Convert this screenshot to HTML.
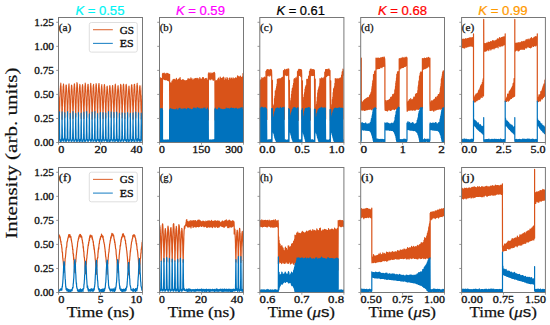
<!DOCTYPE html><html><head><meta charset="utf-8"><style>html,body{margin:0;padding:0;background:#fff;overflow:hidden}svg{display:block}</style></head><body>
<svg width="550" height="325" viewBox="0 0 550 325">
<rect width="550" height="325" fill="#fff"/>
<defs>
<clipPath id="c00"><rect x="58.50" y="17.50" width="84.00" height="125.00"/></clipPath>
<clipPath id="c01"><rect x="159.50" y="17.50" width="84.00" height="125.00"/></clipPath>
<clipPath id="c02"><rect x="259.80" y="17.50" width="84.10" height="125.00"/></clipPath>
<clipPath id="c03"><rect x="360.70" y="17.50" width="83.80" height="125.00"/></clipPath>
<clipPath id="c04"><rect x="461.60" y="17.50" width="83.80" height="125.00"/></clipPath>
<clipPath id="c10"><rect x="58.50" y="167.50" width="84.00" height="125.00"/></clipPath>
<clipPath id="c11"><rect x="159.50" y="167.50" width="84.00" height="125.00"/></clipPath>
<clipPath id="c12"><rect x="259.80" y="167.50" width="84.10" height="125.00"/></clipPath>
<clipPath id="c13"><rect x="360.70" y="167.50" width="83.80" height="125.00"/></clipPath>
<clipPath id="c14"><rect x="461.60" y="167.50" width="83.80" height="125.00"/></clipPath>
</defs>
<g clip-path="url(#c00)" fill="none" stroke-width="1.05" stroke-linejoin="round" stroke-linecap="butt">
<path stroke="#D95319" d="M58.5 90.4L58.6 91.9 58.6 95 58.7 96.6 58.8 97.8 58.8 101.4 58.9 102.6 58.9 104.6 59 106.1 59.1 108.7 59.1 111.5 59.2 113.7 59.2 115.8 59.3 116.7 59.4 118.1 59.4 116.2 59.5 113.7 59.6 111.8 59.6 109.6 59.7 107.8 59.8 104.9 59.8 102.9 59.9 99.8 59.9 98 60 96.4 60.1 94.1 60.1 92.9 60.2 90.4 60.2 89.5 60.3 87.8 60.4 87.8 60.4 85.8 60.5 86.2 60.6 85.8 60.6 84.4 60.7 84.6 60.8 84 60.8 83 60.9 85.2 60.9 85.7 61 86 61.1 86.9 61.1 88.4 61.2 89.8 61.2 90.8 61.3 92.6 61.4 95.3 61.4 96.6 61.5 98.6 61.6 101.4 61.6 102.8 61.7 105.7 61.8 106.9 61.8 109.6 61.9 111.9 61.9 114.5 62 116.3 62.1 119.2 62.1 118 62.2 115.2 62.2 114.5 62.3 110.6 62.4 109.9 62.4 106.2 62.5 104.9 62.6 101.8 62.6 100 62.7 98.9 62.8 95.4 62.8 93.4 62.9 92.6 62.9 91.1 63 89.6 63.1 88.8 63.1 86.6 63.2 86.6 63.2 85.6 63.3 85.5 63.4 85.1 63.4 85.3 63.5 83.9 63.6 85 63.6 84.9 63.7 86.1 63.8 87.4 63.8 88.2 63.9 89.5 63.9 90.6 64 92.4 64.1 94 64.1 96.4 64.2 98 64.2 98.7 64.3 102.1 64.4 104.5 64.4 105.9 64.5 107.5 64.6 111.4 64.6 112.9 64.7 115.3 64.8 117.9 64.8 118 64.9 116.8 64.9 114.8 65 113.2 65.1 110.3 65.1 108.7 65.2 106.2 65.2 104.6 65.3 102.6 65.4 99 65.4 98.1 65.5 95.7 65.6 94.1 65.6 92.7 65.7 91.3 65.8 89.3 65.8 88.6 65.9 87.5 65.9 86.6 66 85.3 66.1 85.1 66.1 85 66.2 85.5 66.2 86.1 66.3 85.1 66.4 85.6 66.4 87 66.5 87.5 66.6 88.4 66.6 89.7 66.7 91 66.8 93.4 66.8 93.9 66.9 97.4 66.9 98.1 67 100.3 67.1 102.2 67.1 103.8 67.2 106.2 67.2 109.9 67.3 112.4 67.4 113.1 67.4 116.2 67.5 117.5 67.6 117.5 67.6 117.1 67.7 115.3 67.8 111.8 67.8 109.7 67.9 107.7 67.9 105.3 68 103.6 68.1 101.8 68.1 99 68.2 97.5 68.2 96 68.3 93 68.4 91.7 68.4 89.9 68.5 89.4 68.6 88.1 68.6 87.3 68.7 86.5 68.8 85.3 68.8 85.4 68.9 84.6 68.9 84.6 69 83.8 69.1 86.2 69.1 85.5 69.2 86.8 69.2 87.8 69.3 89.7 69.4 90.5 69.4 91.3 69.5 93.4 69.6 95.1 69.6 97.2 69.7 98.3 69.8 101.1 69.8 104.5 69.9 105.8 69.9 108.7 70 111.7 70.1 112.3 70.1 113.4 70.2 116.2 70.2 118.7 70.3 118 70.4 114.9 70.4 113.4 70.5 111.3 70.6 109.2 70.6 107 70.7 104.3 70.8 102.3 70.8 100.4 70.9 99.2 70.9 96.3 71 95.2 71.1 92.5 71.1 92.3 71.2 90.3 71.2 88.9 71.3 88.6 71.4 86 71.4 85.4 71.5 86 71.6 85 71.6 85.1 71.7 86.9 71.8 85.5 71.8 86.1 71.9 86.7 71.9 88.2 72 88.7 72.1 89.9 72.1 90.4 72.2 92.4 72.2 94.3 72.3 95.2 72.4 98.2 72.4 100.1 72.5 103 72.6 103.2 72.6 105.7 72.7 107.9 72.8 110.3 72.8 112.8 72.9 114.8 72.9 117 73 118.6 73.1 116.8 73.1 113.9 73.2 112.3 73.2 110.5 73.3 108.5 73.4 106.3 73.4 102.7 73.5 101.2 73.6 99.3 73.6 97.5 73.7 96 73.8 93.6 73.8 91.3 73.9 90.5 73.9 89 74 87.8 74.1 86.6 74.1 86.7 74.2 85.2 74.2 85.1 74.3 83.8 74.4 84.7 74.4 84.1 74.5 83.9 74.6 85.5 74.6 86.4 74.7 86.8 74.8 88 74.8 89.9 74.9 90.5 74.9 91.2 75 94.2 75.1 96.1 75.1 98.5 75.2 99.8 75.2 102.9 75.3 105 75.4 105.9 75.4 109.4 75.5 110.5 75.6 112.5 75.6 115.3 75.7 117.1 75.8 116.9 75.8 116.2 75.9 114.3 75.9 112.5 76 109.4 76.1 106.2 76.1 104.2 76.2 103 76.2 100.6 76.3 98.3 76.4 95.7 76.4 94 76.5 91.9 76.6 90.2 76.6 89 76.7 87.4 76.8 86.1 76.8 85.2 76.9 84 76.9 82.6 77 82.9 77.1 83 77.1 84 77.2 83 77.2 84.8 77.3 85.1 77.4 84.6 77.4 85.7 77.5 87.4 77.6 89.7 77.6 90.5 77.7 92.4 77.8 93.5 77.8 94.5 77.9 97.8 77.9 100.5 78 103 78.1 104.7 78.1 107.1 78.2 110 78.2 111.6 78.3 114.5 78.4 115.4 78.4 117.3 78.5 116.9 78.6 115.9 78.6 113.2 78.7 111.4 78.8 109.4 78.8 107.1 78.9 105.4 78.9 103.3 79 99.9 79.1 98.5 79.1 96.3 79.2 94 79.2 93.8 79.3 91.7 79.4 89.7 79.4 88.3 79.5 87.7 79.6 86 79.6 85.7 79.7 86 79.8 85.5 79.8 84.3 79.9 84.6 79.9 86.2 80 84.8 80.1 85.9 80.1 86.3 80.2 88.3 80.2 89.5 80.3 91.3 80.4 90.7 80.4 93.9 80.5 94.7 80.6 97.9 80.6 99.5 80.7 102.6 80.8 104 80.8 105.5 80.9 109 80.9 109.8 81 112.5 81.1 115.4 81.1 117 81.2 118.7 81.2 116.9 81.3 115.3 81.4 113.3 81.4 110.8 81.5 109.1 81.6 107 81.6 104.1 81.7 101.4 81.8 100.7 81.8 97.8 81.9 96.2 81.9 94.6 82 91.9 82.1 91.2 82.1 88.6 82.2 88.7 82.2 87 82.3 86.5 82.4 86.2 82.4 84.9 82.5 85.1 82.6 84.6 82.6 85.1 82.7 86 82.8 85.9 82.8 86.6 82.9 86.9 82.9 89.1 83 89.8 83.1 92.2 83.1 92.4 83.2 95.1 83.2 97.4 83.3 98.3 83.4 99.7 83.4 103.3 83.5 105.2 83.6 107.2 83.6 109.6 83.7 111 83.8 113.8 83.8 115.9 83.9 117 83.9 118.5 84 116 84.1 114.7 84.1 112.7 84.2 110.8 84.2 106.3 84.3 105.3 84.4 102.7 84.4 100.7 84.5 98.4 84.6 96.5 84.6 93.4 84.7 93.3 84.8 92 84.8 90.1 84.9 88.9 84.9 86.5 85 85.5 85.1 85.7 85.1 85.3 85.2 84.3 85.2 83.1 85.3 85.5 85.4 83.8 85.4 85.1 85.5 84.5 85.6 86.5 85.6 87 85.7 88.9 85.8 89.9 85.8 90.1 85.9 92.1 85.9 94.6 86 96.7 86.1 99.4 86.1 100.6 86.2 102.6 86.2 104.9 86.3 107.2 86.4 110.1 86.4 111.7 86.5 113.9 86.6 115.3 86.6 116.8 86.7 117.6 86.8 116 86.8 113.5 86.9 111.6 86.9 109.4 87 106.8 87.1 105.1 87.1 101.9 87.2 100.1 87.2 97.8 87.3 96 87.4 94.5 87.4 92.8 87.5 90.8 87.6 89.5 87.6 87.7 87.7 86.8 87.8 86.6 87.8 85 87.9 85.3 87.9 84.5 88 84.2 88.1 85.2 88.1 84.2 88.2 84.7 88.2 85.5 88.3 86.5 88.4 87.5 88.4 89.1 88.5 90.1 88.6 91.8 88.6 93.1 88.7 95.7 88.8 96.8 88.8 98.9 88.9 101.2 88.9 103.6 89 105.3 89.1 108.9 89.1 109.9 89.2 112.3 89.2 114.4 89.3 116.4 89.4 118.7 89.4 117.1 89.5 114.6 89.6 112.6 89.6 110.5 89.7 109.2 89.8 105.8 89.8 103.2 89.9 101 89.9 99.4 90 98.3 90.1 94.9 90.1 93.7 90.2 93.4 90.2 90.1 90.3 89.8 90.4 88.5 90.4 87 90.5 85 90.6 85.3 90.6 84.4 90.7 83.3 90.8 83.3 90.8 84.4 90.9 84.8 90.9 85.9 91 86.3 91.1 86.6 91.1 87.7 91.2 89.1 91.2 90 91.3 92.6 91.4 94 91.4 95.4 91.5 97.4 91.6 99.2 91.6 101.8 91.7 104.4 91.8 106.2 91.8 109.3 91.9 111.9 91.9 112.8 92 115.3 92.1 117.1 92.1 119.1 92.2 116.6 92.2 114.8 92.3 112.8 92.4 111.4 92.4 108.1 92.5 105.2 92.6 103.3 92.6 101.8 92.7 99.4 92.8 97 92.8 97.2 92.9 93.9 92.9 91.9 93 90.3 93.1 88.4 93.1 87.6 93.2 87.1 93.2 86.3 93.3 85.4 93.4 85.8 93.4 85.3 93.5 84.7 93.6 84.3 93.6 85.9 93.7 86.4 93.8 87 93.8 87.3 93.9 89.2 93.9 89.6 94 92.5 94.1 93.6 94.1 95.3 94.2 96.6 94.2 98.4 94.3 101.9 94.4 103.7 94.4 105.1 94.5 107.9 94.6 110.6 94.6 111.3 94.7 113.7 94.8 115.7 94.8 118.1 94.9 117 94.9 115.9 95 113 95.1 112 95.1 109.7 95.2 106.8 95.2 105.1 95.3 102.1 95.4 100.2 95.4 98.8 95.5 96.2 95.6 94.6 95.6 92.1 95.7 91.4 95.8 89.8 95.8 87.6 95.9 85.8 95.9 85 96 85.4 96.1 84.8 96.1 83.6 96.2 84.4 96.2 85 96.3 84.6 96.4 84.8 96.4 86.2 96.5 87.5 96.6 88.4 96.6 88.4 96.7 90.6 96.8 91.8 96.8 93.3 96.9 94.8 96.9 97.3 97 98.9 97.1 101.8 97.1 103.7 97.2 106.3 97.2 107.3 97.3 110.2 97.4 112.8 97.4 114.8 97.5 116.7 97.6 117.9 97.6 117.9 97.7 115.6 97.8 113 97.8 109.1 97.9 107.7 97.9 106 98 103.3 98.1 100.3 98.1 99.4 98.2 97.4 98.2 94.5 98.3 93 98.4 91.2 98.4 90.3 98.5 87.4 98.6 86.3 98.6 85.8 98.7 84.9 98.8 85.7 98.8 83.7 98.9 83.9 98.9 83.4 99 83.4 99.1 84.3 99.1 85.6 99.2 85.1 99.2 86.7 99.3 87.5 99.4 89 99.4 90.3 99.5 93 99.6 92.7 99.6 95.2 99.7 96.7 99.8 98.3 99.8 101.6 99.9 104.9 99.9 106.7 100 109.1 100.1 111 100.1 112.9 100.2 116.3 100.2 117 100.3 119.1 100.4 116.3 100.4 114.6 100.5 112.6 100.6 110.4 100.6 108.5 100.7 106.3 100.8 104.8 100.8 101.8 100.9 98.6 100.9 96.6 101 95.1 101.1 93.8 101.1 93 101.2 90.3 101.2 89.8 101.3 88.7 101.4 87.9 101.4 86.8 101.5 86.5 101.6 85.9 101.6 86.3 101.7 85.8 101.8 84.5 101.8 86.2 101.9 86.9 101.9 87.1 102 88 102.1 90.1 102.1 90.9 102.2 91.6 102.2 93.6 102.3 95.3 102.4 96.3 102.4 99.5 102.5 101.1 102.6 103.5 102.6 104.5 102.7 108.7 102.8 110.1 102.8 112.2 102.9 113.6 102.9 115.6 103 117 103.1 118.6 103.1 115.4 103.2 113.9 103.2 112 103.3 109.1 103.4 107.7 103.4 106.1 103.5 103 103.6 101.5 103.6 98.9 103.7 96.4 103.8 94.6 103.8 92.1 103.9 91.5 103.9 90.8 104 89.1 104.1 88.1 104.1 87.3 104.2 85.6 104.2 85.7 104.3 86.1 104.4 84.4 104.4 84.9 104.5 84.8 104.6 85.4 104.6 85.7 104.7 86.9 104.8 87.2 104.8 88.9 104.9 90.2 104.9 91.7 105 94.5 105.1 95.5 105.1 97.4 105.2 99.2 105.2 102.2 105.3 102.6 105.4 105.7 105.4 108.7 105.5 111.2 105.6 112.6 105.6 114.6 105.7 116.9 105.8 118.2 105.8 117.6 105.9 115 105.9 113.7 106 111.2 106.1 108.5 106.1 105.5 106.2 105.4 106.2 103 106.3 101.2 106.4 98.3 106.4 97.6 106.5 95.5 106.6 93.6 106.6 92.6 106.7 91.3 106.8 89.8 106.8 89.7 106.9 88.5 106.9 87.3 107 86.5 107.1 86.4 107.1 87.2 107.2 86.5 107.2 86.1 107.3 86.7 107.4 87.7 107.4 89 107.5 89.2 107.6 91.1 107.6 92.7 107.7 94 107.8 94.3 107.8 96.8 107.9 98.1 107.9 101 108 102.2 108.1 105.2 108.1 107 108.2 107.6 108.2 110.8 108.3 113.6 108.4 115.4 108.4 117 108.5 117.6 108.6 116.9 108.6 115.6 108.7 112.7 108.8 110.4 108.8 108.2 108.9 105.3 108.9 103.7 109 101.3 109.1 100.4 109.1 97.3 109.2 94.7 109.2 93.8 109.3 92.4 109.4 91 109.4 88.8 109.5 89.2 109.6 87.7 109.6 86.6 109.7 85.8 109.8 86.1 109.8 85.4 109.9 85.7 109.9 85.7 110 86.2 110.1 87.3 110.1 87.4 110.2 87.8 110.2 89.9 110.3 90.8 110.4 91.7 110.4 94.2 110.5 95.2 110.6 97.7 110.6 98.4 110.7 99.7 110.8 102 110.8 105.4 110.9 107 110.9 109.5 111 111.7 111.1 113 111.1 116.6 111.2 117.1 111.2 117.8 111.3 115.2 111.4 113.9 111.4 112.3 111.5 109.7 111.6 107.3 111.6 105.5 111.7 103.2 111.8 101.7 111.8 100.7 111.9 97 111.9 95.3 112 94 112.1 92.5 112.1 90.5 112.2 90.2 112.2 89.2 112.3 88 112.4 86.5 112.4 87.4 112.5 85.6 112.6 86.5 112.6 86.8 112.7 85.6 112.8 86.8 112.8 88.1 112.9 88.3 112.9 88.6 113 89.5 113.1 91.8 113.1 92.7 113.2 94.1 113.2 96.6 113.3 97.9 113.4 100 113.4 102.3 113.5 104.3 113.6 106.1 113.6 108.3 113.7 110.8 113.8 112.8 113.8 114 113.9 116.4 113.9 117.7 114 116.5 114.1 114.9 114.1 111.8 114.2 111.4 114.2 108.2 114.3 106.6 114.4 103.2 114.4 101.1 114.5 101.1 114.6 98.4 114.6 95.5 114.7 93.6 114.8 92 114.8 90.9 114.9 89.1 114.9 87.8 115 87.1 115.1 85.6 115.1 86.8 115.2 84.6 115.2 85.3 115.3 84 115.4 84.8 115.4 85.5 115.5 85.2 115.6 86.6 115.6 87.5 115.7 89 115.8 89.3 115.8 90.4 115.9 91.7 115.9 94 116 95.2 116.1 97.7 116.1 99.8 116.2 101.5 116.2 103.5 116.3 106.5 116.4 108.7 116.4 110.9 116.5 112.9 116.6 115.6 116.6 116.5 116.7 118.6 116.8 116.4 116.8 115.2 116.9 112.4 116.9 110.2 117 108.5 117.1 105 117.1 103.8 117.2 100.8 117.2 99.3 117.3 98.2 117.4 96.2 117.4 94 117.5 92.6 117.6 91.1 117.6 90 117.7 89.7 117.8 87.8 117.8 88.2 117.9 86.1 117.9 86.3 118 86 118.1 85.7 118.1 85.5 118.2 86.9 118.2 87.6 118.3 87.9 118.4 89.4 118.4 89.9 118.5 89.6 118.6 92.6 118.6 93.2 118.7 96 118.8 96.9 118.8 99.1 118.9 101 118.9 102.7 119 104.2 119.1 107.2 119.1 109.4 119.2 112.2 119.2 113.5 119.3 115.9 119.4 117.2 119.4 117.8 119.5 114.9 119.6 115 119.6 111.8 119.7 108.9 119.8 107.3 119.8 105.3 119.9 102.8 119.9 101.2 120 98.2 120.1 94.9 120.1 93.7 120.2 93.3 120.2 91.5 120.3 89.7 120.4 87.6 120.4 87.5 120.5 86.4 120.6 84.7 120.6 84.2 120.7 84.5 120.8 84.7 120.8 85 120.9 84.7 120.9 86 121 84.9 121.1 86.6 121.1 86.9 121.2 87.3 121.2 89.1 121.3 92 121.4 92.5 121.4 94.1 121.5 97.1 121.6 99.3 121.6 100.9 121.7 104 121.8 104.4 121.8 109 121.9 110.5 121.9 112.2 122 114.4 122.1 116.2 122.1 118 122.2 117.4 122.2 114.6 122.3 114.4 122.4 110.9 122.4 109.1 122.5 106.3 122.6 104 122.6 102.5 122.7 100.2 122.8 97.3 122.8 95.6 122.9 94.3 122.9 91 123 89.2 123.1 90 123.1 87.7 123.2 85.3 123.2 85.4 123.3 85 123.4 84.7 123.4 84.6 123.5 84.3 123.6 84.6 123.6 84.1 123.7 85.3 123.8 86 123.8 87.3 123.9 87.7 123.9 89.4 124 90.4 124.1 91.3 124.1 93.4 124.2 95.2 124.2 97.2 124.3 99.4 124.4 101.7 124.4 104 124.5 105.6 124.6 109 124.6 109.8 124.7 112.8 124.8 115.4 124.8 117.2 124.9 118.8 124.9 116.6 125 115.1 125.1 111.9 125.1 110.8 125.2 109.4 125.2 106.2 125.3 104.8 125.4 101.4 125.4 98.7 125.5 96.9 125.6 96.1 125.6 94 125.7 90.9 125.8 90.2 125.8 89 125.9 87.2 125.9 85.3 126 85.2 126.1 85.2 126.1 84.6 126.2 84.2 126.2 84.9 126.3 85.3 126.4 85 126.4 86.1 126.5 86.3 126.6 87.2 126.6 87 126.7 90.1 126.8 91.1 126.8 92.8 126.9 94.2 126.9 95.7 127 98.5 127.1 100.8 127.1 103.4 127.2 105.2 127.2 106.6 127.3 109.1 127.4 112 127.4 113.8 127.5 115.6 127.6 117.3 127.6 118.3 127.7 116.3 127.8 115.3 127.8 112.9 127.9 109.2 127.9 109.3 128 106.2 128.1 103.8 128.1 102.1 128.2 100.4 128.2 98.1 128.3 96.3 128.4 94.7 128.4 94.3 128.5 91.9 128.6 91.1 128.6 89.8 128.7 88.5 128.8 87.5 128.8 86.8 128.9 87.2 128.9 86.2 129 86.1 129.1 86.3 129.1 86.6 129.2 88 129.2 88.8 129.3 89.1 129.4 91.5 129.4 91.8 129.5 93.7 129.6 95.1 129.6 97.5 129.7 98.8 129.8 100.2 129.8 101.6 129.9 103.6 129.9 106.3 130 108.4 130.1 110.9 130.1 112.3 130.2 114.7 130.2 116.1 130.3 117.1 130.4 117.4 130.4 116.3 130.5 113.8 130.6 112 130.6 109.7 130.7 106 130.8 104.4 130.8 103.2 130.9 99.9 130.9 97.5 131 96.5 131.1 94.8 131.1 92.9 131.2 91 131.2 89.4 131.3 87.8 131.4 86.7 131.4 85.8 131.5 85 131.6 84.9 131.6 85.9 131.7 84.9 131.8 84.7 131.8 85.4 131.9 85.1 131.9 86.5 132 87.7 132.1 87.4 132.1 89.1 132.2 90.7 132.2 91.8 132.3 93.4 132.4 95.6 132.4 99.2 132.5 100.1 132.6 102.1 132.6 104.6 132.7 106.1 132.8 107.7 132.8 110.9 132.9 113.5 132.9 113.8 133 117.2 133.1 119.1 133.1 116.6 133.2 114.5 133.2 113 133.3 109.9 133.4 108.4 133.4 106.4 133.5 103.5 133.6 101 133.6 99.7 133.7 97.1 133.8 95.4 133.8 91.9 133.9 92.3 133.9 89.5 134 89 134.1 87.8 134.1 86.3 134.2 85.3 134.2 84.4 134.3 84.5 134.4 84.8 134.4 84.7 134.5 84.2 134.6 84.5 134.6 84.6 134.7 85.9 134.8 86.5 134.8 87.3 134.9 89.4 134.9 91.8 135 93.2 135.1 95.1 135.1 95.2 135.2 98.6 135.2 99.5 135.3 102 135.4 103.5 135.4 106.2 135.5 109.1 135.6 111.4 135.6 113.4 135.7 115.5 135.8 117.8 135.8 118 135.9 115.2 135.9 115 136 111.7 136.1 110.1 136.1 107.2 136.2 104.6 136.2 102.9 136.3 100.2 136.4 99.5 136.4 95.9 136.5 95 136.6 92.5 136.6 91.1 136.7 91.2 136.8 88.8 136.8 87.1 136.9 85.3 136.9 85.3 137 84.7 137.1 85.3 137.1 83.4 137.2 83.2 137.2 84.4 137.3 85 137.4 86.4 137.4 85.8 137.5 85.7 137.6 88 137.6 89 137.7 91 137.8 93.5 137.8 94 137.9 97.3 137.9 98.8 138 100.6 138.1 102.4 138.1 104.9 138.2 107.2 138.2 110.1 138.3 112.7 138.4 114.1 138.4 116.6 138.5 118.8 138.6 118.2 138.6 115.9 138.7 114.6 138.8 112.3 138.8 110.3 138.9 107.1 138.9 104.8 139 101.7 139.1 101.7 139.1 99.3 139.2 96.4 139.2 95.3 139.3 93.7 139.4 91 139.4 90.8 139.5 90.1 139.6 89.1 139.6 87.3 139.7 86.6 139.8 87 139.8 86.5 139.9 85.5 139.9 85.5 140 86.5 140.1 86.2 140.1 86.9 140.2 89.1 140.2 89.2 140.3 90 140.4 91.9 140.4 94.3 140.5 94.8 140.6 96 140.6 97.3 140.7 101.5 140.8 100.7 140.8 105 140.9 105.9 140.9 107.9 141 110.2 141.1 112.8 141.1 115.6 141.2 116.5 141.2 118.9 141.3 118.3 141.4 113.2 141.4 112.3 141.5 109.5 141.6 108.9 141.6 105.3 141.7 103 141.8 100.8 141.8 99.6 141.9 98.3 141.9 95.8 142 95.2 142.1 93.2 142.1 90.7 142.2 89.9 142.2 88.2 142.3 87.2 142.4 85.1 142.4 84.8 142.5 85.2"/>
<path stroke="#0072BD" d="M58.5 139.9L58.6 141 58.6 140.7 58.7 139.9 58.8 140.9 58.8 139.8 58.9 139.4 58.9 136.8 59 133.1 59.1 130.5 59.1 125 59.2 120.4 59.2 116.1 59.3 113.5 59.4 111.7 59.4 113.4 59.5 118.7 59.6 124.5 59.6 128.7 59.7 133.5 59.8 135.9 59.8 138.2 59.9 139.4 59.9 139.8 60 140.7 60.1 140.7 60.1 141.5 60.2 140.8 60.2 141.4 60.3 140.7 60.4 141.1 60.4 140.5 60.5 140.3 60.6 141.4 60.6 141 60.7 141.1 60.8 140.1 60.8 139.6 60.9 140.1 60.9 140.8 61 139.7 61.1 141.5 61.1 139.7 61.2 141 61.2 142.2 61.3 139 61.4 139.6 61.4 141 61.5 140 61.6 139.6 61.6 138.2 61.7 137 61.8 133.4 61.8 128.6 61.9 123.7 61.9 118.2 62 115 62.1 111.7 62.1 114.1 62.2 116.4 62.2 122.1 62.3 126.8 62.4 130 62.4 135.1 62.5 136.9 62.6 138.9 62.6 140.4 62.7 140.4 62.8 140.7 62.8 140.8 62.9 140.1 62.9 140.2 63 140.9 63.1 141.1 63.1 140.4 63.2 140.6 63.2 140 63.3 139 63.4 140.1 63.4 140.6 63.5 140.7 63.6 141.1 63.6 141.1 63.7 141.2 63.8 140.8 63.8 140.8 63.9 140.1 63.9 140.8 64 140.7 64.1 141.2 64.1 139.5 64.2 140 64.2 138.9 64.3 138.7 64.4 136.8 64.4 135.4 64.5 131.3 64.6 125.6 64.6 122.8 64.7 116.6 64.8 112.9 64.8 112.5 64.9 113.6 64.9 116.9 65 122.8 65.1 127.3 65.1 132.6 65.2 135.9 65.2 138.2 65.3 139.3 65.4 139.9 65.4 140.1 65.5 141.3 65.6 139.4 65.6 139.9 65.7 140.1 65.8 140.8 65.8 140.6 65.9 140.3 65.9 140.3 66 141.6 66.1 140.1 66.1 138.9 66.2 141.7 66.2 140 66.3 140.4 66.4 140.6 66.4 139.8 66.5 141.3 66.6 140.5 66.6 139.7 66.7 140.7 66.8 140.8 66.8 140.5 66.9 140.7 66.9 139.3 67 140.2 67.1 138.2 67.1 137.7 67.2 133.8 67.2 130.3 67.3 126.9 67.4 120.2 67.4 116.3 67.5 113.1 67.6 111.6 67.6 115.3 67.7 119.4 67.8 123 67.8 128.9 67.9 132.3 67.9 136.1 68 138.8 68.1 139.5 68.1 139.4 68.2 139.8 68.2 140.5 68.3 140.5 68.4 140.6 68.4 140.9 68.5 139.4 68.6 140.6 68.6 141.2 68.7 140.9 68.8 140.1 68.8 140.2 68.9 140.7 68.9 141 69 140.6 69.1 141.6 69.1 141.3 69.2 140.1 69.2 140.9 69.3 140.4 69.4 139.9 69.4 140.2 69.5 140.5 69.6 139.2 69.6 140 69.7 140.3 69.8 139 69.8 138.1 69.9 136.8 69.9 133.1 70 129.1 70.1 125.2 70.1 119.2 70.2 115.2 70.2 113.3 70.3 114.5 70.4 116.5 70.4 120.8 70.5 125.8 70.6 131.3 70.6 134 70.7 137.8 70.8 138.9 70.8 139 70.9 140.6 70.9 140.7 71 139.9 71.1 140.8 71.1 140.7 71.2 140.4 71.2 140 71.3 141.9 71.4 141.1 71.4 141.2 71.5 141.2 71.6 141.1 71.6 141.1 71.7 140.4 71.8 141.1 71.8 140.5 71.9 140.3 71.9 141 72 140.5 72.1 139.6 72.1 140.4 72.2 140.9 72.2 140.6 72.3 141 72.4 140.2 72.4 139.4 72.5 139.6 72.6 137.9 72.6 134.7 72.7 132.2 72.8 127.3 72.8 122.9 72.9 118 72.9 114.3 73 111.5 73.1 114.2 73.1 117.8 73.2 122.6 73.2 127.5 73.3 131.5 73.4 135.3 73.4 136.6 73.5 139 73.6 139.1 73.6 140.2 73.7 140.1 73.8 141.4 73.8 140.6 73.9 140.6 73.9 140.7 74 141.8 74.1 140.1 74.1 140.8 74.2 140.8 74.2 140.7 74.3 140.7 74.4 140.3 74.4 141.3 74.5 141.1 74.6 140.4 74.6 140.5 74.7 140.8 74.8 140.9 74.8 141.1 74.9 140.6 74.9 139.9 75 141.1 75.1 139.6 75.1 139.7 75.2 140 75.2 138.3 75.3 137.9 75.4 135.4 75.4 131.3 75.5 126 75.6 120.8 75.6 116.4 75.7 113.2 75.8 114 75.8 114.5 75.9 119.7 75.9 124.2 76 129.1 76.1 133.8 76.1 137 76.2 138.9 76.2 139.5 76.3 139.7 76.4 140.1 76.4 141.1 76.5 141 76.6 141.1 76.6 140.3 76.7 141.8 76.8 139.9 76.8 140.9 76.9 141 76.9 140.4 77 140 77.1 140.4 77.1 140 77.2 140.5 77.2 139.9 77.3 139.9 77.4 140.6 77.4 139.7 77.5 140.5 77.6 140.5 77.6 141.1 77.7 140.7 77.8 140.1 77.8 141.1 77.9 139.7 77.9 139.3 78 138.2 78.1 137.6 78.1 133.3 78.2 128.7 78.2 124.5 78.3 119 78.4 116.3 78.4 112.4 78.5 113.6 78.6 115.5 78.6 121.5 78.7 125.1 78.8 130.5 78.8 133.8 78.9 137.5 78.9 139.1 79 138.4 79.1 140.7 79.1 140.8 79.2 140.7 79.2 141.2 79.3 139.9 79.4 139.6 79.4 141 79.5 141.6 79.6 139.9 79.6 139.9 79.7 140.1 79.8 139.9 79.8 141.1 79.9 140.7 79.9 141.4 80 141.4 80.1 140 80.1 141 80.2 139.3 80.2 140.5 80.3 140.9 80.4 140.1 80.4 139.5 80.5 140.2 80.6 141 80.6 139.8 80.7 138.4 80.8 138.1 80.8 136 80.9 131.6 80.9 127.7 81 123.4 81.1 118.2 81.1 114.9 81.2 113 81.2 114.3 81.3 117 81.4 121.9 81.4 128.3 81.5 131.6 81.6 134.8 81.6 137.4 81.7 138.6 81.8 140.2 81.8 140.9 81.9 139.9 81.9 141.2 82 141.8 82.1 140 82.1 141 82.2 140.8 82.2 141.4 82.3 141.3 82.4 141.2 82.4 140.8 82.5 140.4 82.6 141.9 82.6 140.1 82.7 141.3 82.8 141.2 82.8 140.2 82.9 140.6 82.9 141.5 83 139.5 83.1 141.1 83.1 140.4 83.2 140.4 83.2 139.6 83.3 140.5 83.4 139.2 83.4 139.3 83.5 136.5 83.6 134.9 83.6 130.9 83.7 124.8 83.8 120.6 83.8 116.2 83.9 112 83.9 112.6 84 115.2 84.1 118.2 84.1 124.3 84.2 128 84.2 132.3 84.3 136.5 84.4 138.6 84.4 139.3 84.5 140.1 84.6 140.9 84.6 140.2 84.7 141.7 84.8 140.8 84.8 140.8 84.9 140.7 84.9 140.4 85 141.3 85.1 140.2 85.1 140.7 85.2 141 85.2 141.4 85.3 141.3 85.4 140.4 85.4 141.1 85.5 140.5 85.6 140 85.6 140 85.7 139.7 85.8 140.7 85.8 141.2 85.9 140 85.9 140.3 86 139.7 86.1 140.1 86.1 138.8 86.2 137.9 86.2 135.9 86.3 133 86.4 128.8 86.4 123.9 86.5 118.7 86.6 114.1 86.6 112.7 86.7 111.6 86.8 115.4 86.8 119.3 86.9 125.1 86.9 130.1 87 132.8 87.1 137 87.1 139.4 87.2 140.1 87.2 140.4 87.3 139.2 87.4 140.4 87.4 140 87.5 141.1 87.6 140.4 87.6 140.2 87.7 139.5 87.8 141 87.8 140.2 87.9 140.4 87.9 141.2 88 140.6 88.1 140.7 88.1 141.9 88.2 140.2 88.2 140.3 88.3 140.8 88.4 141.3 88.4 139.7 88.5 140.4 88.6 140 88.6 139.7 88.7 140.8 88.8 139.9 88.8 140.1 88.9 139.3 88.9 138 89 135.7 89.1 131.7 89.1 127.9 89.2 123.1 89.2 118.4 89.3 114.5 89.4 113.8 89.4 114.6 89.5 117.6 89.6 122.6 89.6 127.3 89.7 132.1 89.8 134.1 89.8 136.9 89.9 138.8 89.9 139.9 90 139 90.1 140.3 90.1 140.6 90.2 140.4 90.2 140.4 90.3 139.8 90.4 140.6 90.4 139.4 90.5 141.1 90.6 140.2 90.6 141.2 90.7 139.5 90.8 140.8 90.8 140.6 90.9 140 90.9 139.9 91 141.2 91.1 140.8 91.1 141.4 91.2 140.5 91.2 140.6 91.3 140.8 91.4 140.9 91.4 140.7 91.5 140.7 91.6 139.5 91.6 138 91.7 138.3 91.8 134.6 91.8 131 91.9 125.7 91.9 121.3 92 116.2 92.1 113.7 92.1 112 92.2 114.3 92.2 118.3 92.3 123.1 92.4 128.5 92.4 133.6 92.5 135.6 92.6 138 92.6 139.5 92.7 139.5 92.8 139.7 92.8 141.1 92.9 141 92.9 139.7 93 139.8 93.1 141 93.1 141.3 93.2 140.9 93.2 140.9 93.3 141.5 93.4 140.6 93.4 141.3 93.5 141.3 93.6 140 93.6 141 93.7 140.6 93.8 140.2 93.8 140.1 93.9 140.8 93.9 140.5 94 141 94.1 139.5 94.1 140.1 94.2 141 94.2 140.1 94.3 139.2 94.4 138.2 94.4 135.5 94.5 132.7 94.6 129.7 94.6 124.5 94.7 120.2 94.8 115.1 94.8 112.8 94.9 111.5 94.9 115.6 95 121.2 95.1 125.5 95.1 129.9 95.2 134.7 95.2 137.3 95.3 138.8 95.4 139.5 95.4 140.3 95.5 140.9 95.6 140.1 95.6 140.9 95.7 140.9 95.8 141.4 95.8 141 95.9 140.2 95.9 141.5 96 140.6 96.1 140.2 96.1 140.8 96.2 140.4 96.2 141.2 96.3 139.8 96.4 139.9 96.4 140.4 96.5 141.6 96.6 141.2 96.6 140 96.7 139.6 96.8 140.4 96.8 139.8 96.9 140.8 96.9 140.5 97 140 97.1 139.1 97.1 138.9 97.2 135.2 97.2 131.7 97.3 128.7 97.4 123.8 97.4 118 97.5 114.9 97.6 114.3 97.6 113.5 97.7 117 97.8 122.1 97.8 125.7 97.9 131.4 97.9 135.5 98 137.5 98.1 139.6 98.1 140.3 98.2 140.1 98.2 140.8 98.3 140.8 98.4 139.6 98.4 140.1 98.5 140.1 98.6 140.3 98.6 140.3 98.7 139.7 98.8 140.6 98.8 139.5 98.9 141.1 98.9 140.7 99 141.4 99.1 140.8 99.1 140.3 99.2 139.7 99.2 141 99.3 140.6 99.4 140.8 99.4 141 99.5 141.2 99.6 140.5 99.6 141.5 99.7 140.2 99.8 139.8 99.8 139.3 99.9 137.8 99.9 135.4 100 129.7 100.1 126.7 100.1 119.8 100.2 115.6 100.2 113 100.3 112.6 100.4 113.2 100.4 116.7 100.5 123.3 100.6 128.2 100.6 131.8 100.7 135.6 100.8 136.9 100.8 139.7 100.9 139.7 100.9 141.1 101 139.3 101.1 141 101.1 141.8 101.2 140.6 101.2 140.7 101.3 139.5 101.4 140.8 101.4 140.6 101.5 140.2 101.6 139.7 101.6 140.6 101.7 140 101.8 140.3 101.8 140.7 101.9 140.5 101.9 140.6 102 141.1 102.1 139.9 102.1 141.4 102.2 139.9 102.2 140 102.3 140.6 102.4 140.8 102.4 140.3 102.5 139.3 102.6 138.1 102.6 136.4 102.7 133 102.8 129.8 102.8 124.4 102.9 120.3 102.9 114.7 103 112.6 103.1 113 103.1 114.6 103.2 119.2 103.2 126.4 103.3 129.7 103.4 134.6 103.4 136.1 103.5 137.1 103.6 139.9 103.6 140.1 103.7 140.6 103.8 140.3 103.8 140.2 103.9 139.8 103.9 141.1 104 139.7 104.1 141.1 104.1 140.4 104.2 139.9 104.2 140.2 104.3 141.1 104.4 141 104.4 140.8 104.5 140.6 104.6 139.9 104.6 141.3 104.7 140.3 104.8 140.2 104.8 140.3 104.9 140.3 104.9 139.7 105 140.3 105.1 140 105.1 140 105.2 139 105.2 140.4 105.3 137.3 105.4 136 105.4 132.8 105.5 128.9 105.6 124.4 105.6 118.7 105.7 115.2 105.8 112.9 105.8 114.9 105.9 116.3 105.9 121.6 106 126.9 106.1 131.8 106.1 135.4 106.2 138.1 106.2 139.3 106.3 139.9 106.4 140.4 106.4 141.3 106.5 140.7 106.6 141.1 106.6 140.5 106.7 139.5 106.8 140.2 106.8 140.8 106.9 141.5 106.9 141.4 107 141.6 107.1 140.2 107.1 141 107.2 140.5 107.2 140.9 107.3 140.5 107.4 139.8 107.4 141 107.5 140.8 107.6 141 107.6 140.1 107.7 141.2 107.8 141.2 107.8 141.3 107.9 141.1 107.9 139.6 108 137.5 108.1 138 108.1 134.3 108.2 131.1 108.2 127.2 108.3 121.6 108.4 116.9 108.4 114 108.5 111.6 108.6 115.5 108.6 117.9 108.7 122.9 108.8 128.4 108.8 132.4 108.9 135.3 108.9 137.9 109 139.1 109.1 139.6 109.1 141.5 109.2 139.6 109.2 139.2 109.3 140 109.4 140 109.4 141.4 109.5 140.6 109.6 141 109.6 140.9 109.7 140 109.8 141 109.8 140.7 109.9 141.7 109.9 140.7 110 140.5 110.1 141 110.1 141 110.2 139.5 110.2 141.3 110.3 141.2 110.4 141 110.4 139.9 110.5 139.3 110.6 140.2 110.6 140.6 110.7 139.9 110.8 137.9 110.8 137.2 110.9 132.9 110.9 128.9 111 124.8 111.1 119.3 111.1 114.9 111.2 111.9 111.2 113.4 111.3 114.5 111.4 119.7 111.4 125 111.5 129.5 111.6 133.8 111.6 137.2 111.7 139.4 111.8 140.1 111.8 139.3 111.9 139.3 111.9 140.1 112 139.9 112.1 140.9 112.1 140.6 112.2 140.4 112.2 141.2 112.3 141.1 112.4 140.5 112.4 140.8 112.5 141.2 112.6 140.4 112.6 140.7 112.7 140 112.8 140.6 112.8 140.8 112.9 140.5 112.9 140.7 113 141 113.1 140.8 113.1 140.1 113.2 140.2 113.2 139.8 113.3 141.3 113.4 140.3 113.4 139.6 113.5 138 113.6 136.2 113.6 133 113.7 127.9 113.8 123.2 113.8 119.1 113.9 113.8 113.9 112.2 114 113.9 114.1 116.2 114.1 121.7 114.2 125.7 114.2 131.2 114.3 135.2 114.4 137.6 114.4 139.4 114.5 139.7 114.6 140.2 114.6 140.4 114.7 140.9 114.8 142.7 114.8 140.5 114.9 141.7 114.9 140.4 115 139.9 115.1 140.4 115.1 140.8 115.2 140.7 115.2 140.7 115.3 140.9 115.4 140.9 115.4 141.1 115.5 139.9 115.6 140.6 115.6 140 115.7 140.7 115.8 140.5 115.8 140.7 115.9 140.3 115.9 140.1 116 140.3 116.1 140.7 116.1 140.3 116.2 138.1 116.2 137.6 116.3 135.1 116.4 130.5 116.4 126 116.5 121.1 116.6 116.9 116.6 112.1 116.7 112.2 116.8 113.7 116.8 117.8 116.9 123.5 116.9 128.6 117 132 117.1 135.4 117.1 138.1 117.2 139.9 117.2 140.8 117.3 140.5 117.4 141.3 117.4 140 117.5 139.9 117.6 138.9 117.6 140.1 117.7 140.9 117.8 141.1 117.8 142.6 117.9 140.9 117.9 140.7 118 140 118.1 140.2 118.1 140.2 118.2 140.5 118.2 140.2 118.3 139.7 118.4 141.2 118.4 140.8 118.5 141.4 118.6 139.6 118.6 139.8 118.7 140.1 118.8 141.1 118.8 140.1 118.9 139.8 118.9 138.6 119 136.9 119.1 133.7 119.1 130.2 119.2 124.6 119.2 119.9 119.3 115.9 119.4 113.2 119.4 113.2 119.5 114.8 119.6 119.6 119.6 124.4 119.7 129.7 119.8 134.4 119.8 136 119.9 139.1 119.9 139.2 120 139.9 120.1 141.4 120.1 141.1 120.2 140.9 120.2 141 120.3 141.3 120.4 140.1 120.4 140.7 120.5 140.4 120.6 140.8 120.6 140.4 120.7 141 120.8 140.6 120.8 140.2 120.9 140.6 120.9 140.8 121 141.2 121.1 140.5 121.1 140.4 121.2 140.7 121.2 141 121.3 140.3 121.4 139.1 121.4 140.7 121.5 140.2 121.6 139.8 121.6 140.9 121.7 138.1 121.8 136.4 121.8 131.9 121.9 128.5 121.9 123.8 122 118.4 122.1 114.3 122.1 112.8 122.2 113.2 122.2 117 122.3 121 122.4 125.6 122.4 129.6 122.5 134.2 122.6 137.1 122.6 138.2 122.7 139.2 122.8 139.3 122.8 139.8 122.9 140.6 122.9 140.4 123 140.5 123.1 140.4 123.1 140.5 123.2 141 123.2 141.8 123.3 141 123.4 141.7 123.4 140.5 123.5 140.6 123.6 141.5 123.6 140.2 123.7 140.1 123.8 140.5 123.8 139.6 123.9 139.5 123.9 141.3 124 140 124.1 140.3 124.1 140.3 124.2 139.9 124.2 140.7 124.3 140.2 124.4 139.5 124.4 138 124.5 135.1 124.6 132.2 124.6 127.3 124.7 121.1 124.8 116.7 124.8 113 124.9 113.2 124.9 114.1 125 117.7 125.1 122.3 125.1 127.8 125.2 131.5 125.2 135.5 125.3 137.8 125.4 139.2 125.4 139.6 125.5 140.6 125.6 139.8 125.6 140.3 125.7 140.5 125.8 140.6 125.8 140.3 125.9 140 125.9 140 126 140.4 126.1 140.1 126.1 140.5 126.2 139.9 126.2 140.6 126.3 141.8 126.4 139.8 126.4 140.5 126.5 141.3 126.6 140.7 126.6 141.1 126.7 139.4 126.8 140.3 126.8 141.5 126.9 140.2 126.9 140.7 127 139.1 127.1 140.3 127.1 140 127.2 136.9 127.2 134.4 127.3 130.5 127.4 126.7 127.4 120.2 127.5 115.1 127.6 114.5 127.6 112.5 127.7 115.7 127.8 118.1 127.8 124.2 127.9 129.5 127.9 132.8 128 136.2 128.1 138.8 128.1 139.1 128.2 140.4 128.2 141.4 128.3 139.3 128.4 140.8 128.4 140.9 128.5 140.4 128.6 141.5 128.6 141.4 128.7 140.9 128.8 140.9 128.8 140.5 128.9 139.9 128.9 140.9 129 140.3 129.1 140.2 129.1 141.2 129.2 140.4 129.2 141.1 129.3 140 129.4 140.3 129.4 140.6 129.5 141.3 129.6 140.5 129.6 140.9 129.7 140 129.8 140.1 129.8 139.9 129.9 137.7 129.9 135.7 130 133.3 130.1 128 130.1 123.8 130.2 118.8 130.2 114.6 130.3 113.2 130.4 113.5 130.4 116.3 130.5 119.9 130.6 125 130.6 130.8 130.7 133.6 130.8 137.2 130.8 138.6 130.9 139.3 130.9 140.1 131 139.1 131.1 140.4 131.1 141.3 131.2 139.8 131.2 140.8 131.3 140.8 131.4 142.3 131.4 140 131.5 140.1 131.6 140.1 131.6 140 131.7 139.6 131.8 140.6 131.8 140 131.9 141 131.9 140.8 132 140 132.1 140.4 132.1 141.3 132.2 140.4 132.2 140.7 132.3 141 132.4 140.2 132.4 140.5 132.5 140.8 132.6 139.8 132.6 136.7 132.7 136.2 132.8 131.6 132.8 126.9 132.9 121.8 132.9 118.1 133 114.2 133.1 112.8 133.1 113.8 133.2 118.1 133.2 123.2 133.3 127 133.4 131.5 133.4 135.3 133.5 138.2 133.6 139 133.6 139.9 133.7 139.8 133.8 141.2 133.8 140.5 133.9 140.7 133.9 141.2 134 140.5 134.1 140.6 134.1 140.8 134.2 140.3 134.2 141.4 134.3 140.6 134.4 140.3 134.4 140.4 134.5 140 134.6 141.3 134.6 141.4 134.7 140.4 134.8 140.3 134.8 139.4 134.9 140.2 134.9 141.1 135 140.1 135.1 141 135.1 141.3 135.2 138.7 135.2 139.5 135.3 138.3 135.4 136.7 135.4 133.2 135.5 130.2 135.6 124.8 135.6 121 135.7 116.7 135.8 112.3 135.8 112 135.9 114.7 135.9 118.9 136 124 136.1 129.5 136.1 132.4 136.2 136 136.2 138 136.3 139.3 136.4 139.5 136.4 140.1 136.5 140.1 136.6 141.2 136.6 140.3 136.7 139.3 136.8 140.9 136.8 140.7 136.9 140.1 136.9 140 137 140.2 137.1 141.5 137.1 140.3 137.2 141.3 137.2 141.1 137.3 140.3 137.4 140.7 137.4 140.1 137.5 138.8 137.6 140.1 137.6 140.2 137.7 141.1 137.8 140.9 137.8 141.1 137.9 140.7 137.9 140.7 138 139.9 138.1 138.4 138.1 136.9 138.2 134.1 138.2 129.9 138.3 123.9 138.4 119.2 138.4 114.7 138.5 112.7 138.6 113.9 138.6 116.1 138.7 121.8 138.8 124.7 138.8 130 138.9 134.6 138.9 137.8 139 138.6 139.1 140.8 139.1 140.7 139.2 140 139.2 140.5 139.3 140.8 139.4 140 139.4 141.2 139.5 140.4 139.6 140.9 139.6 141.1 139.7 140.3 139.8 141.1 139.8 139.5 139.9 140.9 139.9 139.4 140 141.2 140.1 140.2 140.1 141.3 140.2 141.4 140.2 140.5 140.3 140.2 140.4 141.3 140.4 139.9 140.5 141 140.6 140.4 140.6 140.1 140.7 139.6 140.8 140.2 140.8 136.8 140.9 135.1 140.9 132.2 141 128 141.1 123.4 141.1 118.4 141.2 113.9 141.2 113.1 141.3 114.8 141.4 117.9 141.4 121.5 141.5 127.6 141.6 132.3 141.6 134.6 141.7 137.5 141.8 139.1 141.8 140.3 141.9 141.2 141.9 141.2 142 140.8 142.1 140.7 142.1 140.4 142.2 140.3 142.2 140.4 142.3 140.4 142.4 141.2 142.4 141.8 142.5 140.9"/>
</g>
<g clip-path="url(#c01)" fill="none" stroke-width="1.20" stroke-linejoin="round" stroke-linecap="butt">
<path stroke="#D95319" d="M159.5 79.5L159.7 119.5 159.9 77.6 160.1 118.4 160.4 79.5 160.6 118.6 160.8 78.2 161 119 161.2 79 161.4 119.2 161.6 78.7 161.9 120.3 162.1 80 162.3 119.6 162.5 81.2 162.5 73.8 162.7 79.3 162.9 73.3 163.1 79.1 163.3 73.5 163.5 78.1 163.8 75 164 79 164.2 73 164.4 79.5 164.6 73.8 164.8 78.6 165 74 165.2 79.8 165.4 73.9 165.6 79.2 165.8 75.5 166 79.3 166.3 74.9 166.5 79.7 166.7 73.3 166.9 79.6 167.1 74.9 167.3 79.2 167.5 73.5 167.7 80.4 167.9 73.3 168.1 79.4 168.3 74.4 168.6 80.7 168.8 74.4 169 80.8 169.2 74.5 169.4 78.9 169.6 74.3 169.6 86.5 169.8 119.1 170 84.1 170.2 120 170.4 82.9 170.6 119.4 170.8 85.1 171 119.7 171.2 83.2 171.4 119.6 171.6 85 171.8 118.6 172 81 172.2 120.4 172.4 81.8 172.6 120.4 172.8 80.5 173 119.1 173.2 79.3 173.4 119.8 173.6 81.7 173.8 119.9 174 83.6 174.2 120.3 174.4 79.4 174.6 118.6 174.8 81.5 175 118.7 175.2 82.8 175.4 119.6 175.6 79.9 175.8 119.8 176 81.4 176.2 119.1 176.4 78.3 176.6 118.9 176.8 79.6 177 119.3 177.2 82.7 177.4 119.5 177.6 80.3 177.8 120.1 178 81.1 178.2 119.3 178.4 79.4 178.6 118.2 178.8 80.6 179 120 179.2 78.9 179.5 120.6 179.7 79.5 179.9 120.3 180.1 77.6 180.3 119.5 180.5 79.7 180.7 118.8 180.9 80.9 181.1 118.8 181.3 80.3 181.5 119.7 181.7 81.1 181.9 119.7 182.1 81.4 182.3 118.6 182.5 79.9 182.7 119.3 182.9 79.5 183.1 118.9 183.3 80.5 183.5 119.5 183.7 80 183.9 119.4 184.1 81.2 184.3 118.7 184.5 80.8 184.7 119.9 184.9 80.6 185.1 120.2 185.3 82.8 185.5 119.1 185.7 82.2 185.9 120.6 186.1 80.7 186.3 119.2 186.5 81.3 186.7 118.8 186.9 80.5 187.1 119.2 187.3 82.3 187.5 119.3 187.7 79.5 187.9 119.1 188.1 78.5 188.3 119.3 188.5 80.1 188.7 120.3 188.9 79.4 189.1 119.5 189.3 79.9 189.5 119.9 189.7 79.1 189.9 118.6 190.1 79.9 190.3 119 190.5 81.6 190.7 119.5 190.9 77.9 191.1 119.2 191.3 81.7 191.5 119.6 191.7 79.2 191.9 118.6 192.1 78.9 192.3 120 192.5 81.3 192.7 119.8 192.9 80.3 193.1 118.4 193.3 80.2 193.5 119.3 193.7 79.6 193.9 119.2 194.1 78.8 194.3 118.3 194.5 81.2 194.7 119.5 194.9 79.9 195.1 119.6 195.3 78.7 195.5 118.2 195.7 78.5 195.9 119.7 196.1 78.4 196.3 120.1 196.5 78.7 196.7 118.8 196.9 79.9 197.1 119.8 197.3 80.8 197.5 120 197.7 78.3 197.9 119.4 198.1 78.7 198.3 119 198.5 80.7 198.8 120.3 199 81.4 199.2 120.1 199.4 79.1 199.6 119.6 199.8 77.7 200 119.5 200.2 80.1 200.4 120.3 200.6 80.9 200.8 120.3 201 78.9 201.2 119.6 201.4 79 201.6 119.3 201.8 80 202 119.3 202.2 81.1 202.4 119.4 202.6 77.6 202.8 120.5 203 79.9 203.2 120 203.4 77.7 203.6 119.5 203.8 81 204 119.1 204.2 79 204.4 120.8 204.6 80.2 204.8 118.3 205 79.6 205.2 118.6 205.4 78.7 205.6 120.3 205.8 79.6 206 119 206.2 78.4 206.4 119.9 206.6 78.9 206.8 119.3 207 80 207.2 119.7 207.4 80.7 207.6 118.2 207.8 80.3 208 118.4 208.2 78.2 208.4 119.9 208.4 73.8 208.6 79.5 208.8 72.9 209 79.7 209.2 73.8 209.4 79 209.7 73.8 209.9 78.2 210.1 72.9 210.3 78.3 210.5 73.9 210.7 79.7 210.9 74.1 211.1 78.7 211.3 73.8 211.5 78.3 211.8 73.2 212 78.8 212.2 74 212.4 79 212.6 73.3 212.8 79.2 213 73.7 213.2 80.3 213.4 72.8 213.6 79.7 213.9 73.4 214.1 79.6 214.3 72.3 214.5 78.7 214.7 73.3 214.9 78.9 214.9 82.9 215.1 119.9 215.3 80.6 215.5 119.9 215.7 84.4 215.9 119.4 216.1 81.9 216.3 118.9 216.5 80.7 216.7 119.2 216.9 81.7 217.1 119.3 217.3 83 217.5 119.4 217.7 79.6 217.9 120.4 218.1 78.9 218.3 119.5 218.5 78.2 218.7 119 218.9 80.9 219.1 119.7 219.3 81.3 219.5 117.6 219.8 79.2 220 120.5 220.2 77.2 220.4 119.6 220.6 79.7 220.8 119.5 221 78.3 221.2 119.1 221.4 80.1 221.6 120.2 221.8 78.7 222 119.6 222.2 78.5 222.4 119.1 222.6 79.8 222.8 119.4 223 77.3 223.2 118.2 223.4 77.2 223.6 119.2 223.8 80 224 120 224.2 80.6 224.4 119.3 224.6 81.3 224.8 119.1 225 77.9 225.2 118.8 225.4 78.9 225.6 119.3 225.8 79.6 226 120.1 226.2 79.9 226.4 118.9 226.6 79.6 226.8 119 227 77.5 227.2 119 227.4 78.4 227.6 119.6 227.8 81.6 228 119.5 228.2 80.5 228.4 119.4 228.6 80.7 228.8 119 229.1 78.6 229.3 118.4 229.5 78.8 229.7 120 229.9 77.8 230.1 119.8 230.3 79.4 230.5 118.4 230.7 79.3 230.9 118.9 231.1 79.5 231.3 119.5 231.5 78 231.7 119.2 231.9 80.1 232.1 118.8 232.3 79.4 232.5 120.2 232.7 80.9 232.9 119.6 233.1 77.8 233.3 120.1 233.5 80.2 233.7 119.5 233.9 79.2 234.1 119.7 234.3 78.7 234.5 120.1 234.7 79.1 234.9 118.5 235.1 81.2 235.3 120.4 235.5 78 235.7 119.2 235.9 77.7 236.1 119.6 236.3 78.4 236.5 119.1 236.7 79 236.9 120.7 237.1 78.6 237.3 118.8 237.5 75.9 237.7 120.4 237.9 79.5 238.1 119 238.4 77.4 238.6 119.6 238.8 76.3 239 118.7 239.2 77.1 239.4 119.1 239.6 78.3 239.8 119.6 240 81.7 240.2 119.3 240.4 76.2 240.6 119.6 240.8 78.8 241 119.1 241.2 77.5 241.4 120.3 241.6 80.2 241.8 119.8 242 77.1 242.2 119.9 242.4 78.2 242.6 118.9 242.8 76.6 243 120.1 243 73.6 243.6 76.7"/>
<path stroke="#0072BD" d="M159.5 107.9L159.7 142 159.9 109.7 160.1 141.9 160.4 109.1 160.6 142.5 160.8 109.5 161 142.2 161.2 108.6 161.4 142.1 161.6 108.9 161.9 142 162.1 108.7 162.3 142.4 162.5 109.8 162.5 140.5 162.7 141.8 162.9 140 163.1 141.9 163.3 140.1 163.5 141.9 163.8 140.2 164 142 164.2 140.3 164.4 141.2 164.6 140 164.8 141.7 165 140.3 165.2 141.9 165.4 140.1 165.6 142 165.8 140 166 141.6 166.3 140.3 166.5 141.7 166.7 140.3 166.9 141.5 167.1 139.9 167.3 141.7 167.5 140.3 167.7 141.5 167.9 140.2 168.1 141.9 168.3 139.9 168.6 142.3 168.8 140.3 169 141.9 169.2 140.3 169.4 142 169.6 139.7 169.6 109.8 169.8 142 170 110.3 170.2 142.5 170.4 108.6 170.6 142 170.8 111.4 171 142.2 171.2 110.1 171.4 142.2 171.6 109 171.8 142.3 172 110 172.2 142.4 172.4 109.4 172.6 142 172.8 109.5 173 142.3 173.2 110 173.4 142.2 173.6 109.7 173.8 142.3 174 110.7 174.2 142.5 174.4 109.9 174.6 142 174.8 109.8 175 142.3 175.2 109.7 175.4 142 175.6 110.3 175.8 142.2 176 110.2 176.2 142.1 176.4 111.2 176.6 142 176.8 108.9 177 142.1 177.2 110.2 177.4 142.4 177.6 110.5 177.8 141.9 178 111.4 178.2 141.9 178.4 110.2 178.6 142.2 178.8 109 179 142 179.2 108.4 179.5 142.2 179.7 111.2 179.9 142.2 180.1 108.4 180.3 141.9 180.5 110.1 180.7 142.2 180.9 110.5 181.1 142.1 181.3 109.7 181.5 141.7 181.7 109.8 181.9 141.9 182.1 108.9 182.3 142.3 182.5 109.8 182.7 142.2 182.9 109.8 183.1 141.9 183.3 109.6 183.5 141.9 183.7 109.2 183.9 141.8 184.1 108.6 184.3 141.9 184.5 109.5 184.7 141.9 184.9 109.1 185.1 142.3 185.3 108.8 185.5 142 185.7 109.1 185.9 142.5 186.1 109.4 186.3 141.9 186.5 110.1 186.7 142.2 186.9 109.9 187.1 141.8 187.3 110.1 187.5 141.8 187.7 108.3 187.9 142 188.1 110.7 188.3 142.1 188.5 108.7 188.7 142.2 188.9 108.6 189.1 142.1 189.3 109.1 189.5 142.2 189.7 109.8 189.9 142.2 190.1 109.4 190.3 142 190.5 109.1 190.7 142.3 190.9 109.4 191.1 142.2 191.3 110.7 191.5 142.2 191.7 110 191.9 141.8 192.1 109.6 192.3 142.3 192.5 110.1 192.7 142.2 192.9 109.2 193.1 142.1 193.3 109.4 193.5 141.7 193.7 108.1 193.9 142.2 194.1 109.7 194.3 142.3 194.5 109.5 194.7 142 194.9 108.2 195.1 142.3 195.3 108.7 195.5 142.4 195.7 110.1 195.9 142.2 196.1 108.8 196.3 142.1 196.5 110 196.7 142.3 196.9 109 197.1 142 197.3 107.6 197.5 142.1 197.7 109.5 197.9 142 198.1 108.6 198.3 141.7 198.5 108.8 198.8 142.1 199 108.2 199.2 142.8 199.4 109.7 199.6 142.1 199.8 109.2 200 142.2 200.2 108.8 200.4 141.9 200.6 109.5 200.8 141.8 201 109.7 201.2 142 201.4 109 201.6 141.8 201.8 108.6 202 142.2 202.2 108.8 202.4 142.2 202.6 109.8 202.8 142 203 109 203.2 142 203.4 109.1 203.6 142.1 203.8 108.2 204 142.2 204.2 109.7 204.4 142.2 204.6 109.4 204.8 141.9 205 107.9 205.2 142.1 205.4 109.4 205.6 142 205.8 109.8 206 142 206.2 109.5 206.4 142 206.6 109.5 206.8 142 207 109.5 207.2 142.3 207.4 108 207.6 142.2 207.8 109.6 208 141.9 208.2 110.2 208.4 142.1 208.4 140.1 208.6 141.6 208.8 140.2 209 141.9 209.2 140.1 209.4 142.2 209.7 140 209.9 142.3 210.1 140.2 210.3 141.3 210.5 140.3 210.7 141.6 210.9 139.8 211.1 141.4 211.3 140.1 211.5 141.5 211.8 140.4 212 141.6 212.2 139.8 212.4 142.1 212.6 140.2 212.8 141.6 213 139.9 213.2 142.1 213.4 140.2 213.6 141.3 213.9 139.7 214.1 141.9 214.3 139.7 214.5 141.4 214.7 140.2 214.9 142 214.9 109.2 215.1 142.1 215.3 108 215.5 142.2 215.7 109.8 215.9 141.5 216.1 109.9 216.3 142.3 216.5 110.9 216.7 142.2 216.9 109.3 217.1 142.1 217.3 109.6 217.5 142.1 217.7 109.9 217.9 142.1 218.1 110.7 218.3 142.2 218.5 108.1 218.7 142 218.9 109 219.1 142.1 219.3 108.2 219.5 141.8 219.8 108.7 220 141.9 220.2 110.1 220.4 142.4 220.6 109.3 220.8 142.1 221 109 221.2 142.1 221.4 109.6 221.6 142.2 221.8 109.6 222 142 222.2 109.8 222.4 142 222.6 109.8 222.8 142.3 223 109.3 223.2 141.8 223.4 110.6 223.6 142.1 223.8 111 224 142 224.2 109.7 224.4 142.4 224.6 110.8 224.8 142 225 109.3 225.2 142.3 225.4 109.9 225.6 142.4 225.8 109.5 226 142.1 226.2 108 226.4 141.9 226.6 109.6 226.8 142.2 227 109.2 227.2 142.3 227.4 109.1 227.6 141.9 227.8 108.6 228 141.9 228.2 110.1 228.4 142.1 228.6 108.6 228.8 142.1 229.1 109.3 229.3 142.3 229.5 109.2 229.7 142.4 229.9 108.8 230.1 142.4 230.3 108.7 230.5 142.2 230.7 109 230.9 142 231.1 108.1 231.3 142.2 231.5 108 231.7 142.1 231.9 108.7 232.1 142 232.3 108.7 232.5 142.5 232.7 108.5 232.9 141.9 233.1 109 233.3 142 233.5 108.3 233.7 142.3 233.9 109.9 234.1 142.2 234.3 108.8 234.5 142.4 234.7 109.7 234.9 142 235.1 109.8 235.3 142.1 235.5 108.5 235.7 142.2 235.9 108.4 236.1 142.4 236.3 108.4 236.5 142 236.7 109.6 236.9 142 237.1 109.1 237.3 142 237.5 109.7 237.7 142.4 237.9 109.5 238.1 142.2 238.4 108.9 238.6 142.2 238.8 109.2 239 142 239.2 108.8 239.4 142 239.6 109.4 239.8 142 240 111 240.2 141.9 240.4 108.1 240.6 142.1 240.8 109 241 141.7 241.2 109.7 241.4 142.2 241.6 107.9 241.8 142.1 242 107.5 242.2 142.3 242.4 109.9 242.6 142.1 242.8 109.7 243 142.1 243 140.3 243.6 141.7"/>
</g>
<g clip-path="url(#c02)" fill="none" stroke-width="1.20" stroke-linejoin="round" stroke-linecap="butt">
<path stroke="#D95319" d="M259.8 80.4L260 120.2 260.2 80.7 260.4 119.2 260.7 80 260.9 118.8 261.1 79.4 261.3 119.1 261.5 79.8 261.7 120.2 261.9 77.5 262.2 120.7 262.4 78.5 262.6 118.5 262.8 78.6 263 118.8 263.2 78.4 263.4 120.2 263.6 77.9 263.9 119.6 264.1 78.4 264.3 118.3 264.5 77.1 264.7 119.6 264.9 78 265.1 119.6 265.4 78 265.6 119.4 265.8 77.1 266 119.2 266 71.3 266.3 119.7 266.5 71 266.8 119.5 266.8 70 267 74.5 267.2 69.7 267.4 75.7 267.7 70.2 267.9 75.1 268.1 69.6 268.3 75.1 268.5 71.2 268.7 74.7 268.9 70.3 269.1 76.1 269.4 70.2 269.6 75.1 269.8 70 270 74.9 270.2 70.1 270.4 74.5 270.6 69.3 270.8 75.2 271.1 69.5 271.3 76 271.5 70.4 271.7 74.9 271.7 82 272 119.7 272.4 80.4 272.4 116.4 272.6 123.4 272.8 112.3 273 122.6 273.2 109.2 273.4 122.5 273.6 105.7 273.9 123.3 274.1 104.2 274.3 122.9 274.5 98.5 274.7 123.5 274.9 96 275.1 122.5 275.3 90.9 275.5 122.6 275.7 90.9 275.9 124.2 276.2 88.6 276.4 123.5 276.6 86.6 276.8 123.7 277 84 277.2 123.8 277.4 82.7 277.4 79.3 277.6 119.7 277.8 79.3 278 119.9 278.2 79.8 278.5 120.8 278.7 78.8 278.9 119.1 279.1 79.9 279.3 120 279.5 79.4 279.7 118.6 279.9 78.6 280.1 118.6 280.3 79.1 280.6 120 280.8 79.5 281 119.9 281.2 78.4 281.4 120 281.6 79 281.8 120.1 282 77.6 282.2 118.8 282.4 77.6 282.7 119.5 282.9 78.1 283.1 119.9 283.3 76.1 283.5 119.6 283.5 70.7 283.8 118.2 284 71.6 284.3 119.3 284.3 70.8 284.5 75.3 284.7 69.4 285 74.5 285.2 70.3 285.4 74.9 285.6 70.1 285.8 74.6 286.1 70.4 286.3 75.2 286.5 69.3 286.7 75.6 286.9 71.2 287.2 75.5 287.4 69.9 287.6 74.8 287.8 69.1 288 74.5 288.3 68.9 288.5 74.9 288.7 69 288.7 80.7 289 118.7 289.4 80.4 289.4 110.6 289.6 118.7 289.8 108.1 290 118.9 290.2 105.6 290.4 120.7 290.7 100.5 290.9 120.4 291.1 98 291.3 121.2 291.5 94.3 291.7 121.4 291.9 91.1 292.1 121.5 292.3 88.6 292.5 122 292.7 87.8 293 123.3 293.2 85.3 293.4 122.2 293.6 83.3 293.8 123.8 294 82.9 294 79.6 294.2 119.1 294.4 78.7 294.7 119.9 294.9 79.9 295.1 119.5 295.3 79 295.5 119.3 295.8 77.8 296 120 296.2 79.2 296.4 119.2 296.6 78 296.8 118.7 297.1 76.7 297.3 118.8 297.5 76.1 297.5 71.5 297.8 119.7 298 71.9 298.3 120.3 298.3 70.2 298.5 75.5 298.8 69.3 299 75 299.2 70.8 299.4 75.5 299.7 69.4 299.9 75 300.1 70.4 300.3 75 300.6 69.6 300.8 76.6 301 69.5 301.2 75.5 301.5 70.1 301.7 75 301.7 80.4 302 119.1 302.4 80.8 302.4 107.7 302.6 115.3 302.8 105.1 303.1 116.7 303.3 100.6 303.5 118.1 303.7 97.3 303.9 117.9 304.2 94.5 304.4 119.4 304.6 92.7 304.8 120.9 305 89.2 305.3 120.7 305.5 87.1 305.7 121.6 305.9 85.8 306.1 122.1 306.4 85.1 306.6 122.5 306.8 81.5 306.8 79.3 307 119.1 307.2 79.8 307.5 119.6 307.7 79.4 307.9 119.5 308.2 79.1 308.4 119.4 308.6 76.2 308.8 120.2 309 77.8 309.3 119.2 309.5 75.4 309.5 71.3 309.8 118.3 310 71 310.3 120.1 310.3 69.4 310.5 75.7 310.7 69.2 311 74.9 311.2 69.2 311.4 74.8 311.6 70 311.8 75.6 312.1 69.9 312.3 75.1 312.5 69.6 312.7 75.5 313 70.3 313.2 75.4 313.4 69.6 313.6 75.2 313.8 70.5 314.1 75.2 314.3 70.1 314.5 75.8 314.5 81.4 314.8 119.1 315.2 79.2 315.2 112.9 315.4 121.4 315.6 109.6 315.8 122.2 316 107.2 316.2 122.2 316.5 104.4 316.7 122.1 316.9 101.5 317.1 121.9 317.3 97.2 317.5 121.4 317.7 92.9 317.9 123 318.1 90.3 318.3 121.8 318.5 88.9 318.7 122.8 319 87 319.2 122.7 319.4 86 319.6 123.6 319.8 83.5 320 122.8 320 78.7 320.2 117.9 320.4 80.6 320.6 118.5 320.8 79.1 321 119.7 321.3 79.2 321.5 119.7 321.7 77.8 321.9 119.7 322.1 78 322.3 119.7 322.5 79.6 322.7 119.5 322.9 78.9 323.1 118.6 323.3 79.7 323.5 119.4 323.8 77.8 324 119.4 324.2 77.2 324.4 119.9 324.6 76.8 324.8 118.6 324.8 72.2 325.1 119.8 325.3 72.3 325.6 119 325.6 69.5 325.8 75.2 326 70.7 326.3 75 326.5 69.5 326.7 76.6 326.9 69.5 327.1 75.3 327.4 70.8 327.6 75.5 327.8 69.6 328 74.4 328.2 69.1 328.5 74.5 328.7 70 328.9 75.5 329.1 69.2 329.3 74.7 329.6 70.5 329.8 75.3 330 70.5 330 81.5 330.4 120.4 330.7 80.8 330.7 115.1 330.9 123.1 331.1 110.5 331.3 121.7 331.5 107.7 331.7 122.9 332 104.5 332.2 122.8 332.4 99.7 332.6 123.4 332.8 97 333 122.5 333.2 92.6 333.4 123.1 333.6 88.9 333.8 123 334 88.1 334.3 123.5 334.5 86.6 334.7 123.5 334.9 83.4 335.1 122.5 335.3 82.5 335.3 78.6 335.5 118.7 335.7 79.8 335.9 119.9 336.1 79.3 336.3 118.9 336.6 80.5 336.8 118.8 337 78.7 337.2 119.2 337.4 78.8 337.6 119.7 337.8 79.2 338 119.1 338.2 79.3 338.4 119.7 338.6 78.8 338.9 120.1 339.1 80.2 339.3 121 339.5 78.6 339.7 119.1 339.9 78.3 340.1 119.4 340.3 77.8 340.5 118.6 340.7 79.1 340.9 119.5 341.2 78.4 341.4 119.3 341.6 75.2 341.8 119.4 342 75.3 342.2 119.6 342.2 71.9 342.5 118.4 342.7 71.6 343 119.1 343 69 343.2 74.3 343.5 69.8 343.8 75.1 344 70"/>
<path stroke="#0072BD" d="M259.8 108.3L260 142.2 260.2 108.1 260.4 142.2 260.7 109.2 260.9 142.3 261.1 107.8 261.3 142.1 261.5 108 261.7 142.1 261.9 107.1 262.2 142 262.4 108.4 262.6 142.2 262.8 107.7 263 142.1 263.2 107.9 263.4 142.3 263.6 108.4 263.9 142.1 264.1 109.3 264.3 142.2 264.5 107.9 264.7 141.8 264.9 108.4 265.1 141.9 265.4 107.6 265.6 142 265.8 108.3 266 141.7 266 109.2 266.3 142.1 266.5 109 266.8 142 266.8 139.6 267 142.2 267.2 140 267.4 141.6 267.7 140.2 267.9 141.7 268.1 140.3 268.3 141.9 268.5 140 268.7 141.8 268.9 139.7 269.1 141.9 269.4 140 269.6 142 269.8 139.8 270 142 270.2 139.9 270.4 141.5 270.6 139.9 270.8 141.7 271.1 139.6 271.3 141.8 271.5 139.8 271.7 141.7 271.7 108.7 272 141.8 272.4 108.6 272.4 123.6 272.6 129.7 272.8 120.7 273 131.2 273.2 118.5 273.4 132.8 273.6 116.8 273.9 133.6 274.1 114.5 274.3 135.3 274.5 112.9 274.7 137.3 274.9 111.6 275.1 138.5 275.3 110.9 275.5 139.6 275.7 109.2 275.9 140.6 276.2 108.3 276.4 141.9 276.6 108.5 276.8 141.9 277 108.5 277.2 141.8 277.4 108 277.4 108.3 277.6 141.8 277.8 107.8 278 142.1 278.2 108.3 278.5 142.1 278.7 109.4 278.9 142.3 279.1 108.7 279.3 142.5 279.5 109.2 279.7 142 279.9 108.8 280.1 142.3 280.3 107.3 280.6 142.2 280.8 108.5 281 142.1 281.2 108.7 281.4 142.2 281.6 109.1 281.8 142.3 282 108.4 282.2 142.2 282.4 107.7 282.7 142.1 282.9 108.7 283.1 142.3 283.3 108.1 283.5 142.3 283.5 108.2 283.8 142.3 284 107.4 284.3 142.4 284.3 140.2 284.5 142.1 284.7 139.8 285 141.7 285.2 140.3 285.4 141.4 285.6 139.9 285.8 141.6 286.1 140.5 286.3 141.8 286.5 140.3 286.7 142 286.9 140.3 287.2 141.5 287.4 140.4 287.6 142.1 287.8 139.8 288 142.2 288.3 140.6 288.5 142 288.7 140.6 288.7 108.5 289 142.3 289.4 109.7 289.4 123.3 289.6 130 289.8 120.8 290 131.5 290.2 118.8 290.4 132.8 290.7 115.2 290.9 134.6 291.1 113.3 291.3 135.8 291.5 112.6 291.7 137.8 291.9 111.5 292.1 139 292.3 109.6 292.5 140.1 292.7 109.6 293 141.4 293.2 108.2 293.4 142 293.6 108.7 293.8 142.3 294 109 294 107.6 294.2 141.8 294.4 108.6 294.7 142.2 294.9 107.7 295.1 142.2 295.3 108 295.5 142.4 295.8 108.4 296 142.1 296.2 109.4 296.4 142.1 296.6 109.2 296.8 142.3 297.1 108.4 297.3 142 297.5 107.9 297.5 109.2 297.8 142 298 107.8 298.3 142.2 298.3 140.2 298.5 142.3 298.8 139.4 299 142.1 299.2 140.2 299.4 141.3 299.7 140.2 299.9 141.5 300.1 140.2 300.3 141.5 300.6 139.9 300.8 141.6 301 140.2 301.2 141.9 301.5 140.2 301.7 141.2 301.7 110.3 302 141.9 302.4 108.6 302.4 122.9 302.6 129.8 302.8 120.5 303.1 131.8 303.3 118.8 303.5 133.6 303.7 115.9 303.9 134.9 304.2 113.1 304.4 136.5 304.6 111.4 304.8 138.3 305 109.6 305.3 139.9 305.5 108.6 305.7 141.4 305.9 108.6 306.1 142.2 306.4 108.3 306.6 141.8 306.8 108.8 306.8 108.3 307 142.6 307.2 108.1 307.5 142.3 307.7 108.4 307.9 142.4 308.2 108.3 308.4 142.2 308.6 107.6 308.8 142 309 108 309.3 142 309.5 107.8 309.5 108.5 309.8 141.9 310 108.5 310.3 142.2 310.3 140 310.5 141.6 310.7 140.6 311 142 311.2 139.9 311.4 141.6 311.6 140.1 311.8 141.9 312.1 139.8 312.3 141.6 312.5 139.9 312.7 142.1 313 140 313.2 141.5 313.4 140.6 313.6 141.4 313.8 140.3 314.1 142 314.3 140.2 314.5 141.8 314.5 109.1 314.8 142.1 315.2 109.3 315.2 122.9 315.4 129.8 315.6 121.5 315.8 131.3 316 117.4 316.2 132.9 316.5 116.7 316.7 134 316.9 113.6 317.1 135.7 317.3 113.1 317.5 137.4 317.7 111.5 317.9 138.6 318.1 109.9 318.3 140.1 318.5 109.6 318.7 141.2 319 108.8 319.2 142.1 319.4 108.4 319.6 142.2 319.8 108.9 320 142.4 320 108.4 320.2 142.4 320.4 108.6 320.6 142.1 320.8 108 321 142.1 321.3 107.3 321.5 141.8 321.7 108.9 321.9 142 322.1 109 322.3 142.1 322.5 108.1 322.7 142.6 322.9 108.9 323.1 142.1 323.3 108 323.5 142 323.8 108.5 324 141.9 324.2 108.2 324.4 142.1 324.6 107.9 324.8 142.2 324.8 108.4 325.1 142.3 325.3 108.1 325.6 142.2 325.6 139.9 325.8 142.1 326 139.9 326.3 141.5 326.5 140 326.7 142.4 326.9 140.4 327.1 141.5 327.4 140.2 327.6 141.8 327.8 140.7 328 141.5 328.2 140.3 328.5 141.7 328.7 140.3 328.9 141.7 329.1 139.8 329.3 141.5 329.6 139.7 329.8 141.4 330 140.5 330 109.5 330.4 141.8 330.7 109.5 330.7 123.8 330.9 130 331.1 121.4 331.3 131.4 331.5 117.6 331.7 132.8 332 115.7 332.2 134.4 332.4 113.4 332.6 136.1 332.8 112.4 333 137.6 333.2 110.9 333.4 139.1 333.6 110.1 333.8 140.6 334 109.1 334.3 141.7 334.5 108.7 334.7 142.5 334.9 108.5 335.1 142 335.3 109.7 335.3 108.2 335.5 142.1 335.7 108.5 335.9 142.3 336.1 108.4 336.3 142.1 336.6 108.8 336.8 142.3 337 108.7 337.2 142.2 337.4 108.5 337.6 142.3 337.8 108.4 338 142.2 338.2 108.3 338.4 142.2 338.6 108.2 338.9 142.2 339.1 109 339.3 142.1 339.5 107.9 339.7 142.1 339.9 108.2 340.1 141.9 340.3 108.4 340.5 142.1 340.7 108.4 340.9 142 341.2 108.9 341.4 141.9 341.6 108.1 341.8 142.4 342 109.5 342.2 142.3 342.2 108.9 342.5 142.1 342.7 108.4 343 142 343 140.3 343.2 142 343.5 139.9 343.8 141.9 344 139.9"/>
</g>
<g clip-path="url(#c03)" fill="none" stroke-width="1.20" stroke-linejoin="round" stroke-linecap="butt">
<path stroke="#D95319" d="M360.7 58.9L361 66.6 361.3 58.2 361.3 102.5 361.5 110 361.6 103.1 361.8 109.9 362 102 362.1 108.5 362.3 102.5 362.5 110.1 362.7 102.7 362.8 109.3 363 101.8 363.2 109.5 363.3 102.1 363.5 109.8 363.7 100.6 363.8 109.4 364 101.6 364.2 110.3 364.3 100.6 364.5 110.5 364.7 99.6 364.8 109.3 365 100.3 365.2 109.3 365.4 100.5 365.5 110.1 365.7 99 365.9 109.2 366 99.1 366.2 109.6 366.4 98.3 366.5 109 366.7 99 366.9 109.8 367 98.3 367.2 109.7 367.4 98.5 367.6 109 367.7 97.7 367.9 108.5 368.1 97.8 368.2 109.4 368.4 97.9 368.6 108.1 368.7 98.1 368.9 108.9 369.1 97.3 369.2 109 369.4 96.5 369.6 108.3 369.7 95.3 369.9 109.4 370.1 94.8 370.3 109 370.4 94.8 370.6 108.7 370.8 93.5 370.9 108.4 371.1 92.3 371.3 108.1 371.4 91.9 371.6 109.7 371.8 88.9 371.9 108 372.1 86.5 372.3 108.8 372.5 83.7 372.6 108.9 372.8 81.1 373 109 373.1 80.1 373.3 108.3 373.5 74.7 373.6 108.3 373.8 75.8 374 108.9 374.1 74.4 374.3 108.5 374.5 71.9 374.6 108 374.8 71.1 375 108.3 375.2 71 375.3 108.4 375.5 72 375.7 107.1 375.8 71.9 376 108.6 376 58 376.2 68.3 376.4 59.5 376.6 68.9 376.8 58.4 377 67.8 377.2 60.1 377.4 68.6 377.7 58.2 377.9 68.7 378.1 59.6 378.3 67.4 378.5 58 378.7 68.3 378.9 58.3 379.1 66.3 379.3 58.3 379.5 68.4 379.7 58.6 379.9 68.1 380.1 58.3 380.3 67.2 380.6 57.8 380.8 66.3 381 58.8 381.2 67.2 381.4 58.9 381.6 66.2 381.8 57.6 382 67.7 382.2 59.4 382.4 66.4 382.6 57.4 382.8 66.2 383 59.4 383.2 66.5 383.5 58.1 383.7 65.2 383.9 57.2 384.1 66.2 384.3 57.2 384.5 66.1 384.7 58.7 384.9 65.3 384.9 103.3 385.1 110.1 385.2 102.4 385.4 110.1 385.6 103.2 385.8 110.4 385.9 100.5 386.1 109.4 386.3 102.2 386.4 109.6 386.6 102.3 386.8 110.6 386.9 101.8 387.1 109.1 387.3 100.6 387.5 110.9 387.6 101.4 387.8 110.1 388 100.5 388.1 109.7 388.3 100.3 388.5 110 388.6 100.6 388.8 109.9 389 100.5 389.2 109.6 389.3 99.6 389.5 108.7 389.7 99.7 389.8 109.5 390 99.1 390.2 110.2 390.3 98.8 390.5 110.5 390.7 97.3 390.9 110.1 391 98 391.2 107.9 391.4 97.6 391.5 109.9 391.7 97.5 391.9 109 392 96.5 392.2 109.1 392.4 97 392.6 108.9 392.7 94.5 392.9 109.1 393.1 94.9 393.2 108.2 393.4 94.6 393.6 109.1 393.8 94.4 393.9 109.1 394.1 94.5 394.3 108.9 394.4 93.3 394.6 109.6 394.8 90.4 394.9 109 395.1 89.2 395.3 107.8 395.5 86.4 395.6 108.6 395.8 83.1 396 108 396.1 81 396.3 108.4 396.5 77.8 396.6 108.5 396.8 74.3 397 109.2 397.2 73.8 397.3 108.3 397.5 72.3 397.7 108.3 397.8 71.6 398 107.5 398.2 72 398.3 108.7 398.5 71.8 398.7 107.9 398.9 71.3 399 108.1 399.2 70.1 399.2 58.8 399.4 68.8 399.6 58.7 399.8 68.2 400 59 400.2 68.8 400.4 59.1 400.6 67.2 400.8 58.4 401 68 401.3 58.7 401.5 67.8 401.7 58.1 401.9 67.7 402.1 58.6 402.3 67.5 402.5 58.3 402.7 67.5 402.9 57.3 403.1 67.4 403.3 57.8 403.5 67.2 403.7 58.6 403.9 66.7 404.1 58.7 404.3 66.1 404.5 58.4 404.7 66.3 404.9 57.4 405.2 66.4 405.4 58.6 405.6 65.9 405.8 57.9 406 65.4 406.2 57 406.4 65.5 406.6 58.1 406.8 64.7 407 57.8 407 104.2 407.2 111.3 407.3 104.6 407.5 109.8 407.7 103 407.8 110.1 408 102.1 408.2 110.3 408.4 101.2 408.5 109.9 408.7 101.3 408.9 109.9 409 101.7 409.2 109.7 409.4 99.6 409.5 109.8 409.7 100.5 409.9 110.3 410 101.1 410.2 110.1 410.4 100.8 410.6 109.6 410.7 98.7 410.9 109.7 411.1 99.8 411.2 108.8 411.4 100.3 411.6 109.9 411.7 99.8 411.9 109.7 412.1 99.9 412.2 109.6 412.4 99.9 412.6 110.2 412.8 99.8 412.9 109.3 413.1 99.5 413.3 109.8 413.4 98.6 413.6 109.5 413.8 97.1 413.9 109.7 414.1 99.2 414.3 109.2 414.4 99.7 414.6 109 414.8 97.5 415 110.4 415.1 96.6 415.3 109 415.5 94.7 415.6 108.8 415.8 94.2 416 109.5 416.1 95.7 416.3 109.1 416.5 93.7 416.6 107.8 416.8 94.1 417 109 417.2 94.6 417.3 108.4 417.5 93.1 417.7 109.2 417.8 90.5 418 108 418.2 86.8 418.3 109.5 418.5 85.2 418.7 108.4 418.8 81.6 419 108.6 419.2 80.3 419.4 108.3 419.5 76.4 419.7 108.3 419.9 75.4 420 107.9 420.2 73.3 420.4 108.8 420.5 72.7 420.7 108.9 420.9 71.8 421 107.9 421.2 73.1 421.4 107.9 421.6 72.3 421.7 109.2 421.9 72.2 422.1 107 422.2 72.1 422.4 108 422.4 58.5 422.6 69.6 422.8 59 423 68.7 423.2 58.5 423.4 69.2 423.6 59.2 423.9 68.3 424.1 58.8 424.3 68.7 424.5 58.1 424.7 67.2 424.9 59.2 425.1 68.6 425.3 58.5 425.5 67.3 425.7 58.5 425.9 68.2 426.2 58.6 426.4 67.7 426.6 58.1 426.8 67.7 427 57.5 427.2 67.3 427.4 58.3 427.6 67.1 427.8 58.5 428 66.3 428.2 58.2 428.4 65.6 428.6 57.3 428.9 65.8 429.1 58.5 429.3 66.9 429.5 58.5 429.7 65.8 429.9 58.2 429.9 103.5 430.1 110.5 430.2 103.1 430.4 110.3 430.6 103.6 430.7 110 430.9 102.7 431.1 110.3 431.3 101.4 431.4 110.2 431.6 100.8 431.8 110 431.9 101.2 432.1 110.1 432.3 101.1 432.4 110 432.6 101.1 432.8 110 432.9 101.2 433.1 109.6 433.3 100.7 433.4 110.7 433.6 99.9 433.8 111.2 434 100.9 434.1 109 434.3 99.8 434.5 109.5 434.6 99.3 434.8 109.5 435 98.9 435.1 110.3 435.3 99.9 435.5 109.7 435.6 97.4 435.8 108.4 436 97.9 436.2 109.1 436.3 98.7 436.5 109.7 436.7 98.1 436.8 109.6 437 96.9 437.2 109.3 437.3 96.4 437.5 109.2 437.7 97.2 437.8 108.7 438 96.9 438.2 108.4 438.3 94.7 438.5 108.9 438.7 94.7 438.9 109.3 439 94.6 439.2 108.4 439.4 94.4 439.5 108.3 439.7 93.6 439.9 108.7 440 92.3 440.2 108.1 440.4 88.6 440.5 109.1 440.7 86.6 440.9 108.2 441.1 83.7 441.2 108.3 441.4 79.2 441.6 108.5 441.7 78 441.9 109.2 442.1 76.3 442.2 108.7 442.4 74.6 442.6 109.1 442.7 72.3 442.9 108.7 443.1 71 443.2 108.7 443.4 71.5 443.6 107.5 443.8 71.6 443.9 109.2 444.1 70.5 444.3 107.5 444.4 71.7 444.6 107.5"/>
<path stroke="#0072BD" d="M360.7 139.5L361 141.3 361.3 139.5 361.3 123.4 361.5 129.7 361.6 123.5 361.8 129.3 362 122.7 362.1 129.8 362.3 123.7 362.5 129.6 362.7 123.2 362.8 129.7 363 124 363.2 129.5 363.3 124.3 363.5 130.1 363.7 123.5 363.8 129.7 364 123.6 364.2 129.9 364.3 124 364.5 129.9 364.7 124.4 364.8 129.9 365 123.6 365.2 130.1 365.4 124.2 365.5 130 365.7 122.9 365.9 130.2 366 123.6 366.2 130.1 366.4 124.2 366.5 129.9 366.7 124.5 366.9 130.3 367 124 367.2 130 367.4 124.3 367.6 130 367.7 124.6 367.9 130.4 368.1 123.8 368.2 130 368.4 124.5 368.6 130.4 368.7 123.9 368.9 130.2 369.1 124.5 369.2 130.5 369.4 124 369.6 130.7 369.7 123.6 369.9 130.8 370.1 122.8 370.3 131.3 370.4 122.5 370.6 131.8 370.8 122.9 370.9 132.1 371.1 120.7 371.3 133 371.4 118.7 371.6 133.9 371.8 118.4 371.9 134.9 372.1 115.8 372.3 135.9 372.5 114.3 372.6 137.4 372.8 112.1 373 138.9 373.1 109.3 373.3 140.4 373.5 111 373.6 142.3 373.8 109.5 374 142.8 374.1 108.3 374.3 142.6 374.5 108.8 374.6 142.6 374.8 108.3 375 142.2 375.2 107.6 375.3 142.6 375.5 108 375.7 142.8 375.8 108.4 376 142.3 376 139.3 376.2 141.3 376.4 139.5 376.6 141.4 376.8 139.1 377 141.8 377.2 139.4 377.4 141.4 377.7 139.2 377.9 141.5 378.1 139.4 378.3 141.2 378.5 139.6 378.7 141.4 378.9 139.3 379.1 141.6 379.3 139.9 379.5 141.4 379.7 139.5 379.9 141 380.1 139.5 380.3 141.6 380.6 139.3 380.8 141.1 381 140 381.2 141.1 381.4 139.6 381.6 141.4 381.8 139.4 382 141.1 382.2 139.4 382.4 141.2 382.6 139.8 382.8 141.4 383 139.5 383.2 141.4 383.5 140 383.7 141.4 383.9 139.6 384.1 141.9 384.3 139.6 384.5 141.5 384.7 139.5 384.9 141.6 384.9 122.8 385.1 129.3 385.2 123.4 385.4 129.8 385.6 123.7 385.8 129.6 385.9 123.7 386.1 129.6 386.3 123 386.4 129.9 386.6 123.2 386.8 129.7 386.9 123.4 387.1 129.8 387.3 122.9 387.5 130 387.6 123.4 387.8 129.7 388 123.3 388.1 130 388.3 123.4 388.5 130 388.6 123.5 388.8 130 389 123.6 389.2 130 389.3 123.9 389.5 129.8 389.7 124.4 389.8 130.4 390 124.1 390.2 130.1 390.3 124.1 390.5 130.1 390.7 124.1 390.9 129.9 391 123.6 391.2 130.2 391.4 123.4 391.5 130.4 391.7 123.9 391.9 130.3 392 123.1 392.2 130.4 392.4 124.8 392.6 130.5 392.7 124.4 392.9 130.5 393.1 123.6 393.2 130.8 393.4 124.4 393.6 131.6 393.8 122.8 393.9 131.7 394.1 122 394.3 131.9 394.4 121.3 394.6 133 394.8 120.3 394.9 133.7 395.1 117.4 395.3 134.9 395.5 115 395.6 135.7 395.8 114.8 396 137.5 396.1 111.5 396.3 139.4 396.5 111.2 396.6 141.1 396.8 109.3 397 142.4 397.2 109 397.3 142.5 397.5 108.9 397.7 142.3 397.8 108.2 398 142.3 398.2 108.4 398.3 142.4 398.5 107.2 398.7 142.4 398.9 108 399 142.4 399.2 107.7 399.2 139 399.4 141.1 399.6 139.4 399.8 141.8 400 140.1 400.2 141 400.4 139.7 400.6 141.4 400.8 140 401 141.4 401.3 139.8 401.5 141.8 401.7 139.5 401.9 141.5 402.1 139.7 402.3 142 402.5 139.8 402.7 141 402.9 140.1 403.1 140.9 403.3 139.4 403.5 141.5 403.7 139.5 403.9 141 404.1 139.1 404.3 141.2 404.5 140 404.7 141.6 404.9 139.4 405.2 141.6 405.4 139.4 405.6 141.8 405.8 139.6 406 141.7 406.2 139.8 406.4 141.8 406.6 139.7 406.8 141.2 407 139.6 407 123.2 407.2 129.4 407.3 123.2 407.5 129.6 407.7 123.7 407.8 129.2 408 121.7 408.2 129.5 408.4 123.2 408.5 129.4 408.7 123.8 408.9 129.6 409 122.8 409.2 129.9 409.4 123.1 409.5 129.8 409.7 122.4 409.9 129.8 410 123.3 410.2 129.9 410.4 123.5 410.6 130.2 410.7 124.3 410.9 129.9 411.1 123.7 411.2 129.9 411.4 124.3 411.6 130 411.7 123.3 411.9 130.3 412.1 124.2 412.2 129.8 412.4 122.7 412.6 130.2 412.8 124 412.9 130.3 413.1 122.9 413.3 130.6 413.4 124.7 413.6 130.1 413.8 124.2 413.9 130.4 414.1 124.7 414.3 130.2 414.4 124.7 414.6 130.4 414.8 124.1 415 130.6 415.1 125 415.3 130.3 415.5 123.9 415.6 130.9 415.8 123.9 416 131.2 416.1 123.7 416.3 131.6 416.5 123.2 416.6 131.9 416.8 122.8 417 132.2 417.2 120.4 417.3 132.5 417.5 120.3 417.7 133.3 417.8 118.7 418 134.4 418.2 117.3 418.3 135.1 418.5 114.7 418.7 136.2 418.8 113.2 419 137.8 419.2 111.4 419.4 139.5 419.5 111.2 419.7 141.4 419.9 109.6 420 142.6 420.2 108.3 420.4 142.3 420.5 108.7 420.7 141.9 420.9 107.7 421 142.3 421.2 108 421.4 143 421.6 108 421.7 142.2 421.9 109 422.1 142.4 422.2 107.6 422.4 142.6 422.4 139.5 422.6 141.1 422.8 139.4 423 141.3 423.2 139.6 423.4 141.2 423.6 140.1 423.9 141.7 424.1 140 424.3 141.4 424.5 138.9 424.7 141.6 424.9 140 425.1 141.6 425.3 139.6 425.5 141.2 425.7 139.3 425.9 141.4 426.2 140.4 426.4 140.8 426.6 139.8 426.8 141 427 139.2 427.2 141.3 427.4 140 427.6 141.4 427.8 139.6 428 141.8 428.2 139.2 428.4 141.8 428.6 139.8 428.9 141 429.1 139.8 429.3 141.8 429.5 139.6 429.7 141.3 429.9 139.7 429.9 123.9 430.1 129.3 430.2 122.9 430.4 129.6 430.6 124.3 430.7 129.6 430.9 123.6 431.1 129.5 431.3 123.5 431.4 129.5 431.6 123.7 431.8 129.7 431.9 123.3 432.1 129.8 432.3 123.3 432.4 129.9 432.6 123.1 432.8 129.7 432.9 123.8 433.1 130.1 433.3 124 433.4 129.8 433.6 123.1 433.8 130 434 124 434.1 130.1 434.3 123.5 434.5 129.9 434.6 124.1 434.8 130.2 435 123.6 435.1 130.1 435.3 122.5 435.5 130 435.6 123.6 435.8 130.2 436 122.6 436.2 130.5 436.3 124.4 436.5 130.1 436.7 124 436.8 130.2 437 124 437.2 130.1 437.3 124.2 437.5 130.3 437.7 123.8 437.8 130.6 438 123.8 438.2 130.6 438.3 123.6 438.5 130.9 438.7 122.5 438.9 131.5 439 123.3 439.2 131.5 439.4 122.7 439.5 132.2 439.7 122.2 439.9 132.9 440 119.5 440.2 134.1 440.4 118.1 440.5 134.6 440.7 116 440.9 135.7 441.1 114.6 441.2 137.4 441.4 112.7 441.6 138.9 441.7 110.6 441.9 140.5 442.1 110.1 442.2 142.6 442.4 108.9 442.6 142.3 442.7 108.2 442.9 142.2 443.1 108.3 443.2 142.5 443.4 107.8 443.6 143 443.8 108.7 443.9 142.4 444.1 108 444.3 142.7 444.4 107.3 444.6 142.4"/>
</g>
<g clip-path="url(#c04)" fill="none" stroke-width="1.20" stroke-linejoin="round" stroke-linecap="butt">
<path stroke="#D95319" d="M461.6 39.2L461.8 47.7 462 39.7 462.2 46.6 462.4 39.3 462.6 46.9 462.8 39.3 463 47.4 463.2 40.1 463.4 47.7 463.7 39 463.9 47.7 464.1 40.4 464.3 46.2 464.5 39.3 464.7 48.1 464.9 39.4 465.1 47.3 465.3 39.2 465.5 46.8 465.7 38.7 465.9 46.6 466.1 39 466.3 46.8 466.5 39.1 466.7 47.2 466.9 39.1 467.1 45.7 467.3 38.7 467.6 46.5 467.8 39 468 46.7 468.2 38.4 468.4 46 468.6 38.7 468.8 46.2 469 38.3 469.2 45.3 469.4 37.9 469.6 46.2 469.8 38.3 470 46.1 470.2 38.1 470.4 45.9 470.6 38.6 470.8 45.7 471 37.5 471.2 46 471.4 38 471.7 45 471.9 38.6 472.1 46.3 472.3 37.7 472.5 45.7 472.7 38 472.9 45 473.1 37.7 473.3 46.9 473.5 37.7 473.5 33.8 473.5 99.2 473.6 99.2 473.5 102.1 473.7 101.2 473.8 100.4 474 101.8 474.2 98.9 474.4 100.7 474.5 97.1 474.7 101.9 474.9 97 475 100.8 475.2 95.6 475.4 100 475.5 95 475.7 101.7 475.9 96.6 476 100.5 476.2 93.9 476.4 100.3 476.6 94.9 476.7 99.8 476.9 94.1 477.1 100.6 477.2 93.8 477.4 99.8 477.6 93.4 477.8 98 477.9 93.3 478.1 99.7 478.3 91.9 478.4 99.3 478.6 90.8 478.8 98.6 478.9 90.2 479.1 99.2 479.3 90.1 479.4 99.3 479.6 90 479.8 97.2 480 88 480.1 98.7 480.3 87.5 480.5 96.9 480.6 86 480.8 97.2 481 86 481.2 96.9 481.3 84.9 481.5 95.7 481.7 85.6 481.8 97.2 482 84.4 482.2 97.3 482.3 82.6 482.5 95.5 482.7 83.2 482.8 95.3 483 79.8 483.2 95.5 483.4 78.3 483.5 95.9 483.7 76.7 483.7 19.4 483.8 46.3 483.7 43.3 483.9 50.5 484.1 44.3 484.3 51 484.5 43.6 484.7 51.1 484.9 44.2 485.1 51 485.3 43.5 485.5 51.1 485.7 44.8 485.9 50.8 486.1 43.7 486.3 49 486.5 43.1 486.7 50.7 486.9 43.2 487.1 49.3 487.4 43.7 487.6 49.7 487.8 42.8 488 49.4 488.2 42.1 488.4 49.2 488.6 44.2 488.8 50.6 489 42.6 489.2 49.3 489.4 42.6 489.6 48 489.8 42.4 490 48.5 490.2 43 490.4 48.7 490.6 41.5 490.8 49.9 491 42.7 491.2 48.9 491.4 42 491.6 47.9 491.8 41.5 492 48.9 492.2 41.3 492.4 48 492.6 40.7 492.8 48.3 493 41.9 493.2 47.9 493.4 40.9 493.6 47.9 493.8 41 494 48.9 494.2 40.8 494.4 47.9 494.7 42.1 494.9 47.8 495.1 42.2 495.3 47.7 495.5 40.8 495.7 47.6 495.9 40.3 496.1 46.2 496.3 40.9 496.5 47.2 496.7 41.3 496.9 46.6 497.1 39.4 497.3 47 497.5 40 497.7 45.3 497.9 38.7 498.1 47.8 498.3 39.4 498.5 45 498.7 40.4 498.9 44.3 499.1 39.2 499.3 45.6 499.5 37.7 499.7 46.3 499.9 38.7 500.1 46.6 500.3 38.1 500.5 45.2 500.7 38.8 500.9 45.5 501.1 39.2 501.3 46 501.5 37.7 501.8 45.5 502 37.7 502.2 45.3 502.4 38.2 502.6 45.8 502.8 37 503 45.6 503.2 38 503.4 44.1 503.6 36.9 503.8 44.6 504 37.1 504.2 44.6 504.4 36.8 504.6 44.5 504.8 36.8 505 44.6 505.2 36.5 505.2 33.8 505.2 99.2 505.2 99.2 505.2 101.2 505.4 101.7 505.5 99.6 505.7 101.4 505.9 99.3 506.1 100.8 506.2 99 506.4 100.9 506.6 98 506.7 101.5 506.9 97.3 507.1 100.8 507.3 96.6 507.4 100.3 507.6 94.1 507.8 99.4 507.9 94.6 508.1 100.1 508.3 94.7 508.5 101.1 508.6 94.9 508.8 100.3 509 93.1 509.1 98.4 509.3 91.5 509.5 100.1 509.7 91.2 509.8 98.8 510 91.8 510.2 98.9 510.3 90.3 510.5 98.5 510.7 91.5 510.9 97.2 511 89.3 511.2 98.3 511.4 88.4 511.5 98.4 511.7 87.8 511.9 97.5 512.1 87.4 512.2 97.4 512.4 86.4 512.6 96.7 512.7 86.5 512.9 97 513.1 83.5 513.3 96.9 513.4 84.5 513.6 96.3 513.8 82.6 513.9 96.1 514.1 78.6 514.3 96.3 514.5 79.1 514.6 96.1 514.8 76.2 514.8 19.4 514.8 46.3 514.8 44.2 515 50.3 515.2 43.9 515.4 51.1 515.6 43.4 515.8 48.6 516 44.9 516.2 50.2 516.4 43.2 516.6 50 516.8 44.2 517 50.1 517.2 43.6 517.4 49.9 517.6 43.4 517.8 50 518 42.5 518.2 51 518.4 43.8 518.7 50.7 518.9 42.9 519.1 50.2 519.3 43.8 519.5 50.1 519.7 42.9 519.9 49 520.1 42.4 520.3 49 520.5 43.3 520.7 49.3 520.9 43.7 521.1 48.9 521.3 42.6 521.5 49.2 521.7 41.5 521.9 49.2 522.1 42.6 522.3 49.2 522.5 42.1 522.7 48.9 522.9 42.3 523.1 49.2 523.3 41.3 523.5 48.7 523.7 41.7 523.9 47.8 524.1 42.3 524.3 49.5 524.5 42.5 524.7 48.4 524.9 41 525.1 46.5 525.3 42 525.5 47.6 525.7 40.7 525.9 47.7 526.2 39.5 526.4 48 526.6 41.4 526.8 47.8 527 41.8 527.2 46.5 527.4 39.9 527.6 46.6 527.8 40 528 46.6 528.2 39.1 528.4 46.5 528.6 40.8 528.8 47.1 529 40.1 529.2 46.7 529.4 39.9 529.6 47.5 529.8 39.9 530 46.8 530.2 38.7 530.4 47.8 530.6 39.1 530.8 46.7 531 39.9 531.2 47.2 531.4 37.5 531.6 47.2 531.8 39.4 532 45.8 532.2 39 532.4 45.1 532.6 38.7 532.8 45.1 533 38.4 533.2 46.4 533.4 39.2 533.7 46.5 533.9 37.6 534.1 45.5 534.3 37.2 534.5 45.1 534.7 38.6 534.9 45.5 535.1 38.2 535.3 44.8 535.5 36.7 535.7 46 535.9 37.3 536.1 45.2 536.3 36.9 536.5 44.5 536.7 38.5 536.9 43.9 537.1 36.6 537.3 44.3 537.3 33.8 537.3 99.2 537.3 99.2 537.3 100 537.5 102 537.6 100.3 537.8 101.8 538 98.9 538.2 100.9 538.3 97.3 538.5 101.4 538.7 96.7 538.9 100.9 539 94.8 539.2 99.9 539.4 95 539.5 100.7 539.7 96.1 539.9 100.4 540.1 94.7 540.2 101.1 540.4 94.5 540.6 100.2 540.8 91.7 540.9 99.3 541.1 92.5 541.3 98.3 541.4 92.5 541.6 98 541.8 90.8 542 98.8 542.1 89.9 542.3 98.9 542.5 88.6 542.7 97.9 542.8 87.5 543 97.6 543.2 86.2 543.4 97.4 543.5 86.5 543.7 95.5 543.9 84.2 544 96.6 544.2 84.1 544.4 96.2 544.6 83.8 544.7 96 544.9 80.4 545.1 96 545.3 79.5 545.4 95.7 545.6 77.8"/>
<path stroke="#0072BD" d="M461.6 139.1L461.8 141.6 462 139.5 462.2 141.6 462.4 139.3 462.6 141.4 462.8 139.5 463 141.3 463.2 140.1 463.4 141.6 463.7 139.7 463.9 141.6 464.1 138.9 464.3 141.9 464.5 139.6 464.7 141.5 464.9 139.3 465.1 141.1 465.3 140 465.5 141.4 465.7 139.4 465.9 141.7 466.1 139.1 466.3 141.8 466.5 139.5 466.7 141.2 466.9 139.7 467.1 141.5 467.3 139.8 467.6 141.7 467.8 139.7 468 141.5 468.2 140 468.4 142.2 468.6 139.5 468.8 141.1 469 139.9 469.2 141.4 469.4 139.9 469.6 141.3 469.8 140 470 141.5 470.2 139.8 470.4 141.5 470.6 139.7 470.8 141 471 139.3 471.2 141.7 471.4 139.7 471.7 141.6 471.9 139 472.1 141.5 472.3 139.5 472.5 141.3 472.7 139.5 472.9 141.4 473.1 139.2 473.3 141.3 473.5 139.6 473.5 101.2 473.6 116.5 473.5 117.5 473.7 123.3 473.8 118.8 474 124.7 474.2 120.1 474.4 125.2 474.5 120.9 474.7 125.6 474.9 120.3 475 126.1 475.2 120.8 475.4 126.4 475.5 121.6 475.7 126.9 475.9 121.1 476 126.7 476.2 121.5 476.4 127.2 476.6 122.4 476.7 128.3 476.9 122.3 477.1 128.4 477.2 123.6 477.4 128.9 477.6 123.9 477.8 129.3 477.9 123.8 478.1 129.2 478.3 122.8 478.4 130.1 478.6 123.8 478.8 130.2 478.9 124.3 479.1 130.3 479.3 124.8 479.4 130.8 479.6 125.8 479.8 131.3 480 125.2 480.1 131.2 480.3 124.6 480.5 131.7 480.6 125.7 480.8 131.8 481 127.1 481.2 132 481.3 126.7 481.5 132.4 481.7 126 481.8 132.7 482 126.6 482.2 133.2 482.3 126.9 482.5 133.3 482.7 126.7 482.8 133.9 483 126.4 483.2 133.5 483.4 127.4 483.5 134.4 483.7 128 483.7 117.5 483.8 140.6 483.7 139.5 483.9 141.5 484.1 139.4 484.3 141.2 484.5 139.8 484.7 141.2 484.9 140.1 485.1 141.6 485.3 140.1 485.5 141.4 485.7 139.5 485.9 141.5 486.1 139.6 486.3 141.4 486.5 139.6 486.7 142.2 486.9 139.7 487.1 141.4 487.4 139.7 487.6 141.7 487.8 139.6 488 141.2 488.2 139.3 488.4 141.5 488.6 139.5 488.8 141.3 489 139.2 489.2 141.9 489.4 139.9 489.6 141.7 489.8 140 490 140.9 490.2 139.5 490.4 141.9 490.6 140 490.8 141.6 491 139.8 491.2 142.1 491.4 139.4 491.6 141.3 491.8 139.5 492 141.7 492.2 139.6 492.4 141.3 492.6 139.3 492.8 141.6 493 139.8 493.2 141.3 493.4 139.9 493.6 141.9 493.8 139.3 494 141 494.2 139.2 494.4 141.5 494.7 139.6 494.9 141.2 495.1 139.5 495.3 141.7 495.5 139.4 495.7 141.6 495.9 139.7 496.1 141.3 496.3 140.2 496.5 141.1 496.7 139.4 496.9 141.8 497.1 139.7 497.3 141.7 497.5 139.5 497.7 141.7 497.9 139.6 498.1 141.7 498.3 139.3 498.5 141.4 498.7 139.5 498.9 141.2 499.1 139.6 499.3 141.4 499.5 140.2 499.7 141.1 499.9 139.7 500.1 141.8 500.3 139.2 500.5 142.3 500.7 139.1 500.9 141.5 501.1 139.4 501.3 141.2 501.5 139.6 501.8 141.5 502 139.7 502.2 141.2 502.4 140.2 502.6 141.7 502.8 139.9 503 141.4 503.2 139.5 503.4 141.6 503.6 139.7 503.8 141.3 504 139.5 504.2 141.6 504.4 139.5 504.6 141 504.8 139.2 505 141.7 505.2 139.3 505.2 101.2 505.2 116.5 505.2 118.3 505.4 123.5 505.5 118.1 505.7 124.7 505.9 119.8 506.1 125.3 506.2 120.4 506.4 126 506.6 121 506.7 126 506.9 121.6 507.1 126.2 507.3 121.1 507.4 126.8 507.6 122 507.8 127.6 507.9 121.9 508.1 127.3 508.3 122.6 508.5 128.2 508.6 122.7 508.8 128.4 509 123.1 509.1 129 509.3 124.1 509.5 129.4 509.7 124.4 509.8 129.5 510 124.2 510.2 129.8 510.3 125.1 510.5 130.4 510.7 125 510.9 130.5 511 125.2 511.2 131.3 511.4 125.2 511.5 131.4 511.7 125.7 511.9 131.7 512.1 125.4 512.2 132.2 512.4 126.2 512.6 132.2 512.7 127.1 512.9 132.7 513.1 127 513.3 133 513.4 127.7 513.6 133.2 513.8 127.1 513.9 133.7 514.1 126.8 514.3 134.2 514.5 128 514.6 134.2 514.8 127.8 514.8 117.5 514.8 140.6 514.8 139.8 515 141.3 515.2 139.4 515.4 141.5 515.6 140.1 515.8 141.6 516 139.7 516.2 141.2 516.4 139.3 516.6 141.7 516.8 139.5 517 141.8 517.2 139.6 517.4 141.5 517.6 139.9 517.8 141.4 518 140 518.2 141.6 518.4 139.6 518.7 141.7 518.9 139.6 519.1 141.4 519.3 140.6 519.5 141.6 519.7 139.3 519.9 141.7 520.1 139.8 520.3 141.6 520.5 139.7 520.7 142 520.9 139.8 521.1 141.8 521.3 139.8 521.5 141.9 521.7 139.7 521.9 141.3 522.1 139.6 522.3 141.4 522.5 139.2 522.7 142 522.9 139.6 523.1 141.8 523.3 139.5 523.5 141.6 523.7 139.2 523.9 141 524.1 139.6 524.3 141.5 524.5 139.8 524.7 141.6 524.9 139.2 525.1 141.3 525.3 139.7 525.5 141.5 525.7 139.7 525.9 141.6 526.2 139.7 526.4 142 526.6 139.6 526.8 141.3 527 139.2 527.2 141.7 527.4 139.1 527.6 141.5 527.8 139.4 528 141 528.2 139.7 528.4 141.4 528.6 139.1 528.8 141.5 529 139.8 529.2 141.8 529.4 139.6 529.6 141.3 529.8 139.1 530 141.7 530.2 139.5 530.4 141.4 530.6 140 530.8 141.5 531 139.6 531.2 141.3 531.4 139.5 531.6 141.5 531.8 139.3 532 142.1 532.2 140 532.4 142 532.6 139.2 532.8 141.2 533 139.9 533.2 141.6 533.4 139.4 533.7 141.6 533.9 139.9 534.1 141.4 534.3 139.8 534.5 141.8 534.7 139.5 534.9 141.3 535.1 139.8 535.3 141.1 535.5 139.7 535.7 141.1 535.9 139.3 536.1 141.7 536.3 139.7 536.5 141.4 536.7 139.9 536.9 140.9 537.1 139.3 537.3 141.4 537.3 101.2 537.3 116.5 537.3 117.9 537.5 124.2 537.6 118.9 537.8 125 538 120.5 538.2 125.2 538.3 120.5 538.5 125.6 538.7 120.9 538.9 126.5 539 121.1 539.2 126.8 539.4 122 539.5 127.7 539.7 121.6 539.9 127.9 540.1 123.2 540.2 128.5 540.4 123.1 540.6 129 540.8 123.8 540.9 129.4 541.1 124.2 541.3 130 541.4 124.4 541.6 130.3 541.8 123.8 542 130.5 542.1 125.8 542.3 130.7 542.5 125.6 542.7 131.5 542.8 125.8 543 132.1 543.2 125.8 543.4 131.7 543.5 127 543.7 132.2 543.9 126.1 544 132.6 544.2 126.5 544.4 133.4 544.6 127.3 544.7 133.2 544.9 127.8 545.1 133.7 545.3 128.2 545.4 134.2 545.6 127.4"/>
</g>
<g clip-path="url(#c10)" fill="none" stroke-width="1.20" stroke-linejoin="round" stroke-linecap="butt">
<path stroke="#D95319" d="M58.5 235.8L58.6 235.7 58.8 235.1 58.9 235.5 59 235.8 59.1 234.8 59.2 236.5 59.4 236.9 59.5 235.7 59.6 236.1 59.8 236.1 59.9 238.1 60 236.8 60.1 237.7 60.2 237.2 60.4 240.1 60.5 239.5 60.6 240.5 60.8 242.1 60.9 242.1 61 241.4 61.1 243.4 61.2 244.4 61.4 244 61.5 244.8 61.6 245.7 61.8 248 61.9 248.4 62 248.6 62.1 250.9 62.2 252.1 62.4 252 62.5 252.6 62.6 255.9 62.8 258.2 62.9 258.6 63 259.6 63.1 260.3 63.2 261.2 63.4 263.2 63.5 265.2 63.6 266.2 63.8 268.7 63.9 269.9 64 272.4 64.1 271.4 64.2 270.4 64.4 269.7 64.5 268 64.6 265.9 64.8 265.2 64.9 263 65 261.6 65.1 258.9 65.2 258.5 65.4 257.5 65.5 256.6 65.6 255.3 65.8 253.2 65.9 252.2 66 250 66.1 250.3 66.2 248 66.4 247.6 66.5 246.8 66.6 247.4 66.8 246 66.9 243.6 67 242.2 67.1 242.4 67.2 241.2 67.4 241.4 67.5 240.7 67.6 240.3 67.8 238.5 67.9 238.4 68 238.4 68.1 238 68.2 236.9 68.4 236.7 68.5 237.2 68.6 234.9 68.8 235.8 68.9 235.8 69 234.5 69.1 234.7 69.2 235.4 69.4 234.9 69.5 236.1 69.6 235.8 69.8 237.1 69.9 234.6 70 237.1 70.1 235.3 70.2 236.7 70.4 237.1 70.5 236.9 70.6 236.9 70.8 237 70.9 236.5 71 238.1 71.1 238.2 71.2 239.9 71.4 239.5 71.5 240.6 71.6 241.7 71.8 242.2 71.9 242.9 72 243.5 72.1 244.2 72.2 245.7 72.4 246.8 72.5 246.6 72.6 249.5 72.8 249.7 72.9 249.1 73 253.4 73.1 253 73.2 253.1 73.4 256.1 73.5 254.1 73.6 259.4 73.8 257.6 73.9 258.9 74 260.9 74.1 263.2 74.2 264.3 74.4 266.9 74.5 267.3 74.6 270.7 74.8 272.1 74.9 272.7 75 271.9 75.1 269.3 75.2 267.1 75.4 266.5 75.5 263 75.6 262.1 75.8 262 75.9 259.5 76 258.7 76.1 257.3 76.2 255.4 76.4 254.8 76.5 252.3 76.6 252.4 76.8 250 76.9 249.7 77 247.9 77.1 248 77.2 247 77.4 246.6 77.5 244.3 77.6 243.2 77.8 241.5 77.9 241.3 78 241.4 78.1 241 78.2 239.9 78.4 239.6 78.5 237.8 78.6 237.7 78.8 238.6 78.9 238 79 236 79.1 236.4 79.2 236.5 79.4 235.1 79.5 236 79.6 235.7 79.8 235.7 79.9 236.7 80 234.4 80.1 236 80.2 235.5 80.4 235.6 80.5 234.6 80.6 235.3 80.8 235.4 80.9 236.9 81 235.9 81.1 237.2 81.2 236.2 81.4 236.5 81.5 237.2 81.6 236.1 81.8 237.7 81.9 238.2 82 239.1 82.1 240 82.2 239.7 82.4 240.3 82.5 242.9 82.6 241.8 82.8 243 82.9 243.5 83 244.8 83.1 247 83.2 247.9 83.4 246.6 83.5 248.8 83.6 251.2 83.8 250.9 83.9 252.6 84 254.9 84.1 256.5 84.2 257.2 84.4 257.1 84.5 258.7 84.6 260.2 84.8 261.2 84.9 262.5 85 266.1 85.1 266.4 85.2 268.5 85.4 270.7 85.5 272.3 85.6 273.6 85.8 271.3 85.9 270.2 86 267.7 86.1 264.1 86.2 264.9 86.4 263.9 86.5 260.9 86.6 259.3 86.8 258 86.9 258 87 255.1 87.1 255.2 87.2 254.3 87.4 252.8 87.5 251.3 87.6 249.6 87.8 248.6 87.9 248.1 88 246.4 88.1 246.2 88.2 244.6 88.4 245.6 88.5 244.9 88.6 242.3 88.8 243.3 88.9 241.7 89 240.9 89.1 240.6 89.2 240 89.4 238 89.5 240.6 89.6 237.5 89.8 236 89.9 237.3 90 237 90.1 236.2 90.2 235 90.4 237.2 90.5 236 90.6 236.1 90.8 235.4 90.9 235.7 91 235.3 91.1 236.1 91.2 235.8 91.4 236.5 91.5 236.6 91.6 236.4 91.8 236.7 91.9 237.7 92 235.9 92.1 237.6 92.2 239 92.4 237.5 92.5 239.4 92.6 238.9 92.8 239.9 92.9 240.3 93 241 93.1 242.2 93.2 242.4 93.4 241.7 93.5 245.7 93.6 244.8 93.8 245.3 93.9 247.4 94 248.6 94.1 246.8 94.2 249.8 94.4 248.9 94.5 251.2 94.6 252.7 94.8 253.5 94.9 254.6 95 255.4 95.1 257.3 95.2 258.8 95.4 260.2 95.5 260.7 95.6 262.6 95.8 265.5 95.9 266.8 96 267.8 96.1 270.4 96.2 272.2 96.4 274.2 96.5 271.3 96.6 268.8 96.8 266.6 96.9 265.6 97 262.5 97.1 262.6 97.2 258.6 97.4 258.9 97.5 258 97.6 257.4 97.8 258 97.9 254.7 98 253.2 98.1 250.7 98.2 252.2 98.4 248.6 98.5 249.2 98.6 247.5 98.8 249 98.9 246 99 245.5 99.1 243.9 99.2 243.5 99.4 243.7 99.5 241.4 99.6 240.9 99.8 240.3 99.9 239.4 100 238.7 100.1 239 100.2 239.6 100.4 239.1 100.5 236.6 100.6 236.7 100.8 236.8 100.9 236.9 101 236.3 101.1 236.1 101.2 236.2 101.4 236.4 101.5 234.1 101.6 235.5 101.8 236.1 101.9 236.7 102 236.3 102.1 235.3 102.2 235.4 102.4 236.4 102.5 236.4 102.6 237 102.8 237.9 102.9 236.4 103 237.5 103.1 236.3 103.2 239.3 103.4 239.3 103.5 239.1 103.6 240.6 103.8 242.1 103.9 242.4 104 242.3 104.1 242.9 104.2 244 104.4 244 104.5 244.8 104.6 246.3 104.8 247.4 104.9 248.6 105 249 105.1 249.8 105.2 251.5 105.4 252.3 105.5 254.1 105.6 256.1 105.8 257.1 105.9 257 106 258.5 106.1 259 106.2 261.6 106.4 262.5 106.5 263.7 106.6 265.5 106.8 268.5 106.9 270 107 271.8 107.1 274.2 107.2 270.6 107.4 268.2 107.5 267.5 107.6 264 107.8 264.1 107.9 262.5 108 261 108.1 260 108.2 257.7 108.4 256.7 108.5 254.1 108.6 253.7 108.8 252.5 108.9 252 109 251.7 109.1 249.6 109.2 249.2 109.4 246.8 109.5 246.5 109.6 244.3 109.8 244.1 109.9 243.2 110 242.8 110.1 242 110.2 240.9 110.4 240 110.5 240.6 110.6 239.1 110.8 236.8 110.9 238.4 111 238 111.1 237.9 111.2 238 111.4 235.6 111.5 236.1 111.6 235.6 111.8 234.2 111.9 233.4 112 235.9 112.1 234.2 112.2 234.5 112.4 234.6 112.5 234.5 112.6 234.9 112.8 233.8 112.9 234.6 113 235 113.1 234.5 113.2 235 113.4 235.6 113.5 236 113.6 235.3 113.8 236.7 113.9 237.6 114 238.6 114.1 238.8 114.2 239.9 114.4 239.6 114.5 240.1 114.6 242.6 114.8 241.7 114.9 242 115 243.2 115.1 244.9 115.2 244.1 115.4 246.5 115.5 247.8 115.6 248.7 115.8 248.9 115.9 249.2 116 250.2 116.1 252.1 116.2 254.3 116.4 255.2 116.5 256.6 116.6 257.4 116.8 259.9 116.9 259.9 117 260.9 117.1 263 117.2 264.1 117.4 266.9 117.5 269 117.6 270.3 117.8 271 117.9 272.7 118 271.3 118.1 268.1 118.2 267.4 118.4 264.3 118.5 263.4 118.6 262.6 118.8 260.2 118.9 259.9 119 258.7 119.1 257.7 119.2 255.1 119.4 254.1 119.5 252.9 119.6 252 119.8 249.4 119.9 249.8 120 249 120.1 246.4 120.2 245.3 120.4 245.2 120.5 245.9 120.6 244.1 120.8 242.4 120.9 242.1 121 240.1 121.1 241.7 121.2 239.4 121.4 239.8 121.5 237.7 121.6 238.2 121.8 236.8 121.9 237.7 122 237.8 122.1 237.2 122.2 236.5 122.4 236.5 122.5 234.5 122.6 234.2 122.8 234.8 122.9 235.7 123 234.9 123.1 235.3 123.2 233.6 123.4 234.5 123.5 234.4 123.6 235.2 123.8 236.6 123.9 235.9 124 236.4 124.1 235.5 124.2 236.1 124.4 237.1 124.5 237.2 124.6 236.1 124.8 238.6 124.9 239.1 125 239.1 125.1 240.1 125.2 240.5 125.4 240.5 125.5 240.3 125.6 243.7 125.8 243.2 125.9 244 126 245 126.1 246 126.2 247.1 126.4 247 126.5 249.2 126.6 250 126.8 251 126.9 252.1 127 253.5 127.1 253.8 127.2 255.8 127.4 257 127.5 258.6 127.6 260.7 127.8 262 127.9 263.7 128 264.3 128.1 266.7 128.2 268.7 128.4 269.6 128.5 271.5 128.6 274.8 128.8 269.7 128.9 269 129 267.3 129.1 264.8 129.2 263.9 129.4 262.9 129.5 259.3 129.6 260.4 129.8 258.3 129.9 256.2 130 256.4 130.1 254.5 130.2 252.9 130.4 250.2 130.5 251.6 130.6 249.9 130.8 248.3 130.9 247.7 131 247.7 131.1 245.6 131.2 244.9 131.4 243.8 131.5 242.5 131.6 241.8 131.8 241.5 131.9 240.9 132 241.3 132.1 239.9 132.2 239.1 132.4 239 132.5 238.1 132.6 238.4 132.8 236.1 132.9 235.3 133 236.9 133.1 236 133.2 236.2 133.4 234.8 133.5 235.3 133.6 235.4 133.8 235.6 133.9 235.2 134 236.1 134.1 234.8 134.2 236 134.4 235.1 134.5 235.6 134.6 235 134.8 236.1 134.9 235.6 135 237.4 135.1 236.6 135.2 237.6 135.4 237.8 135.5 238.3 135.6 238.2 135.8 241 135.9 239.8 136 241.9 136.1 240.5 136.2 243.6 136.4 243.6 136.5 244.9 136.6 243.2 136.8 246.3 136.9 246.2 137 247.6 137.1 249.6 137.2 249.5 137.4 249.7 137.5 251.5 137.6 251.8 137.8 253.9 137.9 254.9 138 256.4 138.1 257.1 138.2 257.3 138.4 259.9 138.5 261.4 138.6 263.5 138.8 265.2 138.9 265.1 139 268.8 139.1 270.5 139.2 272 139.4 273.8 139.5 269.5 139.6 270.8 139.8 266.8 139.9 264.8 140 264.6 140.1 262.7 140.2 260.3 140.4 258 140.5 258.6 140.6 257.7 140.8 254.4 140.9 252.8 141 253 141.1 253.2 141.2 249.3 141.4 249.4 141.5 247.3 141.6 247.2 141.8 246.5 141.9 245.6 142 243.2 142.1 242.4 142.2 244.3 142.4 242.5 142.5 239.7"/>
<path stroke="#0072BD" d="M58.5 290.7L58.6 291.4 58.8 290.4 58.9 290.5 59 290.5 59.1 290.7 59.2 290.6 59.4 290.7 59.5 290.1 59.6 291 59.8 290.6 59.9 290.5 60 289.3 60.1 290 60.2 290.4 60.4 289.9 60.5 289.9 60.6 289.4 60.8 289.8 60.9 288.7 61 289 61.1 290 61.2 290.1 61.4 289 61.5 289.1 61.6 289.3 61.8 290.1 61.9 290 62 287.9 62.1 287 62.2 286.3 62.4 287.1 62.5 284.3 62.6 284.3 62.8 282.1 62.9 280.4 63 279.4 63.1 277 63.2 275.7 63.4 272.3 63.5 270.4 63.6 266.3 63.8 264.5 63.9 262.2 64 261.7 64.1 262.2 64.2 262 64.4 263.8 64.5 264.9 64.6 267.3 64.8 270.8 64.9 272.6 65 275.1 65.1 277.7 65.2 278.9 65.4 280.1 65.5 283.3 65.6 284.7 65.8 287.2 65.9 286.6 66 287.6 66.1 289.5 66.2 288.1 66.4 288.3 66.5 289.7 66.6 289.6 66.8 290.3 66.9 289.1 67 291 67.1 290.2 67.2 288.6 67.4 290.1 67.5 289.8 67.6 290.3 67.8 291.2 67.9 290.3 68 290 68.1 291.1 68.2 290.1 68.4 289.4 68.5 289.5 68.6 291.6 68.8 291.1 68.9 291.6 69 289.5 69.1 289.9 69.2 289.8 69.4 291.1 69.5 291.3 69.6 290.3 69.8 290.3 69.9 291 70 290.3 70.1 289.9 70.2 290.2 70.4 291.2 70.5 292 70.6 290.5 70.8 290.2 70.9 290.5 71 290.6 71.1 290.8 71.2 289.7 71.4 290.2 71.5 290.1 71.6 290.8 71.8 290.5 71.9 289.8 72 290.6 72.1 290.6 72.2 289.7 72.4 288.3 72.5 288.7 72.6 287.4 72.8 288.1 72.9 287.7 73 287.8 73.1 286.3 73.2 283.7 73.4 283.2 73.5 281.4 73.6 279.6 73.8 278 73.9 275.9 74 273.1 74.1 269.9 74.2 267.4 74.4 264.8 74.5 262.8 74.6 261.8 74.8 260.4 74.9 260.7 75 259.7 75.1 263.4 75.2 263.9 75.4 264.3 75.5 269.1 75.6 272.4 75.8 274.2 75.9 275.7 76 279 76.1 280.4 76.2 282.5 76.4 284.3 76.5 282.8 76.6 286.2 76.8 287.4 76.9 288.1 77 287.9 77.1 288.4 77.2 288.4 77.4 289.2 77.5 290.6 77.6 289.3 77.8 290.1 77.9 290.2 78 291.2 78.1 290.6 78.2 290.7 78.4 290.2 78.5 291.4 78.6 290.2 78.8 290.2 78.9 291.2 79 290.8 79.1 291 79.2 289.7 79.4 292.3 79.5 290.6 79.6 291.6 79.8 290.7 79.9 289.7 80 290.9 80.1 290.3 80.2 291 80.4 288.9 80.5 289.7 80.6 289.5 80.8 291.4 80.9 291.2 81 289.5 81.1 290.5 81.2 290.5 81.4 290.1 81.5 291.3 81.6 289.7 81.8 290.3 81.9 289.9 82 290.8 82.1 289.8 82.2 290.7 82.4 289.4 82.5 289.2 82.6 289.2 82.8 289.4 82.9 289.2 83 291.6 83.1 288.6 83.2 289.2 83.4 288.6 83.5 288.4 83.6 288.8 83.8 287.4 83.9 285.7 84 284.1 84.1 284.5 84.2 283.3 84.4 279.8 84.5 279.7 84.6 275.3 84.8 274.5 84.9 272.7 85 268.8 85.1 265.9 85.2 266.3 85.4 262.4 85.5 262.8 85.6 261.3 85.8 263.2 85.9 265.3 86 265.5 86.1 267.4 86.2 268.9 86.4 271.7 86.5 275 86.6 278 86.8 280.2 86.9 281.9 87 283.8 87.1 284.7 87.2 287.6 87.4 286.4 87.5 287.3 87.6 285.9 87.8 287.8 87.9 289.2 88 288.7 88.1 290.3 88.2 290.1 88.4 291.2 88.5 288.8 88.6 289.5 88.8 291 88.9 290.2 89 289.5 89.1 289.8 89.2 290 89.4 290.9 89.5 290.8 89.6 290.2 89.8 289.6 89.9 291 90 291.2 90.1 289.5 90.2 291.1 90.4 289.5 90.5 290.2 90.6 289.7 90.8 289 90.9 289.8 91 289.8 91.1 291.1 91.2 290.9 91.4 289.9 91.5 289.2 91.6 289.3 91.8 288.6 91.9 290.1 92 290.2 92.1 289.6 92.2 290.3 92.4 290.4 92.5 291.1 92.6 289.5 92.8 291.1 92.9 289.8 93 291.2 93.1 289.2 93.2 290.8 93.4 289.3 93.5 291 93.6 290 93.8 288.5 93.9 289.8 94 288.9 94.1 288.9 94.2 289.9 94.4 287.3 94.5 286.5 94.6 286.8 94.8 284.4 94.9 284.2 95 282.9 95.1 280.3 95.2 278.8 95.4 274.3 95.5 274.7 95.6 270.3 95.8 267.5 95.9 267.3 96 264.9 96.1 261.4 96.2 261.2 96.4 260.3 96.5 260.3 96.6 262.8 96.8 265.2 96.9 268.8 97 269.1 97.1 272.7 97.2 274.3 97.4 276.8 97.5 280.2 97.6 279.8 97.8 281.9 97.9 283.5 98 286.2 98.1 286.6 98.2 287.5 98.4 288.1 98.5 289.1 98.6 288.4 98.8 288.9 98.9 289 99 289.9 99.1 288.7 99.2 289.7 99.4 292.1 99.5 290.5 99.6 290.2 99.8 289.4 99.9 290.4 100 290.4 100.1 290.8 100.2 289.8 100.4 290.7 100.5 290.8 100.6 290.9 100.8 289.9 100.9 290.8 101 291.7 101.1 289.9 101.2 290.9 101.4 290.1 101.5 290.1 101.6 289.5 101.8 289.6 101.9 290.8 102 290.5 102.1 291.4 102.2 289.1 102.4 290 102.5 289.3 102.6 290.6 102.8 291.9 102.9 289.2 103 290.3 103.1 290.2 103.2 290.2 103.4 289.8 103.5 289.8 103.6 291.4 103.8 289.3 103.9 290.5 104 290.4 104.1 288.6 104.2 289.1 104.4 289.9 104.5 290.9 104.6 289.1 104.8 288.5 104.9 288.6 105 289 105.1 288.1 105.2 287.7 105.4 285.7 105.5 284.2 105.6 282.8 105.8 282.6 105.9 280.1 106 277.8 106.1 276.3 106.2 273.5 106.4 269.1 106.5 267.9 106.6 264.9 106.8 263.7 106.9 261.6 107 262 107.1 260.4 107.2 260.1 107.4 260.7 107.5 263.3 107.6 266 107.8 269.1 107.9 272.3 108 274.6 108.1 276.4 108.2 279.7 108.4 280.3 108.5 283.5 108.6 285.5 108.8 286.1 108.9 287.6 109 288.1 109.1 286.9 109.2 288.4 109.4 288.5 109.5 288.1 109.6 288.3 109.8 289.9 109.9 288.7 110 289.5 110.1 290 110.2 289.7 110.4 291.2 110.5 290.8 110.6 290.3 110.8 289.8 110.9 290.6 111 290.4 111.1 289.6 111.2 289.2 111.4 289.8 111.5 289.4 111.6 290.7 111.8 290.6 111.9 290.1 112 290.6 112.1 290.8 112.2 289.1 112.4 290.5 112.5 291.1 112.6 290 112.8 289 112.9 290.3 113 289.4 113.1 290.7 113.2 290.7 113.4 290.9 113.5 290.5 113.6 288.9 113.8 291.2 113.9 289.1 114 291.1 114.1 290.4 114.2 289.6 114.4 289.7 114.5 289.9 114.6 291.4 114.8 289.7 114.9 290.7 115 287.8 115.1 289.8 115.2 289.3 115.4 290.1 115.5 289.3 115.6 289.5 115.8 287.3 115.9 287.7 116 286.3 116.1 286.4 116.2 285.2 116.4 282.6 116.5 282.8 116.6 281.6 116.8 277.9 116.9 276.8 117 273.7 117.1 270 117.2 268.6 117.4 264.8 117.5 263.8 117.6 260.4 117.8 259.5 117.9 260.7 118 261 118.1 262.8 118.2 263.9 118.4 265.6 118.5 270.2 118.6 271.1 118.8 275.4 118.9 277.5 119 280.4 119.1 279.4 119.2 282.6 119.4 283.9 119.5 285.8 119.6 285.4 119.8 288.7 119.9 287.7 120 286.6 120.1 289 120.2 289 120.4 288.8 120.5 290.2 120.6 289.7 120.8 289.1 120.9 289.8 121 289.8 121.1 290.4 121.2 289.9 121.4 290.2 121.5 289.1 121.6 289.7 121.8 290.5 121.9 292.2 122 289.8 122.1 289.8 122.2 291.1 122.4 291.9 122.5 291.2 122.6 289.7 122.8 291.2 122.9 290.7 123 290.2 123.1 289.4 123.2 290.4 123.4 290.5 123.5 290.8 123.6 289.1 123.8 289.6 123.9 290.4 124 291.4 124.1 291 124.2 289.9 124.4 290.9 124.5 289.6 124.6 290 124.8 290.1 124.9 289.8 125 289.9 125.1 290.9 125.2 290.4 125.4 288.3 125.5 291 125.6 290.3 125.8 289 125.9 289.8 126 290.1 126.1 290.3 126.2 288.6 126.4 287.9 126.5 287.2 126.6 287.7 126.8 286.2 126.9 287 127 285.1 127.1 284.6 127.2 282.5 127.4 280.4 127.5 278.3 127.6 277.7 127.8 273.6 127.9 272.5 128 270.5 128.1 267.5 128.2 266.4 128.4 263.7 128.5 262.5 128.6 262.7 128.8 262.6 128.9 264.5 129 266 129.1 269.3 129.2 270.6 129.4 273.8 129.5 275.9 129.6 277.9 129.8 279.7 129.9 283 130 284.4 130.1 284.8 130.2 285.3 130.4 286.3 130.5 286.6 130.6 286.9 130.8 288 130.9 288.8 131 289.9 131.1 290.1 131.2 290 131.4 289.5 131.5 289.7 131.6 290 131.8 290.2 131.9 289.6 132 290 132.1 290 132.2 290 132.4 290.7 132.5 291.1 132.6 289.9 132.8 290 132.9 290.5 133 290.7 133.1 288.6 133.2 290.9 133.4 290.5 133.5 290.2 133.6 291.3 133.8 290.3 133.9 289 134 289.7 134.1 289.9 134.2 289.9 134.4 290.3 134.5 289.6 134.6 290.5 134.8 290.7 134.9 290.3 135 289.7 135.1 290.1 135.2 289.8 135.4 291.9 135.5 289.4 135.6 288.5 135.8 289.2 135.9 290.4 136 290.8 136.1 289.9 136.2 290.8 136.4 289.3 136.5 290.2 136.6 288.9 136.8 288.4 136.9 290.7 137 288.7 137.1 289 137.2 289.1 137.4 287.9 137.5 286.9 137.6 285 137.8 285.9 137.9 282.6 138 280.3 138.1 279.6 138.2 277.6 138.4 275.6 138.5 274 138.6 270 138.8 267.3 138.9 264.5 139 260.8 139.1 260.5 139.2 259.7 139.4 258.6 139.5 261.4 139.6 262.6 139.8 264 139.9 266.6 140 268.2 140.1 271.7 140.2 272.8 140.4 275.4 140.5 278.3 140.6 281.1 140.8 282.1 140.9 283.4 141 286 141.1 285.9 141.2 286.5 141.4 287.5 141.5 287 141.6 287.7 141.8 289.6 141.9 289.2 142 290.2 142.1 289.2 142.2 290.5 142.4 289.2 142.5 289.7"/>
</g>
<g clip-path="url(#c11)" fill="none" stroke-width="1.20" stroke-linejoin="round" stroke-linecap="butt">
<path stroke="#D95319" d="M159.5 229.6L159.6 228.3 159.7 227.2 159.8 227.6 159.8 225.5 159.9 227.2 160 227.6 160.1 229 160.2 229.6 160.3 231.1 160.3 233.4 160.4 235.3 160.5 236.4 160.6 239 160.7 243.1 160.8 245.6 160.8 247.6 160.9 250.7 161 253.7 161.1 258.5 161.2 261.4 161.3 260.8 161.3 256.7 161.4 252.6 161.5 248.3 161.6 245.2 161.7 241.8 161.8 239.7 161.8 236.7 161.9 234.7 162 232.1 162.1 230.1 162.2 228.5 162.3 226.4 162.3 225.5 162.4 224.6 162.5 224.5 162.6 223.8 162.7 224.6 162.8 224.6 162.8 225.7 162.9 226.7 163 228.6 163.1 231 163.2 233.2 163.3 233.5 163.3 237 163.4 239.8 163.5 243.1 163.6 246.6 163.7 248.1 163.8 254.1 163.8 257.5 163.9 261.8 164 261.5 164.1 257.9 164.2 254.2 164.3 250.8 164.3 247.9 164.4 244.3 164.5 242.9 164.6 239.6 164.7 236.8 164.8 235.1 164.8 234.6 164.9 234.2 165 230.8 165.1 230.1 165.2 230 165.3 228.6 165.3 229.4 165.4 229.3 165.5 230.5 165.6 230.4 165.7 231.9 165.8 233.2 165.8 233.8 165.9 236.1 166 239.1 166.1 240.1 166.2 242.5 166.3 246.1 166.3 248.7 166.4 251.5 166.5 254.9 166.6 258.2 166.7 261.7 166.8 260.9 166.8 255.6 166.9 253.6 167 250.2 167.1 245.6 167.2 242.4 167.3 241 167.3 238.6 167.4 236.8 167.5 233.5 167.6 232.3 167.7 231.3 167.8 229.3 167.8 227.8 167.9 227.5 168 226.2 168.1 226.8 168.2 227.4 168.3 228.1 168.3 228.6 168.4 229.3 168.5 230.8 168.6 232.3 168.7 234.7 168.8 236.5 168.8 238.6 168.9 242 169 245.5 169.1 246.8 169.2 250.6 169.3 254.7 169.3 257.9 169.4 262.2 169.5 261.6 169.6 256.9 169.7 254 169.8 249.8 169.8 246.8 169.9 243.2 170 241.2 170.1 238.4 170.2 236.5 170.3 234.5 170.3 233.3 170.4 230.4 170.5 229.6 170.6 229.1 170.7 228 170.8 227.9 170.8 228 170.9 227.7 171 227.6 171.1 229.2 171.2 231 171.3 231.9 171.3 232.1 171.4 235.5 171.5 236.5 171.6 239.6 171.7 241.7 171.8 245 171.8 248.8 171.9 251.4 172 253.3 172.1 258.2 172.2 261.9 172.3 260.4 172.3 256 172.4 251.8 172.5 248 172.6 243.6 172.7 241.6 172.8 238.7 172.8 236.2 172.9 234 173 232 173.1 228.7 173.2 228.5 173.3 225.2 173.3 224.5 173.4 224.4 173.5 224.5 173.6 223.7 173.7 223.9 173.8 223.8 173.8 225.8 173.9 226.8 174 228.1 174.1 230 174.2 232.3 174.3 235.3 174.3 237.9 174.4 240.2 174.5 243.1 174.6 245.7 174.7 248.5 174.8 252.6 174.8 257.4 174.9 261.1 175 260.4 175.1 256.8 175.2 251.5 175.3 250.1 175.3 246.6 175.4 243.5 175.5 239.7 175.6 238.4 175.7 235.3 175.8 233.9 175.8 232.6 175.9 230.2 176 229 176.1 228.8 176.2 228 176.3 227.5 176.3 226.4 176.4 227 176.5 227.6 176.6 228.3 176.7 229.9 176.8 230.8 176.8 233 176.9 235.4 177 237.2 177.1 239.1 177.2 241.8 177.3 244.1 177.3 248.8 177.4 251.2 177.5 254.3 177.6 258.8 177.7 262.2 177.8 260.3 177.8 256.7 177.9 251.6 178 249.5 178.1 244.7 178.2 242.4 178.3 239.8 178.3 237.1 178.4 234.6 178.5 232.5 178.6 230 178.7 229.6 178.8 226.5 178.8 225.7 178.9 224.7 179 225.7 179.1 226.4 179.2 225.6 179.3 225.9 179.3 226.5 179.4 228.2 179.5 229.4 179.6 231 179.7 234 179.8 234.4 179.8 238.6 179.9 240.6 180 243.1 180.1 247.5 180.2 250.5 180.3 253.2 180.3 258.2 180.4 261.8 180.5 260.2 180.6 256.6 180.7 252.9 180.8 250.3 180.8 247.3 180.9 243.8 181 241.6 181.1 239.1 181.2 237.9 181.3 235.3 181.3 232.9 181.4 231.7 181.5 230.8 181.6 230.4 181.7 229.9 181.8 228.9 181.8 228.3 181.9 229.3 182 229.1 182.1 230.8 182.2 230.9 182.3 233.5 182.3 234.4 182.4 237 182.5 238 182.6 240.4 182.7 243.8 182.8 246.3 182.8 249.1 182.9 252.8 183 255.7 183.1 259.2 183.2 262.2 183.3 259.2 183.3 256.3 183.4 252.5 183.5 248.8 183.6 245.9 183.7 242.8 183.8 239.3 183.8 237 183.9 234.9 184 233.1 184.1 230 184.2 229.7 184.3 228 184.3 227.7 184.4 226.8 184.5 226 184.6 226.2 184.6 228.9 184.8 228.1 185 226.6 185.2 226.1 185.4 225.5 185.6 224.7 185.8 224.7 186 223.8 186 222.5 186.2 225.4 186.4 220 186.6 224.9 186.8 219.5 187 226 187.2 221.7 187.4 226.8 187.6 221.7 187.8 227 188 222.3 188.2 226.8 188.4 222.1 188.6 224.9 188.8 222 189 227 189.2 221.2 189.4 226.4 189.6 221.7 189.8 226.1 190 223.1 190.2 226.7 190.4 221.9 190.6 226.1 190.8 220.6 191 228 191.2 221.4 191.4 225.8 191.6 221.3 191.8 225.9 192.1 221.1 192.3 225.5 192.5 221.2 192.7 224.9 192.9 221.1 193.1 227.4 193.3 220.6 193.5 224.9 193.7 220.9 193.9 225.5 194.1 221.9 194.3 226.6 194.5 221.6 194.7 225.3 194.9 220.7 195.1 225.9 195.3 221.9 195.5 226.8 195.7 220.6 195.9 226.4 196.1 221.9 196.3 227 196.5 222.5 196.7 225.7 196.9 221.6 197.1 226.3 197.3 222.3 197.5 225.2 197.7 220.4 197.9 226.3 198.1 221.5 198.3 226.3 198.5 220 198.7 226.8 198.9 222.2 199.1 225 199.3 220.1 199.5 226.3 199.7 221.4 199.9 225.3 200.1 223 200.3 225.2 200.5 220.9 200.7 225.9 200.9 222.5 201.1 226 201.3 221.5 201.5 226.4 201.7 222.1 201.9 226.1 202.1 222.1 202.3 225.8 202.5 221.7 202.7 225.6 202.9 221.1 203.1 225.3 203.3 221.3 203.5 226.1 203.7 221.3 203.9 226.7 204.2 221.6 204.4 226.6 204.6 222.2 204.8 226.3 205 222.5 205.2 225.7 205.4 222.6 205.6 225.5 205.8 221.2 206 226.5 206.2 221.5 206.4 226.4 206.6 221.6 206.8 227.4 207 221.4 207.2 227.4 207.4 221.2 207.6 225.8 207.8 222 208 224.4 208.2 221.2 208.4 226.7 208.6 222.4 208.8 226.7 209 220.8 209.2 226.9 209.4 221.1 209.6 226.1 209.8 221.2 210 227.2 210.2 222.1 210.4 224.6 210.6 221.5 210.8 226.3 211 222.7 211.2 225.3 211.4 220.4 211.6 226.8 211.8 221.8 212 225.4 212.2 221.9 212.4 227.6 212.6 221.4 212.8 227 213 221.1 213.2 225.9 213.4 222.3 213.6 224.8 213.8 222.5 214 226.1 214.2 221.3 214.4 226.8 214.6 221.2 214.8 226.1 215 220.6 215.2 227.3 215.4 221.3 215.6 225.6 215.8 221 216 226.1 216.3 221.8 216.5 226.1 216.7 221.6 216.9 226.7 217.1 221.1 217.3 225.6 217.5 221.2 217.7 227.5 217.9 220.9 218.1 225.7 218.3 222.6 218.5 226.6 218.7 222 218.9 227.1 219.1 221 219.3 226.7 219.5 221.5 219.7 225.8 219.9 222.6 220.1 225.4 220.3 222.9 220.5 224.5 220.7 223.4 220.9 225.8 221.1 222.2 221.3 226.2 221.5 222.1 221.7 226.2 221.9 221.8 222.1 225.9 222.3 221 222.5 226.5 222.7 221.1 222.9 226.6 223.1 222.3 223.3 226 223.5 221.9 223.7 225.8 223.9 221.6 224.1 227.5 224.3 221.6 224.5 226.1 224.7 220.8 224.9 226.4 225.1 220.9 225.3 226.1 225.5 220.6 225.7 225.1 225.9 221.3 226.1 224.8 226.3 219.8 226.5 225.8 226.7 221.6 226.9 225.3 227.1 221.7 227.3 225.5 227.5 221.1 227.7 227.6 227.9 221 228.1 225.9 228.4 220.8 228.6 227.5 228.8 220.7 229 227.7 229.2 220.2 229.4 226.3 229.6 220.3 229.8 226.4 230 221 230.2 225.4 230.4 221.2 230.6 226.3 230.8 222.1 231 227.2 231.2 222.1 231.4 226.3 231.6 221.4 231.8 227 232 221.3 232.2 225.7 232.4 221.4 232.6 226.3 232.8 220.7 233 225.2 233.2 221.4 233.4 226 233.6 221.3 233.8 225 234 221.9 234.2 226.6 234.2 234 234.3 231.5 234.4 231.5 234.5 229.9 234.5 229.4 234.6 228.8 234.7 229.3 234.8 229 234.9 229.7 235 232.1 235 232.1 235.1 234.9 235.2 236.6 235.3 238.1 235.4 241.3 235.5 243.9 235.5 246.9 235.6 250.3 235.7 254.5 235.8 258.6 235.9 261.9 236 259.9 236 256.3 236.1 253.1 236.2 249.3 236.3 246.7 236.4 244.7 236.5 241.1 236.6 238.7 236.6 236.4 236.7 235.6 236.8 234.1 236.9 232.3 237 231.8 237.1 231.1 237.1 230.3 237.2 230.7 237.3 230.3 237.4 232 237.5 232.3 237.6 234 237.6 234.9 237.7 238.3 237.8 240.6 237.9 242.3 238 246.1 238.1 249.1 238.1 251.9 238.2 255.2 238.3 259.9 238.4 263.2 238.5 259.4 238.6 255.4 238.6 251.7 238.7 248.5 238.8 244.6 238.9 242.1 239 239.8 239.1 237.3 239.2 234.6 239.2 232.9 239.3 231.2 239.4 230.8 239.5 229.8 239.6 228.3 239.7 229.3 239.7 228.5 239.8 229.5 239.9 231.1 240 232.9 240.1 233.2 240.2 235.8 240.2 238 240.3 241 240.4 242 240.5 245.6 240.6 248.8 240.7 252 240.7 255.7 240.8 259.7 240.9 262.5 241 259 241.1 256.9 241.2 251.7 241.2 248.9 241.3 246.3 241.4 242.8 241.5 242.1 241.6 240.9 241.7 236.5 241.8 235.6 241.8 235.5 241.9 233.8 242 232.5 242.1 233.1 242.2 232.1 242.3 231.4 242.3 232.4 242.4 234 242.5 235 242.6 237.2 242.7 238.3 242.8 240.6 242.8 243.2 242.9 245.9 243 246.7 243.1 250.7 243.2 254.5 243.3 257.5 243.3 260.1 243.4 260.7 243.5 257.7 243.6 253.4"/>
<path stroke="#0072BD" d="M159.5 289.9L159.6 290.1 159.7 291 159.8 291.5 159.8 289.6 159.9 290.5 160 289.3 160.1 290.2 160.2 290.6 160.3 289.9 160.3 290.3 160.4 290.2 160.5 290.7 160.6 289.6 160.7 288.9 160.8 288.6 160.8 284.4 160.9 280.7 161 273.2 161.1 267.1 161.2 262.9 161.3 261.2 161.3 266.8 161.4 274.4 161.5 282.7 161.6 286.2 161.7 288.4 161.8 289.7 161.8 289.9 161.9 290.7 162 290.3 162.1 290.8 162.2 290.4 162.3 290 162.3 290.6 162.4 290.3 162.5 290.4 162.6 290.2 162.7 289.7 162.8 290 162.8 290 162.9 291 163 290.4 163.1 289.7 163.2 290.7 163.3 290.4 163.3 290.5 163.4 288.7 163.5 288.3 163.6 285.3 163.7 278.9 163.8 270.9 163.8 263.4 163.9 258.5 164 259.7 164.1 265.7 164.2 274 164.3 281.4 164.3 286.3 164.4 288.4 164.5 289.7 164.6 290 164.7 289.8 164.8 290.2 164.8 291 164.9 290.6 165 290.8 165.1 291.3 165.2 290.1 165.3 290.9 165.3 290.9 165.4 290.8 165.5 289.7 165.6 290.4 165.7 289.6 165.8 290.2 165.8 290.4 165.9 289.9 166 289.8 166.1 289.9 166.2 290 166.3 288.2 166.3 285.4 166.4 279.1 166.5 270.9 166.6 262.2 166.7 257.6 166.8 259 166.8 264.8 166.9 273.5 167 279.4 167.1 285.1 167.2 287.1 167.3 289.5 167.3 289.8 167.4 289.6 167.5 290.1 167.6 290 167.7 290.8 167.8 289.6 167.8 290.1 167.9 289.7 168 290.3 168.1 291.2 168.2 289.9 168.3 289.5 168.3 290.9 168.4 290.8 168.5 290.4 168.6 290.3 168.7 291.2 168.8 289.1 168.8 289.4 168.9 289.8 169 288.9 169.1 284.3 169.2 277.5 169.3 270 169.3 261.8 169.4 258.4 169.5 258.8 169.6 266 169.7 272.4 169.8 280.7 169.8 287.2 169.9 289.7 170 289.4 170.1 290 170.2 290.3 170.3 289.8 170.3 289 170.4 290 170.5 291.2 170.6 290.3 170.7 290.9 170.8 290.7 170.8 290 170.9 290.3 171 290.8 171.1 290.2 171.2 290.7 171.3 289.9 171.3 290.3 171.4 290 171.5 290.3 171.6 289.6 171.7 289.5 171.8 287.9 171.8 284.9 171.9 278.7 172 271.9 172.1 261.6 172.2 259.1 172.3 259.8 172.3 266.3 172.4 274.5 172.5 281.2 172.6 286.5 172.7 288.9 172.8 290.5 172.8 290.6 172.9 290.8 173 289.2 173.1 291 173.2 290.8 173.3 290.1 173.3 289.4 173.4 291.2 173.5 291.1 173.6 290.1 173.7 290 173.8 291 173.8 291.2 173.9 290.8 174 289.8 174.1 290.2 174.2 289.8 174.3 290.2 174.3 290 174.4 289.1 174.5 288.1 174.6 284.7 174.7 279.9 174.8 272.3 174.8 264.4 174.9 260.8 175 262.3 175.1 267.3 175.2 275.1 175.3 282.1 175.3 287 175.4 288.3 175.5 288.3 175.6 290.6 175.7 291.1 175.8 290.6 175.8 290.7 175.9 290.9 176 290.9 176.1 289.7 176.2 289.7 176.3 289.4 176.3 289.8 176.4 290.5 176.5 289.6 176.6 290.6 176.7 290.4 176.8 290.9 176.8 289.5 176.9 289.6 177 290.4 177.1 290.2 177.2 289.4 177.3 287.8 177.3 284 177.4 278.6 177.5 270.6 177.6 264.2 177.7 259.4 177.8 261.7 177.8 265.8 177.9 274 178 281.4 178.1 285.8 178.2 287.6 178.3 289.2 178.3 291 178.4 290.3 178.5 291.6 178.6 290.7 178.7 290.9 178.8 290.2 178.8 290 178.9 290.7 179 290.4 179.1 290 179.2 290.3 179.3 290.3 179.3 291.6 179.4 290.5 179.5 289.8 179.6 290.1 179.7 291.1 179.8 290.3 179.8 289.8 179.9 289.9 180 287.4 180.1 284.7 180.2 278.3 180.3 270.1 180.3 261 180.4 258.4 180.5 260.1 180.6 265.8 180.7 274.8 180.8 281.6 180.8 287.7 180.9 288.6 181 289.8 181.1 290.8 181.2 289.4 181.3 290.3 181.3 290.3 181.4 291 181.5 291.2 181.6 290.5 181.7 291.1 181.8 289.9 181.8 289.7 181.9 290.6 182 291.1 182.1 290.4 182.2 290.8 182.3 290.1 182.3 290.1 182.4 290.4 182.5 290.1 182.6 289.4 182.7 288.4 182.8 288.1 182.8 284 182.9 278.7 183 271.5 183.1 262.8 183.2 259.6 183.3 261.3 183.3 267.4 183.4 275.6 183.5 282.9 183.6 285.6 183.7 288.4 183.8 289.7 183.8 289.6 183.9 289.5 184 290.3 184.1 289.9 184.2 290.4 184.3 289.8 184.3 290.4 184.4 288.8 184.5 290.4 184.6 289.9 184.6 290 184.8 289.9 185 290.6 185.2 290.1 185.4 290.4 185.6 290.2 185.8 289.8 186 290.1 186 289.5 186.2 291 186.4 289.2 186.6 290.6 186.8 289.5 187 290.9 187.2 289.7 187.4 291.3 187.6 289.8 187.8 291.5 188 289.2 188.2 290.9 188.4 289.2 188.6 291.2 188.8 289.2 189 291.1 189.2 289.1 189.4 290.3 189.6 289.2 189.8 290.9 190 289.3 190.2 291.1 190.4 289.3 190.6 291 190.8 290.2 191 290.9 191.2 289.7 191.4 291.2 191.6 290.3 191.8 291.3 192.1 289.8 192.3 290.3 192.5 289.6 192.7 290.6 192.9 290.1 193.1 290.9 193.3 289.7 193.5 290.5 193.7 289.8 193.9 291.1 194.1 289.9 194.3 291.2 194.5 289.6 194.7 291.1 194.9 289.9 195.1 291.3 195.3 289.9 195.5 291.2 195.7 289.4 195.9 290.9 196.1 289.6 196.3 290.9 196.5 289.6 196.7 291 196.9 289.5 197.1 291 197.3 289.5 197.5 290.7 197.7 289.2 197.9 290.7 198.1 289.5 198.3 290.8 198.5 290.3 198.7 290.6 198.9 289.7 199.1 290.8 199.3 289.6 199.5 290.9 199.7 289.4 199.9 290.8 200.1 289.5 200.3 290.7 200.5 289.6 200.7 290.4 200.9 289.3 201.1 291 201.3 289 201.5 291 201.7 289.2 201.9 291.3 202.1 289.7 202.3 291.1 202.5 289.5 202.7 291.3 202.9 289.4 203.1 291 203.3 289.6 203.5 291 203.7 289.4 203.9 290.7 204.2 289.8 204.4 291.1 204.6 289.5 204.8 291.5 205 289.4 205.2 290.8 205.4 289.5 205.6 290.6 205.8 289.7 206 291.1 206.2 289.8 206.4 291.4 206.6 289.1 206.8 291.1 207 289.9 207.2 291 207.4 289.6 207.6 290.4 207.8 290 208 290.9 208.2 289.6 208.4 290.9 208.6 289.3 208.8 291.1 209 289.9 209.2 290.5 209.4 289.8 209.6 291.5 209.8 289.4 210 291.4 210.2 289.4 210.4 290.9 210.6 289.5 210.8 290.5 211 289.8 211.2 290.8 211.4 289.8 211.6 291 211.8 289.8 212 290.9 212.2 289.4 212.4 290.6 212.6 289.4 212.8 291 213 289.6 213.2 290.8 213.4 289.9 213.6 291 213.8 289.6 214 290.8 214.2 289.5 214.4 291.5 214.6 289.4 214.8 291.5 215 289.6 215.2 290.4 215.4 289.9 215.6 290.8 215.8 289.8 216 291 216.3 288.9 216.5 290.6 216.7 289.3 216.9 291.1 217.1 289 217.3 290.3 217.5 289.4 217.7 290.6 217.9 289.9 218.1 291.3 218.3 289.8 218.5 291 218.7 289.5 218.9 291.2 219.1 289.6 219.3 291.1 219.5 289.6 219.7 290.6 219.9 289.4 220.1 290.7 220.3 290.1 220.5 290.9 220.7 289.2 220.9 290.6 221.1 289.7 221.3 290.9 221.5 289.3 221.7 291.3 221.9 289.7 222.1 291.1 222.3 289.3 222.5 291.3 222.7 289.1 222.9 290.9 223.1 289.9 223.3 291.3 223.5 289.7 223.7 290.9 223.9 289.4 224.1 291.3 224.3 289.1 224.5 291 224.7 289.2 224.9 290.6 225.1 289.7 225.3 290.8 225.5 289.6 225.7 291.1 225.9 289.5 226.1 290.9 226.3 289.1 226.5 291.1 226.7 290.1 226.9 291 227.1 289.6 227.3 291.1 227.5 289.6 227.7 291 227.9 289.4 228.1 291.3 228.4 289.3 228.6 290.9 228.8 289.3 229 291.2 229.2 289.4 229.4 290.7 229.6 289.3 229.8 291 230 290 230.2 291.4 230.4 289.7 230.6 290.9 230.8 289.4 231 291.3 231.2 289.4 231.4 291.3 231.6 289.9 231.8 291.7 232 289.8 232.2 290.4 232.4 289.4 232.6 291.3 232.8 289.8 233 290.7 233.2 289.3 233.4 291 233.6 289 233.8 290.7 234 289.5 234.2 290.7 234.2 289.6 234.3 290.3 234.4 290.8 234.5 290.7 234.5 290.1 234.6 290.6 234.7 290.9 234.8 290.3 234.9 289.6 235 289.7 235 290.3 235.1 289 235.2 290.6 235.3 290.1 235.4 290.6 235.5 288.4 235.5 286.4 235.6 282.1 235.7 273.6 235.8 263.7 235.9 259.5 236 261.5 236 268.2 236.1 278.2 236.2 284.5 236.3 288.6 236.4 289.9 236.5 290.2 236.6 289.8 236.6 289.6 236.7 289.6 236.8 288.6 236.9 290.4 237 290.1 237.1 289.8 237.1 290.6 237.2 290.3 237.3 289.9 237.4 290.6 237.5 289.9 237.6 289.4 237.6 290.8 237.7 291.4 237.8 290 237.9 290.2 238 288.2 238.1 285.2 238.1 278.3 238.2 268.5 238.3 259.8 238.4 256.5 238.5 260.3 238.6 269.8 238.6 279 238.7 285 238.8 288.1 238.9 290 239 290.4 239.1 291 239.2 291.1 239.2 291.1 239.3 289.8 239.4 291.3 239.5 289.8 239.6 290.7 239.7 289.9 239.7 290 239.8 289.7 239.9 289.5 240 290.6 240.1 290.7 240.2 290.4 240.2 290.6 240.3 289.6 240.4 289.6 240.5 287.9 240.6 283.7 240.7 277.1 240.7 266.7 240.8 260.2 240.9 256.5 241 261.2 241.1 271.1 241.2 280 241.2 285.1 241.3 288.8 241.4 290.9 241.5 290.9 241.6 289.6 241.7 290.7 241.8 289.4 241.8 289.4 241.9 290.3 242 289.9 242.1 290.7 242.2 290.4 242.3 290.6 242.3 289.9 242.4 290.9 242.5 290.3 242.6 290.2 242.7 289.9 242.8 291.4 242.8 291 242.9 289.9 243 287.7 243.1 283.4 243.2 276.3 243.3 266.5 243.3 260.7 243.4 260 243.5 266.1 243.6 273.9"/>
</g>
<g clip-path="url(#c12)" fill="none" stroke-width="1.20" stroke-linejoin="round" stroke-linecap="butt">
<path stroke="#D95319" d="M259.8 220.3L260 225.8 260.2 220.8 260.4 225.8 260.6 220.7 260.8 226.6 261 221.1 261.2 225.7 261.4 220.9 261.6 226.3 261.8 219.8 262 224.6 262.2 221.1 262.4 226.9 262.6 221.2 262.8 225.9 263.1 220.4 263.3 226.4 263.5 221.5 263.7 226.4 263.9 220.9 264.1 226.2 264.3 220.5 264.5 226.1 264.7 221.3 264.9 225.6 265.1 220.3 265.3 226.3 265.5 221.8 265.7 226.4 265.9 220.4 266.1 225.3 266.3 221.4 266.5 225.9 266.7 220.8 266.9 226.9 267.1 221 267.3 226.9 267.5 220.3 267.7 226.4 267.9 221.2 268.1 226 268.3 221.2 268.5 225.7 268.7 221 268.9 226 269.2 220.1 269.4 226 269.6 221.1 269.8 226.4 270 221.2 270.2 225.8 270.4 220.9 270.6 227.1 270.8 221.1 271 226.3 271.2 221.7 271.4 226.1 271.6 220.7 271.8 226.9 272 220.7 272.2 225.8 272.4 220.5 272.6 226 272.8 221 273 227.3 273.2 220.6 273.4 225.4 273.6 220.1 273.8 227 274 220.5 274.2 226.8 274.4 221.5 274.6 225.9 274.8 220.6 275 227.1 275.3 219.6 275.5 226.2 275.7 221.1 275.9 226.6 276.1 221.3 276.3 226.2 276.5 220.9 276.7 226.5 276.9 221.5 277.1 226.1 277.3 221.1 277.5 227 277.7 221.3 277.9 226.5 278.1 220.4 278.3 225.5 278.3 223.3 278.4 263.7 278.4 235.5 278.6 263.6 278.7 236.9 278.9 263.3 279.1 240.3 279.2 262.1 279.4 243.9 279.6 261.4 279.8 243.9 279.9 261 280.1 244.3 280.3 262.1 280.4 246.5 280.6 262.4 280.8 246.5 280.9 262.6 281.1 246.6 281.3 262.8 281.4 247.2 281.6 263.6 281.8 245.6 282 263 282.1 246.5 282.3 262.7 282.5 248.5 282.6 260 282.8 248.2 283 259.8 283.1 248.2 283.3 261 283.5 250 283.6 263 283.8 250.8 284 261.5 284.1 250.8 284.3 261.6 284.5 251.7 284.7 263.4 284.8 250.6 285 262.6 285.2 247.8 285.3 263 285.5 247.2 285.7 261.6 285.8 249 286 259.1 286.2 248.5 286.3 261.6 286.5 248.6 286.7 261.1 286.9 250.6 287 263 287.2 250.6 287.4 263 287.5 250.3 287.7 263.2 287.9 249.6 288 263.1 288.2 245.8 288.4 263.3 288.5 246.2 288.7 261.5 288.9 246.2 289.1 261.8 289.2 248.1 289.4 261 289.6 247.6 289.7 260.3 289.9 247.7 290.1 262.8 290.2 248.5 290.4 263.9 290.6 246.8 290.7 262.9 290.9 246.4 291.1 263.1 291.3 245.8 291.4 263.1 291.6 244.2 291.8 263.1 291.9 245.3 292.1 262.9 292.3 243.9 292.4 261 292.6 244.6 292.8 261.1 292.9 243.3 293.1 261.4 293.3 243.3 293.4 263.5 293.6 241.4 293.8 264.3 294 241.7 294.1 264.4 294.3 240.6 294.5 261.7 294.6 239.2 294.8 262.1 295 235.1 295.1 262.3 295.3 236.2 295.5 261.9 295.6 236 295.8 263 296 235.6 296.2 261.4 296.3 235.3 296.5 264 296.7 233.2 296.8 264.7 297 235 297 234.4 297.2 270.3 297.4 233.5 297.6 270.2 297.8 232.1 298 269 298.2 234.8 298.4 269.4 298.6 235.5 298.8 269.3 299 233.4 299.2 269.9 299.4 234.7 299.6 269.4 299.8 233.4 300 268.9 300.2 234 300.4 269.1 300.6 233.8 300.8 268.7 301 236.2 301.2 270.3 301.4 233.2 301.6 268.8 301.8 232.3 302 269.6 302.3 231.3 302.5 269.5 302.7 232.8 302.9 270.3 303.1 232.3 303.3 268.9 303.5 232.3 303.7 269.5 303.9 233 304.1 268.7 304.3 233.4 304.5 270.1 304.7 234.2 304.9 269 305.1 232.6 305.3 269.7 305.5 233.9 305.7 269.6 305.9 233.4 306.1 269.3 306.3 231.7 306.5 270 306.7 231.1 306.9 269.6 307.1 231.6 307.3 268.9 307.5 233.2 307.7 269.5 307.9 232.8 308.1 269.4 308.3 231.5 308.5 270.2 308.7 231.1 308.9 269.4 309.1 230.6 309.3 270.3 309.5 232.1 309.7 270.1 309.9 233.1 310.1 268.7 310.3 230.2 310.5 269.6 310.7 231.1 310.9 269.7 311.1 232.4 311.3 269.8 311.5 231.8 311.7 270.8 311.9 231 312.1 269.9 312.3 233.2 312.6 268.7 312.8 229.5 313 270.2 313.2 233.4 313.4 270 313.6 233.2 313.8 269.3 314 230.5 314.2 269.9 314.4 230.4 314.6 268.6 314.8 232.8 315 269.6 315.2 231.4 315.4 269.5 315.6 230.8 315.8 269.7 316 233.8 316.2 270 316.4 231.6 316.6 269.2 316.8 228.9 317 269.1 317.2 230.6 317.4 268.9 317.6 230.2 317.8 270.3 318 230.9 318.2 269.1 318.4 232.4 318.6 269.9 318.8 230.6 319 269.2 319.2 233.1 319.4 268.7 319.6 228.6 319.8 270 320 231.5 320.2 269.8 320.4 228.1 320.6 269.6 320.8 231.8 321 269 321.2 231.4 321.4 268.9 321.6 231.8 321.8 269.9 322 230.8 322.2 269.1 322.4 230.8 322.6 268.8 322.9 229.9 323.1 269 323.3 231.4 323.5 269.2 323.7 230.3 323.9 269.6 324.1 230.8 324.3 269.6 324.5 229.4 324.7 269.3 324.9 230.6 325.1 269 325.3 230.8 325.5 268.8 325.7 229.6 325.9 269.4 326.1 230.6 326.3 270.6 326.5 230.2 326.7 268.8 326.9 230.3 327.1 268.4 327.3 231.4 327.5 270.1 327.7 230.6 327.9 267.8 328.1 230.9 328.3 269.2 328.5 228.5 328.7 269.5 328.9 229.4 329.1 269.4 329.3 230.6 329.5 269.9 329.7 230.4 329.9 269.8 330.1 230 330.3 269.2 330.5 231.1 330.7 269.3 330.9 229.7 331.1 269.9 331.3 230.5 331.5 270.4 331.7 229.1 331.9 269 332.1 233.1 332.3 268.8 332.5 229.4 332.7 270.1 332.9 229.4 333.2 269.2 333.4 229.8 333.6 269.1 333.8 231.9 334 269.8 334.2 230.2 334.4 269.2 334.6 228.1 334.8 270.4 335 228.7 335.2 270.7 335.4 229.4 335.6 268.6 335.8 231 336 269.2 336.2 229.9 336.4 269.6 336.6 230.4 336.8 269.1 337 229.1 337.2 269.9 337.4 228.3 337.6 269.7 337.8 230.3 338 270.1 338.2 229.4 338.2 220.6 338.4 226.4 338.6 221.4 338.8 225.1 339 221.1 339.2 225.3 339.4 220.4 339.6 225.5 339.9 221.2 340.1 226.6 340.3 220.3 340.5 224.9 340.7 220.8 340.9 226.2 341.1 220.9 341.3 226.7 341.5 220.6 341.7 224.9 341.9 220.8 342.1 226.1 342.3 220.7 342.6 226.2 342.8 220.8 343 226.2 343.2 221.3 343.4 226.6 343.6 221.3 343.8 225.6 344 221.6"/>
<path stroke="#0072BD" d="M259.8 289.9L260 291.8 260.2 290.3 260.4 291.8 260.6 290.1 260.8 291.7 261 290 261.2 292.4 261.4 289.8 261.6 291.9 261.8 290.2 262 291.8 262.2 289.9 262.4 291.4 262.6 290 262.8 291.7 263.1 290.2 263.3 291.7 263.5 289.8 263.7 291.6 263.9 290.6 264.1 292.1 264.3 289.8 264.5 291.5 264.7 290.3 264.9 291.2 265.1 290.1 265.3 292 265.5 290.7 265.7 291.7 265.9 290.3 266.1 292.1 266.3 290.2 266.5 291.6 266.7 290.1 266.9 291.6 267.1 289.4 267.3 291.7 267.5 290 267.7 291.7 267.9 290.1 268.1 291.6 268.3 289.7 268.5 291.9 268.7 290.5 268.9 291.3 269.2 290.3 269.4 291.9 269.6 290.6 269.8 291.7 270 290.1 270.2 291.1 270.4 289.9 270.6 291.7 270.8 290.5 271 291.5 271.2 290 271.4 291.3 271.6 290.4 271.8 291.4 272 290.1 272.2 291.4 272.4 290.2 272.6 292.6 272.8 290 273 292.2 273.2 290.4 273.4 291.6 273.6 290.3 273.8 291.6 274 290.1 274.2 291.9 274.4 290.2 274.6 291.7 274.8 289.9 275 292.1 275.3 289.7 275.5 291.7 275.7 290 275.9 291.9 276.1 290.5 276.3 292 276.5 290.1 276.7 292.2 276.9 290.2 277.1 291.9 277.3 290.4 277.5 291.6 277.7 290.1 277.9 292.1 278.1 291.1 278.3 291.5 278.3 290.6 278.4 256.9 278.4 273.9 278.6 290.3 278.7 272.9 278.9 289.4 279.1 272.4 279.2 287.7 279.4 274.9 279.6 286.7 279.8 275.5 279.9 285.9 280.1 275.2 280.3 285.4 280.4 275.1 280.6 284 280.8 275.1 280.9 283 281.1 274.3 281.3 282.7 281.4 274 281.6 283.8 281.8 272 282 284.3 282.1 272.3 282.3 284.1 282.5 274.4 282.6 283.5 282.8 274.4 283 282.6 283.1 275.1 283.3 282.7 283.5 274.2 283.6 282.3 283.8 274.7 284 281.5 284.1 274.9 284.3 281.2 284.5 274.2 284.7 281.3 284.8 273 285 281.9 285.2 272 285.3 282.4 285.5 272.5 285.7 282.1 285.8 273.6 286 281.5 286.2 274.7 286.3 281.3 286.5 275.4 286.7 281.5 286.9 274 287 281.4 287.2 274.3 287.4 280.9 287.5 274.9 287.7 281.1 287.9 274.2 288 282.1 288.2 272.7 288.4 282.8 288.5 271.6 288.7 283 288.9 272.5 289.1 282.8 289.2 275 289.4 282 289.6 275.9 289.7 282.2 289.9 276 290.1 282.3 290.2 274.8 290.4 282.1 290.6 275.3 290.7 282.6 290.9 273.7 291.1 283.2 291.3 273.1 291.4 284.4 291.6 272.2 291.8 285.4 291.9 272.4 292.1 285.7 292.3 273.2 292.4 284.9 292.6 274.8 292.8 284.9 292.9 275.1 293.1 285.4 293.3 273.1 293.4 286.6 293.6 270.5 293.8 287.4 294 269.8 294.1 287.9 294.3 268.5 294.5 289.2 294.6 267.1 294.8 290.9 295 265.6 295.1 292 295.3 263.7 295.5 291.9 295.6 263.4 295.8 291.8 296 263.2 296.2 291.4 296.3 261.7 296.5 292.2 296.7 260.1 296.8 292.4 297 258.2 297 259.4 297.2 291.7 297.4 258 297.6 291.8 297.8 259 298 292.4 298.2 258.2 298.4 292.3 298.6 257.8 298.8 292.1 299 259.4 299.2 292.1 299.4 259.5 299.6 292.3 299.8 258 300 292.4 300.2 258.4 300.4 292.2 300.6 259.5 300.8 292.1 301 258.6 301.2 292 301.4 259.2 301.6 292.4 301.8 257.8 302 292.2 302.3 258.8 302.5 292.3 302.7 258 302.9 291.9 303.1 258.7 303.3 292.2 303.5 260 303.7 292.1 303.9 260.4 304.1 292.4 304.3 258.6 304.5 292.5 304.7 258.5 304.9 292 305.1 258.9 305.3 292.1 305.5 257.9 305.7 292.2 305.9 259.2 306.1 291.9 306.3 258.8 306.5 292.2 306.7 259.1 306.9 292.2 307.1 259.1 307.3 292.3 307.5 258.1 307.7 292.2 307.9 259.8 308.1 291.8 308.3 260 308.5 292.3 308.7 258.5 308.9 292.3 309.1 259.6 309.3 292.2 309.5 259 309.7 292.3 309.9 257.8 310.1 292 310.3 257.8 310.5 292.1 310.7 259.3 310.9 292.3 311.1 258.6 311.3 292.2 311.5 259.3 311.7 292 311.9 259.7 312.1 292.2 312.3 259.3 312.6 291.8 312.8 258.9 313 292.1 313.2 259.9 313.4 291.8 313.6 258.8 313.8 291.8 314 258.8 314.2 291.9 314.4 259.8 314.6 292.1 314.8 259.5 315 292.1 315.2 260.9 315.4 292.3 315.6 258.1 315.8 292 316 258.2 316.2 291.7 316.4 258.9 316.6 291.6 316.8 257.8 317 291.9 317.2 259.4 317.4 292 317.6 259.7 317.8 292.2 318 260 318.2 292 318.4 258.8 318.6 291.9 318.8 258.6 319 292.3 319.2 258.9 319.4 292.4 319.6 258.8 319.8 292.3 320 258.6 320.2 291.9 320.4 260.2 320.6 291.9 320.8 258.3 321 292.3 321.2 257.6 321.4 292.2 321.6 257.2 321.8 292.2 322 258.2 322.2 292.3 322.4 258.2 322.6 292.2 322.9 259.4 323.1 292 323.3 258.5 323.5 292.1 323.7 258.3 323.9 292.2 324.1 259.8 324.3 292.5 324.5 258.7 324.7 292.3 324.9 258.5 325.1 291.9 325.3 258.8 325.5 292.2 325.7 259.5 325.9 292.2 326.1 259.4 326.3 292 326.5 259.1 326.7 292.1 326.9 260.9 327.1 292.3 327.3 259.1 327.5 292.4 327.7 257.9 327.9 291.7 328.1 259.5 328.3 291.8 328.5 257.8 328.7 291.8 328.9 258.5 329.1 291.8 329.3 259.4 329.5 291.9 329.7 258.7 329.9 291.9 330.1 259 330.3 292.1 330.5 258.7 330.7 292 330.9 258.8 331.1 291.9 331.3 258.7 331.5 292 331.7 258.7 331.9 292.2 332.1 259.8 332.3 292 332.5 258.7 332.7 292.1 332.9 259 333.2 292.1 333.4 258.8 333.6 292.5 333.8 260.4 334 292 334.2 259.3 334.4 291.7 334.6 259 334.8 291.9 335 258.8 335.2 292.1 335.4 258.5 335.6 291.9 335.8 260.4 336 292.3 336.2 259.3 336.4 292.1 336.6 258 336.8 291.9 337 259.5 337.2 292.1 337.4 258.3 337.6 291.8 337.8 259.1 338 292 338.2 258.9 338.2 290.7 338.4 291.5 338.6 290.4 338.8 292 339 290.5 339.2 291.7 339.4 290.3 339.6 291.9 339.9 289.9 340.1 291.9 340.3 290.3 340.5 291.3 340.7 290.2 340.9 292 341.1 290.1 341.3 292 341.5 290.1 341.7 291.7 341.9 289.8 342.1 291.4 342.3 290.5 342.6 291.7 342.8 290.6 343 291.8 343.2 290.3 343.4 292.2 343.6 290.1 343.8 291.5 344 290.4"/>
</g>
<g clip-path="url(#c13)" fill="none" stroke-width="1.20" stroke-linejoin="round" stroke-linecap="butt">
<path stroke="#D95319" d="M360.7 209.4L360.9 216.8 361.1 209.1 361.3 217.7 361.5 208.5 361.7 216.8 361.9 209 362.1 217 362.3 209.9 362.6 216.8 362.8 209.9 363 216.6 363.2 209.1 363.4 217.4 363.6 209.8 363.8 218.7 364 209.3 364.2 217.5 364.4 209.1 364.6 217.5 364.8 209.6 365 217.6 365.2 209.1 365.4 216.6 365.6 209.4 365.8 217.4 366 208.5 366.2 217.2 366.5 209.7 366.7 217.6 366.9 208.3 367.1 217 367.3 210.1 367.5 216.8 367.7 208.7 367.9 216.9 368.1 209.4 368.3 217.6 368.5 209.7 368.7 217.1 368.9 209.2 369.1 216.6 369.3 209.3 369.5 216.8 369.7 209.4 370 217.1 370.2 210 370.4 217.3 370.6 209.8 370.8 216.7 371 209.7 371.2 217.9 371.4 208.9 371.6 217.6 371.8 208.2 371.8 257.2 372 262.8 372.1 258.6 372.3 262 372.5 257.6 372.6 262.3 372.8 257.2 373 261.6 373.1 256.8 373.3 261.7 373.5 254.5 373.6 262.6 373.8 256.4 374 262 374.1 256.6 374.3 261.1 374.5 257.8 374.6 262.1 374.8 255.9 375 261.9 375.1 255.9 375.3 261.7 375.5 257.4 375.6 262.6 375.8 256.4 376 262.1 376.2 256 376.3 261.8 376.5 255.9 376.7 262.1 376.8 255.8 377 261.8 377.2 255.4 377.3 261.1 377.5 256.1 377.7 261.6 377.8 256.7 378 261.9 378.2 255.4 378.3 261.1 378.5 255.6 378.7 261.3 378.8 254 379 260.3 379.2 256.2 379.3 261 379.5 254.9 379.7 261.5 379.8 256 380 261.7 380.2 253.2 380.3 260.8 380.5 256 380.7 259.6 380.8 255.6 381 261.6 381.2 254.8 381.3 260.9 381.5 254.8 381.7 261.3 381.8 254.6 382 260.2 382.2 255.6 382.3 260.6 382.5 254.5 382.7 260.5 382.8 252.8 383 260.8 383.2 255.2 383.3 260.2 383.5 255 383.7 260.3 383.8 254.6 384 260 384.2 253.4 384.4 260.5 384.5 253.5 384.7 260.8 384.9 255.4 385 260.5 385.2 254.6 385.4 259.7 385.5 254.1 385.7 260.3 385.9 255 386 260.3 386.2 255 386.4 259.5 386.5 252 386.7 261.2 386.9 254.2 387 260.4 387.2 252.7 387.4 260 387.5 252.6 387.7 260.7 387.9 253.8 388 259 388.2 253.2 388.4 260 388.5 253.9 388.7 259.3 388.9 253.9 389 259 389.2 252 389.4 259.4 389.5 252.3 389.7 260 389.9 254 390 259.4 390.2 252.4 390.4 259.6 390.5 253.7 390.7 259.5 390.9 253.6 391 259.5 391.2 253.5 391.4 258.6 391.5 252.7 391.7 258.3 391.9 252 392 258.6 392.2 253.4 392.4 259.3 392.5 251.6 392.7 258.2 392.9 252 393.1 259.4 393.2 253 393.4 258.8 393.6 252.3 393.7 258.9 393.9 253.9 394.1 258.1 394.2 252.3 394.4 258.7 394.6 252.7 394.7 259.1 394.9 253.3 395.1 258.4 395.2 251.6 395.4 258.5 395.6 252.4 395.7 258.1 395.9 252.5 396.1 258.4 396.2 252 396.4 258.7 396.6 252.8 396.7 259 396.9 252.5 397.1 258.1 397.2 251.6 397.4 258.8 397.6 250.6 397.7 259 397.9 250.9 398.1 258.1 398.2 251.6 398.4 258.9 398.6 251.2 398.7 258 398.9 251.5 399.1 259.1 399.2 251.3 399.4 258.4 399.6 252.1 399.7 258 399.9 251.3 400.1 258 400.2 250.2 400.4 257.8 400.6 250.2 400.7 258.5 400.9 251.1 401.1 257.8 401.3 250.3 401.4 257.6 401.6 251.1 401.8 258.4 401.9 250.4 402.1 257.4 402.3 251.8 402.4 258 402.6 249.8 402.8 257.8 402.9 250.5 403.1 258.6 403.3 252.3 403.4 258.6 403.6 251 403.8 258.1 403.9 249.1 404.1 258.4 404.3 250 404.4 257.5 404.6 250.3 404.8 258.1 404.9 249.2 405.1 257.5 405.3 249.9 405.4 257.7 405.6 250.1 405.8 258 405.9 250.2 406.1 257.6 406.3 249.5 406.4 259 406.6 250.6 406.8 257.4 406.9 249.2 407.1 258.2 407.3 248.5 407.4 257.4 407.6 247.5 407.8 258.8 407.9 250.2 408.1 257.7 408.3 248.6 408.4 257.3 408.6 249.3 408.8 257.6 408.9 249 409.1 259.1 409.3 248.1 409.5 258 409.6 249 409.8 257.2 410 247.7 410.1 257.1 410.3 249.5 410.5 257.9 410.6 248.2 410.8 258.1 411 249.8 411.1 257.3 411.3 249.4 411.5 257.4 411.6 246.3 411.8 258.6 412 248.3 412.1 257.9 412.3 247.4 412.5 256.7 412.6 249.2 412.8 257.9 413 248.1 413.1 257.9 413.3 247.3 413.5 257.7 413.6 246.4 413.8 257 414 247.5 414.1 257.5 414.3 247 414.5 258.5 414.6 247.9 414.8 257.9 415 247.7 415.1 257.4 415.3 247.5 415.5 256.4 415.6 246.7 415.8 258.4 416 247.6 416.1 257.2 416.3 246.9 416.5 257.8 416.6 247 416.8 258.7 417 248 417.1 256.4 417.3 245.9 417.5 258.2 417.6 245.4 417.8 258.9 418 246.1 418.2 257.5 418.3 246.8 418.5 258.1 418.7 247.6 418.8 257.9 419 245.6 419.2 257.3 419.3 245.2 419.5 257.2 419.7 244.5 419.8 256.7 420 244.8 420.2 258.6 420.3 244.9 420.5 258.3 420.7 244.2 420.8 257.7 421 243.6 421.2 257.2 421.3 242.5 421.5 258.5 421.7 243.7 421.8 257.2 422 244.3 422.2 256.9 422.3 243.4 422.5 257.5 422.7 243.2 422.8 256.5 423 242.7 423.2 258.6 423.3 242.6 423.5 257.5 423.7 242.7 423.8 257.8 424 240.4 424.2 256.9 424.3 242.1 424.5 258.2 424.7 237.7 424.8 257.9 425 239.3 425.2 258.6 425.3 238.3 425.5 258.6 425.7 238.5 425.8 258 426 238.7 426.2 257 426.4 237.9 426.5 257.3 426.7 236.3 426.9 258 427 235.6 427.2 257.9 427.4 233.5 427.5 257.7 427.7 233.1 427.9 258.2 428 231.7 428.2 257.7 428.4 230.4 428.5 258.4 428.7 227.7 428.9 257.9 429 226.6 429.2 258.6 429.4 224.6 429.5 257.8 429.7 223.1 429.9 258.9 430 221.3 430.2 257.4 430.2 213.3 430.4 217.3 430.6 212.4 430.8 219 431 213.1 431.2 219.7 431.4 212.2 431.6 218.9 431.8 212.9 432 219 432.2 212.5 432.4 217.9 432.6 212.1 432.8 218 433 211.6 433.2 217.9 433.4 211.9 433.6 216.7 433.9 212.2 434.1 217.1 434.3 212.2 434.5 217.7 434.7 211.9 434.9 218.1 435.1 211 435.3 218.6 435.5 212.2 435.7 217.1 435.9 210.8 436.1 217.3 436.3 211.5 436.5 217.6 436.7 211 436.9 216.7 437.1 211.3 437.3 217.1 437.5 210 437.7 217.1 437.9 210.7 438.1 216.8 438.3 210.1 438.5 218 438.7 210.4 438.9 215.6 439.1 210.2 439.3 216.1 439.5 210.1 439.7 217 439.9 209.2 440.1 216.4 440.3 209.7 440.5 216.3 440.7 210 440.9 216.5 441.2 209.3 441.4 215.2 441.6 208.9 441.8 216.5 442 209.2 442.2 216.6 442.4 209.4 442.6 215.7 442.8 209.2 443 215.4 443.2 208.5 443.4 214.7 443.6 208.9 443.8 214.8 444 208.8 444.2 216.2 444.4 208.1 444.6 215.1"/>
<path stroke="#0072BD" d="M360.7 289.7L360.9 291.4 361.1 289.7 361.3 291.6 361.5 289.1 361.7 291.6 361.9 289.2 362.1 290.9 362.3 289.6 362.6 291.7 362.8 289.4 363 291.5 363.2 289.5 363.4 291.1 363.6 289.6 363.8 291.3 364 289.1 364.2 291.7 364.4 289.6 364.6 291.4 364.8 289.6 365 291.4 365.2 289.7 365.4 291.7 365.6 289.6 365.8 291.5 366 289.6 366.2 291.7 366.5 289.3 366.7 291.2 366.9 289.3 367.1 291.5 367.3 290 367.5 291.4 367.7 290.1 367.9 291.4 368.1 289.5 368.3 291.9 368.5 289.9 368.7 291.1 368.9 289.7 369.1 291.4 369.3 289.9 369.5 291 369.7 289.2 370 291.2 370.2 289.6 370.4 291 370.6 290.1 370.8 291.5 371 289.6 371.2 291.3 371.4 289.5 371.6 291.4 371.8 290.3 371.8 271.9 372 276.8 372.1 272.2 372.3 277.2 372.5 272.5 372.6 277.1 372.8 272.8 373 277.1 373.1 272.7 373.3 277.3 373.5 272.6 373.6 277.4 373.8 273 374 277 374.1 272.7 374.3 277.4 374.5 273.4 374.6 277.8 374.8 272.8 375 277 375.1 272.8 375.3 277.8 375.5 272.2 375.6 277.5 375.8 272.4 376 277.6 376.2 272.6 376.3 278 376.5 272.6 376.7 278 376.8 272.3 377 277.7 377.2 273.1 377.3 278.1 377.5 272.8 377.7 277.8 377.8 272.9 378 278 378.2 273.3 378.3 277.7 378.5 272.4 378.7 278 378.8 273.2 379 278 379.2 273.2 379.3 277.7 379.5 272.2 379.7 278 379.8 273.1 380 278.2 380.2 273.3 380.3 278.4 380.5 272.9 380.7 278.6 380.8 273.8 381 278.3 381.2 273.5 381.3 278.4 381.5 273.8 381.7 278.5 381.8 273.4 382 278.5 382.2 274.1 382.3 278.3 382.5 273.4 382.7 278.5 382.8 274.5 383 278.5 383.2 273.5 383.3 278.4 383.5 274 383.7 278.4 383.8 273.3 384 278.3 384.2 274.4 384.4 278.9 384.5 273.9 384.7 278.6 384.9 274.4 385 278.5 385.2 273.8 385.4 278.8 385.5 273.4 385.7 278.7 385.9 273.2 386 278.8 386.2 274 386.4 279.3 386.5 274.3 386.7 279.2 386.9 273.2 387 278.5 387.2 273.7 387.4 279.3 387.5 274.1 387.7 279.1 387.9 274.7 388 279.1 388.2 275.2 388.4 279 388.5 274.4 388.7 278.9 388.9 273.9 389 279.1 389.2 274.3 389.4 279.1 389.5 275.1 389.7 279.4 389.9 273.7 390 279.5 390.2 274.7 390.4 279.3 390.5 274.9 390.7 279.5 390.9 274.6 391 279 391.2 274.4 391.4 279.5 391.5 274.1 391.7 279.7 391.9 274.9 392 279.5 392.2 274.6 392.4 279.4 392.5 274.6 392.7 279.7 392.9 273.7 393.1 279.1 393.2 274.8 393.4 279.7 393.6 274.4 393.7 279.9 393.9 275.2 394.1 279.8 394.2 274.5 394.4 279.8 394.6 274.2 394.7 279.9 394.9 274.5 395.1 279.8 395.2 275 395.4 280 395.6 274.8 395.7 279.9 395.9 275.1 396.1 280.1 396.2 275.4 396.4 279.6 396.6 274.7 396.7 280.1 396.9 274.4 397.1 280.3 397.2 275.2 397.4 280.3 397.6 275.4 397.7 280.4 397.9 274.8 398.1 280.3 398.2 275.7 398.4 280.4 398.6 275 398.7 280.1 398.9 275.4 399.1 280.5 399.2 275.3 399.4 280.5 399.6 274.3 399.7 280.5 399.9 274.5 400.1 280.4 400.2 275.8 400.4 280.7 400.6 275.8 400.7 280.8 400.9 275.2 401.1 280.9 401.3 275.9 401.4 280.5 401.6 275.4 401.8 280.8 401.9 275.6 402.1 280.8 402.3 275.3 402.4 280.8 402.6 276 402.8 280.9 402.9 276 403.1 281.1 403.3 275.4 403.4 281.2 403.6 275.4 403.8 280.9 403.9 276.3 404.1 280.8 404.3 276.7 404.4 280.9 404.6 275.9 404.8 280.9 404.9 276 405.1 280.7 405.3 276.5 405.4 281.1 405.6 276.2 405.8 281.1 405.9 275.3 406.1 281.6 406.3 275.3 406.4 281.5 406.6 275 406.8 281.2 406.9 276.3 407.1 281.7 407.3 275.9 407.4 281.6 407.6 276.4 407.8 282.1 407.9 275.4 408.1 281.4 408.3 276.8 408.4 281.5 408.6 275.9 408.8 281.5 408.9 276 409.1 281.9 409.3 275.4 409.5 281.9 409.6 275.3 409.8 281.9 410 275.1 410.1 281.3 410.3 276.4 410.5 282.1 410.6 275.2 410.8 282.3 411 274.8 411.1 282.2 411.3 275.2 411.5 282.1 411.6 275.5 411.8 282.4 412 275.9 412.1 282.5 412.3 275.3 412.5 282.1 412.6 275.7 412.8 282.3 413 275.8 413.1 282.7 413.3 275.9 413.5 282.4 413.6 276.1 413.8 282.8 414 275 414.1 282.8 414.3 275.5 414.5 282.8 414.6 276 414.8 282.4 415 275.3 415.1 282.7 415.3 275.4 415.5 282.9 415.6 275.2 415.8 283.1 416 276 416.1 283.5 416.3 275.1 416.5 283.6 416.6 274.8 416.8 283.6 417 274.2 417.1 283.7 417.3 275 417.5 283.8 417.6 274.2 417.8 284 418 274 418.2 284 418.3 273.4 418.5 284.5 418.7 272.6 418.8 284 419 274 419.2 284.4 419.3 272.8 419.5 284.6 419.7 272.5 419.8 284.9 420 273 420.2 285.1 420.3 272.9 420.5 285.2 420.7 271.9 420.8 284.9 421 272.5 421.2 285.1 421.3 272.6 421.5 285.1 421.7 272.3 421.8 285.6 422 271.5 422.2 285.6 422.3 271.9 422.5 285.9 422.7 269.7 422.8 286.4 423 270.1 423.2 286.4 423.3 270.1 423.5 286.5 423.7 269.1 423.8 287.4 424 268.9 424.2 287.3 424.3 267.4 424.5 287.3 424.7 267.7 424.8 287.7 425 266.7 425.2 287.8 425.3 266 425.5 288.2 425.7 266.5 425.8 288.4 426 265 426.2 288.7 426.4 265.4 426.5 289.1 426.7 264.3 426.9 290.2 427 263.3 427.2 290.1 427.4 262.1 427.5 290.4 427.7 261.9 427.9 291.1 428 260.7 428.2 291.1 428.4 259.8 428.5 291.7 428.7 259.4 428.9 291.5 429 258.6 429.2 291.7 429.4 259.2 429.5 292.3 429.7 258.6 429.9 292.3 430 257.9 430.2 292.7 430.2 289.9 430.4 291.6 430.6 289.4 430.8 291.5 431 290.1 431.2 291.6 431.4 289.9 431.6 291.3 431.8 289.9 432 290.7 432.2 289.8 432.4 291.2 432.6 289.6 432.8 291.4 433 289.4 433.2 290.9 433.4 289.2 433.6 291.6 433.9 289.2 434.1 291.9 434.3 290.1 434.5 291.4 434.7 289.1 434.9 291.7 435.1 289.5 435.3 291.6 435.5 289.7 435.7 291.1 435.9 289.4 436.1 291.5 436.3 289.6 436.5 291.3 436.7 289.5 436.9 291.6 437.1 289.6 437.3 291.2 437.5 289.4 437.7 291.2 437.9 289.3 438.1 291.4 438.3 289.6 438.5 291.6 438.7 289.6 438.9 291.6 439.1 289.4 439.3 291.4 439.5 289.8 439.7 291 439.9 289.7 440.1 290.9 440.3 289.9 440.5 291.7 440.7 290.1 440.9 291.7 441.2 290 441.4 291.2 441.6 289.9 441.8 292 442 289.8 442.2 291.7 442.4 289.8 442.6 291.7 442.8 289.4 443 291.2 443.2 290 443.4 291.3 443.6 289.6 443.8 291.1 444 289.4 444.2 291.2 444.4 289.5 444.6 291.3"/>
</g>
<g clip-path="url(#c14)" fill="none" stroke-width="1.20" stroke-linejoin="round" stroke-linecap="butt">
<path stroke="#D95319" d="M461.6 189.1L461.8 198 462 189.3 462.2 198.5 462.4 188.8 462.6 197 462.8 188.4 463 198.3 463.2 189.3 463.4 198.9 463.6 189.7 463.8 197.1 464 189.4 464.2 198.1 464.4 188.7 464.6 197.6 464.8 188.2 465 198.1 465.2 189 465.4 197.8 465.6 188.7 465.8 197.7 466 188.8 466.2 198.8 466.4 188.3 466.6 198 466.8 188.1 467 197.9 467.2 188.8 467.4 197.7 467.6 188.8 467.8 198 468 189.6 468.2 196.8 468.5 188.2 468.7 197.6 468.9 188.7 469.1 197.6 469.3 188.2 469.5 197.3 469.7 187.8 469.9 197 470.1 188.4 470.3 196.4 470.5 189.5 470.7 197 470.9 188.7 471.1 198.1 471.3 187.9 471.5 197.4 471.7 187.9 471.9 197 472.1 187.3 472.3 197 472.5 188.9 472.7 196.9 472.9 187.4 473.1 197.8 473.3 187.9 473.5 195 473.7 187.2 473.9 196.9 474.1 187.1 474.3 197.3 474.5 186.8 474.7 196.2 474.9 187.4 475.1 197.1 475.3 187.8 475.5 196.8 475.7 187.3 475.9 196.4 476.1 188.4 476.3 196.3 476.5 187.9 476.7 195.9 476.9 188.3 477.1 196.3 477.3 187.5 477.5 196 477.7 186.6 477.9 196.5 478.1 187.3 478.3 196.4 478.5 187.8 478.7 196.2 478.9 187.4 479.1 196.5 479.3 186.7 479.5 195.6 479.7 187.9 479.9 196.2 480.1 187.6 480.3 195.9 480.5 187.6 480.7 196.5 480.9 187.9 481.1 194.9 481.3 187.5 481.5 196.7 481.7 186.5 481.9 196.7 482.2 187 482.4 196.7 482.6 186.9 482.8 196.1 483 188 483.2 195.3 483.4 187 483.6 195.5 483.8 187.4 484 196.7 484.2 187.6 484.4 194.8 484.6 187.1 484.8 195.4 485 187.8 485.2 194.8 485.4 186.7 485.6 194.4 485.8 188 486 194.8 486.2 186.9 486.4 195.8 486.6 186.3 486.8 194.3 487 186.4 487.2 196.3 487.4 188.2 487.6 195.1 487.8 187.2 488 195.4 488.2 186.8 488.4 194.4 488.6 187.3 488.8 195.4 489 186.9 489.2 194.6 489.4 187 489.6 195.1 489.8 186.9 490 194.2 490.2 187.1 490.4 194.2 490.6 186.1 490.8 195.3 491 187.2 491.2 194.4 491.4 186 491.6 193.9 491.8 186.3 492 194.5 492.2 187.2 492.4 195 492.6 185.7 492.8 194.2 493 186.6 493.2 195.2 493.4 186.6 493.6 194.9 493.8 186.2 494 193.7 494.2 186.2 494.4 194.8 494.6 186.6 494.8 194.3 495 186.9 495.2 195.1 495.4 185.1 495.6 194.5 495.9 186.6 496.1 194.5 496.3 185.6 496.5 193.7 496.7 186.9 496.9 194 497.1 185.6 497.3 194 497.5 185.7 497.7 194 497.9 185.6 498.1 193.2 498.3 185.7 498.5 192.7 498.7 187.1 498.9 194.3 499.1 185.9 499.3 193 499.5 186.6 499.7 193.3 499.9 186.4 500.1 193.8 500.3 185.4 500.5 193.3 500.7 185.5 500.9 193 501.1 185.1 501.3 194.4 501.5 185.9 501.7 192.8 501.9 185.9 502.1 193.9 502.3 185.2 502.5 193.5 502.4 183.8 502.5 247.3 502.6 247.3 502.5 245.2 502.7 251.6 502.9 247.6 503.1 251.1 503.3 246.4 503.5 249.9 503.7 246.7 503.9 250.2 504.1 245.7 504.3 250.6 504.5 244.2 504.7 250.5 504.9 244.2 505.1 250.2 505.3 244.1 505.5 250.4 505.7 245.7 505.9 250.2 506.1 244.1 506.3 250.4 506.5 243.6 506.7 248.3 506.9 244 507.1 248.1 507.3 242.4 507.5 248.4 507.7 242.4 508 247.5 508.2 241.1 508.4 248.6 508.6 243 508.8 249.1 509 241.4 509.2 248.2 509.4 241.6 509.6 248.6 509.8 241.3 510 248.8 510.2 241.3 510.4 247.1 510.6 241.3 510.8 247.8 511 241.3 511.2 247 511.4 240 511.6 246.5 511.8 240.3 512 247.8 512.2 238.6 512.4 247.6 512.6 238.8 512.8 247 513 239.8 513.2 246.9 513.4 241.1 513.6 247.4 513.8 239 514 246 514.2 238.3 514.4 246.9 514.6 238.8 514.8 245.9 515 238.6 515.2 245.6 515.4 237.9 515.6 245.9 515.8 238.5 516 244.4 516.2 238.5 516.4 245.4 516.6 237.9 516.8 245.9 517 237.5 517.2 246.7 517.4 236 517.6 245.6 517.8 237 518 244.9 518.2 238.8 518.4 245.2 518.7 237.5 518.9 244.3 519.1 237.4 519.3 244.4 519.5 236.7 519.7 245.1 519.9 234.9 520.1 245.2 520.3 236.9 520.5 244.8 520.7 235.5 520.9 244.9 521.1 234.8 521.3 244.3 521.5 236.7 521.7 244.9 521.9 235.2 522.1 243.3 522.3 234.2 522.5 243.3 522.7 234.4 522.9 243.9 523.1 233.8 523.3 243.3 523.5 234.6 523.7 243.1 523.9 233.3 524.1 243.4 524.3 232.8 524.5 242.8 524.7 232.7 524.9 243 525.1 233.6 525.3 242.6 525.5 234.2 525.7 243.3 525.9 233.5 526.1 241.6 526.3 231.9 526.5 242 526.7 232.4 526.9 241.8 527.1 232.1 527.3 241.9 527.5 231 527.7 240.4 527.9 231.3 528.1 241.5 528.3 231.4 528.5 241.9 528.7 230.5 528.9 240.9 529.1 230.9 529.4 241.1 529.6 231.3 529.8 240.3 530 229.1 530.2 240.2 530.4 229.7 530.6 240.7 530.8 229.5 531 240.1 531.2 228.8 531.4 240.2 531.6 229.6 531.8 240.3 532 227.9 532.2 239.6 532.4 227.8 532.6 239.4 532.8 228.7 533 239.6 533.2 226.4 533.4 238.6 533.6 227.3 533.8 239.9 534 225.8 534.2 238.6 534.4 225.4 534.6 237.9 534.6 169.4 534.6 196.3 534.7 192.7 534.9 201.8 535.1 193.1 535.3 202.1 535.5 192.9 535.7 203.4 535.9 192.6 536.1 202.1 536.3 193.5 536.6 200.8 536.8 191.9 537 201.2 537.2 192.2 537.4 201 537.6 192 537.8 201.9 538 191.8 538.2 201.1 538.4 191.5 538.6 202.2 538.8 192.1 539 201.9 539.2 192.1 539.4 200.4 539.6 191.7 539.8 200.5 540 190.7 540.3 201 540.5 190.8 540.7 199.4 540.9 190.6 541.1 201.1 541.3 191.4 541.5 201 541.7 190.9 541.9 199.6 542.1 190.4 542.3 200.1 542.5 191.1 542.7 200 542.9 189.3 543.1 200.4 543.3 189.6 543.5 199.8 543.7 190.5 544 198.7 544.2 190.2 544.4 199.9 544.6 190.1 544.8 200.1 545 190.4 545.2 199.3 545.4 190.3 545.6 199.6"/>
<path stroke="#0072BD" d="M461.6 289.5L461.8 291.2 462 289.8 462.2 291.4 462.4 289.4 462.6 291.6 462.8 289.1 463 291.8 463.2 289.7 463.4 291.6 463.6 289.7 463.8 292.3 464 289 464.2 291.7 464.4 289.7 464.6 291.2 464.8 289.6 465 291.9 465.2 289.7 465.4 291.3 465.6 289.2 465.8 291.8 466 289.3 466.2 291.7 466.4 290.5 466.6 291.3 466.8 289.6 467 291.3 467.2 289.2 467.4 291.6 467.6 289.9 467.8 291.7 468 289.2 468.2 291.4 468.5 290.1 468.7 291.1 468.9 289.6 469.1 291.6 469.3 289.8 469.5 292 469.7 289.5 469.9 291.6 470.1 289.9 470.3 291.6 470.5 289.6 470.7 291.7 470.9 289.8 471.1 291.6 471.3 289.9 471.5 291.8 471.7 289.6 471.9 291.5 472.1 290.1 472.3 292.1 472.5 289.8 472.7 291.4 472.9 289.7 473.1 291.3 473.3 289.7 473.5 291.5 473.7 289.4 473.9 291.4 474.1 289.5 474.3 291.4 474.5 289.8 474.7 291.3 474.9 289.4 475.1 291.6 475.3 289 475.5 291.6 475.7 289.9 475.9 291.5 476.1 289.7 476.3 291.8 476.5 289.3 476.7 291.2 476.9 289.5 477.1 291.8 477.3 289.6 477.5 291.8 477.7 290 477.9 291.3 478.1 289.5 478.3 291.1 478.5 289.8 478.7 291.8 478.9 289.7 479.1 291.4 479.3 288.9 479.5 291.6 479.7 289.9 479.9 291.2 480.1 290.1 480.3 291.4 480.5 289.8 480.7 291.8 480.9 289.6 481.1 291.7 481.3 289.6 481.5 291.4 481.7 289.5 481.9 291.4 482.2 289.7 482.4 291.5 482.6 289.7 482.8 291.5 483 289.7 483.2 291.6 483.4 290 483.6 291.2 483.8 290 484 291.6 484.2 289.4 484.4 291.4 484.6 289.5 484.8 291.4 485 289.5 485.2 291.2 485.4 289.4 485.6 291.3 485.8 289.9 486 291.3 486.2 289.2 486.4 291.9 486.6 289.9 486.8 291.6 487 289.5 487.2 291.7 487.4 290.2 487.6 291.2 487.8 290.1 488 291.5 488.2 289.4 488.4 291.7 488.6 289.4 488.8 291.3 489 289.8 489.2 291.6 489.4 289.5 489.6 291.5 489.8 289.4 490 291.7 490.2 289.3 490.4 291.3 490.6 289.3 490.8 291.6 491 289.2 491.2 291.6 491.4 289.5 491.6 291.9 491.8 289.1 492 291.2 492.2 290 492.4 291.6 492.6 289.3 492.8 291.3 493 289.4 493.2 291.3 493.4 289.8 493.6 291.4 493.8 289.2 494 291.2 494.2 289.5 494.4 291.8 494.6 289.8 494.8 291.8 495 289.7 495.2 291.4 495.4 289.5 495.6 291.6 495.9 289.8 496.1 291.6 496.3 289.5 496.5 291.7 496.7 289.5 496.9 291.8 497.1 289.7 497.3 291.4 497.5 289.6 497.7 291.3 497.9 289.9 498.1 291.8 498.3 289.9 498.5 291.7 498.7 289.7 498.9 291.5 499.1 289.6 499.3 291.6 499.5 289.8 499.7 291.4 499.9 289.4 500.1 292.2 500.3 289.5 500.5 292.2 500.7 290 500.9 291.7 501.1 289.7 501.3 291.6 501.5 289.8 501.7 291.8 501.9 289.4 502.1 291.3 502.3 289.6 502.5 291.4 502.5 252.1 502.6 266.5 502.5 264.9 502.7 274.3 502.9 266.1 503.1 274.7 503.3 268.8 503.5 274.6 503.7 269.1 503.9 274.7 504.1 269.1 504.3 274.8 504.5 270.2 504.7 275.3 504.9 269.8 505.1 275.4 505.3 269.9 505.5 275.5 505.7 270.2 505.9 275.6 506.1 269.4 506.3 275.9 506.5 270.5 506.7 276.2 506.9 271.4 507.1 275.7 507.3 271 507.5 276.4 507.7 271.8 508 276.2 508.2 271.2 508.4 276.7 508.6 272 508.8 276.9 509 271.2 509.2 277.1 509.4 271.4 509.6 277.1 509.8 271.7 510 277.2 510.2 272.3 510.4 277.4 510.6 272.9 510.8 277.1 511 272.4 511.2 277.8 511.4 272 511.6 277.8 511.8 272.4 512 278.2 512.2 272.9 512.4 278.2 512.6 273.9 512.8 278.4 513 273.3 513.2 278.3 513.4 272.8 513.6 278.5 513.8 273.8 514 278.5 514.2 272.8 514.4 279.1 514.6 272.3 514.8 278.8 515 274.2 515.2 279 515.4 274.3 515.6 279 515.8 273.7 516 279.2 516.2 274 516.4 278.9 516.6 273.8 516.8 279.5 517 274.6 517.2 279.4 517.4 274.6 517.6 280 517.8 274.4 518 280 518.2 274.6 518.4 280.1 518.7 274.5 518.9 280.1 519.1 275.3 519.3 280.3 519.5 274.3 519.7 280.3 519.9 275.9 520.1 280.3 520.3 275.3 520.5 280.6 520.7 276.3 520.9 280.7 521.1 276.1 521.3 280.6 521.5 275.6 521.7 281 521.9 276.4 522.1 280.8 522.3 275.6 522.5 281.3 522.7 275.6 522.9 281.1 523.1 275.9 523.3 280.9 523.5 276.6 523.7 281.4 523.9 276.3 524.1 281.5 524.3 277.1 524.5 281.9 524.7 276.8 524.9 281.9 525.1 276.5 525.3 281.6 525.5 276.4 525.7 282.1 525.9 277.6 526.1 282.5 526.3 277.5 526.5 282.6 526.7 277.3 526.9 282.8 527.1 277 527.3 282.5 527.5 277.4 527.7 283 527.9 277.8 528.1 283 528.3 278.1 528.5 282.8 528.7 277.3 528.9 283.3 529.1 277.9 529.4 283.2 529.6 277.4 529.8 283.4 530 278.6 530.2 283.6 530.4 278.1 530.6 283.6 530.8 277.8 531 283.6 531.2 278.8 531.4 283.5 531.6 277.6 531.8 283.5 532 278.9 532.2 283.6 532.4 279.3 532.6 283.5 532.8 279.1 533 283.6 533.2 278.7 533.4 283.8 533.6 279.4 533.8 284.1 534 279.5 534.2 284.1 534.4 279.5 534.6 284.4 534.6 266.5 534.6 290.6 534.7 289.5 534.9 291.3 535.1 289.8 535.3 291.5 535.5 289.6 535.7 291.2 535.9 289.4 536.1 291.6 536.3 289.7 536.6 291.4 536.8 289.6 537 291.4 537.2 289.2 537.4 291.3 537.6 289.5 537.8 291.3 538 289.5 538.2 291.6 538.4 289.2 538.6 291 538.8 289.5 539 291.9 539.2 289.7 539.4 292.4 539.6 290 539.8 291.9 540 289.3 540.3 292.1 540.5 289.1 540.7 291.2 540.9 289.8 541.1 291.7 541.3 289.8 541.5 291.4 541.7 289.8 541.9 291.4 542.1 289.8 542.3 291.5 542.5 289.4 542.7 291.8 542.9 289.7 543.1 291.5 543.3 289.4 543.5 292.2 543.7 289.9 544 291.6 544.2 289.6 544.4 291.7 544.6 289.5 544.8 291.4 545 289.6 545.2 291.4 545.4 290.1 545.6 291.9"/>
</g>
<g fill="none" stroke="#787878" stroke-width="1">
<rect x="58.50" y="17.50" width="84.00" height="125.00"/>
<rect x="159.50" y="17.50" width="84.00" height="125.00"/>
<rect x="259.80" y="17.50" width="84.10" height="125.00"/>
<rect x="360.70" y="17.50" width="83.80" height="125.00"/>
<rect x="461.60" y="17.50" width="83.80" height="125.00"/>
<rect x="58.50" y="167.50" width="84.00" height="125.00"/>
<rect x="159.50" y="167.50" width="84.00" height="125.00"/>
<rect x="259.80" y="167.50" width="84.10" height="125.00"/>
<rect x="360.70" y="167.50" width="83.80" height="125.00"/>
<rect x="461.60" y="167.50" width="83.80" height="125.00"/>
</g>
<g stroke="#808080" stroke-width="0.8">
<line x1="56.20" y1="142.50" x2="58.50" y2="142.50"/>
<line x1="56.20" y1="118.46" x2="58.50" y2="118.46"/>
<line x1="56.20" y1="94.42" x2="58.50" y2="94.42"/>
<line x1="56.20" y1="70.38" x2="58.50" y2="70.38"/>
<line x1="56.20" y1="46.35" x2="58.50" y2="46.35"/>
<line x1="56.20" y1="22.31" x2="58.50" y2="22.31"/>
<line x1="58.50" y1="142.50" x2="58.50" y2="144.70"/>
<line x1="100.50" y1="142.50" x2="100.50" y2="144.70"/>
<line x1="142.50" y1="142.50" x2="142.50" y2="144.70"/>
<line x1="157.20" y1="142.50" x2="159.50" y2="142.50"/>
<line x1="157.20" y1="118.46" x2="159.50" y2="118.46"/>
<line x1="157.20" y1="94.42" x2="159.50" y2="94.42"/>
<line x1="157.20" y1="70.38" x2="159.50" y2="70.38"/>
<line x1="157.20" y1="46.35" x2="159.50" y2="46.35"/>
<line x1="157.20" y1="22.31" x2="159.50" y2="22.31"/>
<line x1="159.50" y1="142.50" x2="159.50" y2="144.70"/>
<line x1="201.50" y1="142.50" x2="201.50" y2="144.70"/>
<line x1="243.50" y1="142.50" x2="243.50" y2="144.70"/>
<line x1="257.50" y1="142.50" x2="259.80" y2="142.50"/>
<line x1="257.50" y1="118.46" x2="259.80" y2="118.46"/>
<line x1="257.50" y1="94.42" x2="259.80" y2="94.42"/>
<line x1="257.50" y1="70.38" x2="259.80" y2="70.38"/>
<line x1="257.50" y1="46.35" x2="259.80" y2="46.35"/>
<line x1="257.50" y1="22.31" x2="259.80" y2="22.31"/>
<line x1="259.80" y1="142.50" x2="259.80" y2="144.70"/>
<line x1="301.85" y1="142.50" x2="301.85" y2="144.70"/>
<line x1="343.90" y1="142.50" x2="343.90" y2="144.70"/>
<line x1="358.40" y1="142.50" x2="360.70" y2="142.50"/>
<line x1="358.40" y1="118.46" x2="360.70" y2="118.46"/>
<line x1="358.40" y1="94.42" x2="360.70" y2="94.42"/>
<line x1="358.40" y1="70.38" x2="360.70" y2="70.38"/>
<line x1="358.40" y1="46.35" x2="360.70" y2="46.35"/>
<line x1="358.40" y1="22.31" x2="360.70" y2="22.31"/>
<line x1="360.70" y1="142.50" x2="360.70" y2="144.70"/>
<line x1="402.60" y1="142.50" x2="402.60" y2="144.70"/>
<line x1="444.50" y1="142.50" x2="444.50" y2="144.70"/>
<line x1="459.30" y1="142.50" x2="461.60" y2="142.50"/>
<line x1="459.30" y1="118.46" x2="461.60" y2="118.46"/>
<line x1="459.30" y1="94.42" x2="461.60" y2="94.42"/>
<line x1="459.30" y1="70.38" x2="461.60" y2="70.38"/>
<line x1="459.30" y1="46.35" x2="461.60" y2="46.35"/>
<line x1="459.30" y1="22.31" x2="461.60" y2="22.31"/>
<line x1="461.60" y1="142.50" x2="461.60" y2="144.70"/>
<line x1="503.50" y1="142.50" x2="503.50" y2="144.70"/>
<line x1="545.40" y1="142.50" x2="545.40" y2="144.70"/>
<line x1="56.20" y1="292.50" x2="58.50" y2="292.50"/>
<line x1="56.20" y1="268.46" x2="58.50" y2="268.46"/>
<line x1="56.20" y1="244.42" x2="58.50" y2="244.42"/>
<line x1="56.20" y1="220.38" x2="58.50" y2="220.38"/>
<line x1="56.20" y1="196.35" x2="58.50" y2="196.35"/>
<line x1="56.20" y1="172.31" x2="58.50" y2="172.31"/>
<line x1="58.50" y1="292.50" x2="58.50" y2="294.70"/>
<line x1="100.50" y1="292.50" x2="100.50" y2="294.70"/>
<line x1="142.50" y1="292.50" x2="142.50" y2="294.70"/>
<line x1="157.20" y1="292.50" x2="159.50" y2="292.50"/>
<line x1="157.20" y1="268.46" x2="159.50" y2="268.46"/>
<line x1="157.20" y1="244.42" x2="159.50" y2="244.42"/>
<line x1="157.20" y1="220.38" x2="159.50" y2="220.38"/>
<line x1="157.20" y1="196.35" x2="159.50" y2="196.35"/>
<line x1="157.20" y1="172.31" x2="159.50" y2="172.31"/>
<line x1="159.50" y1="292.50" x2="159.50" y2="294.70"/>
<line x1="201.50" y1="292.50" x2="201.50" y2="294.70"/>
<line x1="243.50" y1="292.50" x2="243.50" y2="294.70"/>
<line x1="257.50" y1="292.50" x2="259.80" y2="292.50"/>
<line x1="257.50" y1="268.46" x2="259.80" y2="268.46"/>
<line x1="257.50" y1="244.42" x2="259.80" y2="244.42"/>
<line x1="257.50" y1="220.38" x2="259.80" y2="220.38"/>
<line x1="257.50" y1="196.35" x2="259.80" y2="196.35"/>
<line x1="257.50" y1="172.31" x2="259.80" y2="172.31"/>
<line x1="259.80" y1="292.50" x2="259.80" y2="294.70"/>
<line x1="301.85" y1="292.50" x2="301.85" y2="294.70"/>
<line x1="343.90" y1="292.50" x2="343.90" y2="294.70"/>
<line x1="358.40" y1="292.50" x2="360.70" y2="292.50"/>
<line x1="358.40" y1="268.46" x2="360.70" y2="268.46"/>
<line x1="358.40" y1="244.42" x2="360.70" y2="244.42"/>
<line x1="358.40" y1="220.38" x2="360.70" y2="220.38"/>
<line x1="358.40" y1="196.35" x2="360.70" y2="196.35"/>
<line x1="358.40" y1="172.31" x2="360.70" y2="172.31"/>
<line x1="360.70" y1="292.50" x2="360.70" y2="294.70"/>
<line x1="402.60" y1="292.50" x2="402.60" y2="294.70"/>
<line x1="444.50" y1="292.50" x2="444.50" y2="294.70"/>
<line x1="459.30" y1="292.50" x2="461.60" y2="292.50"/>
<line x1="459.30" y1="268.46" x2="461.60" y2="268.46"/>
<line x1="459.30" y1="244.42" x2="461.60" y2="244.42"/>
<line x1="459.30" y1="220.38" x2="461.60" y2="220.38"/>
<line x1="459.30" y1="196.35" x2="461.60" y2="196.35"/>
<line x1="459.30" y1="172.31" x2="461.60" y2="172.31"/>
<line x1="461.60" y1="292.50" x2="461.60" y2="294.70"/>
<line x1="503.50" y1="292.50" x2="503.50" y2="294.70"/>
<line x1="545.40" y1="292.50" x2="545.40" y2="294.70"/>
</g>
<g font-family="'Liberation Serif', serif" font-size="10" font-weight="400" fill="#111" stroke="#111" stroke-width="0.3">
<text x="58.35" y="152.70" textLength="6.10" lengthAdjust="spacingAndGlyphs">0</text>
<text x="94.45" y="152.70" textLength="12.40" lengthAdjust="spacingAndGlyphs">20</text>
<text x="130.45" y="152.70" textLength="12.00" lengthAdjust="spacingAndGlyphs">40</text>
<text x="159.05" y="152.70" textLength="5.90" lengthAdjust="spacingAndGlyphs">0</text>
<text x="192.35" y="152.70" textLength="18.00" lengthAdjust="spacingAndGlyphs">150</text>
<text x="225.15" y="152.70" textLength="17.60" lengthAdjust="spacingAndGlyphs">300</text>
<text x="259.35" y="152.70" textLength="16.00" lengthAdjust="spacingAndGlyphs">0.0</text>
<text x="294.55" y="152.70" textLength="15.30" lengthAdjust="spacingAndGlyphs">0.5</text>
<text x="328.85" y="152.70" textLength="15.60" lengthAdjust="spacingAndGlyphs">1.0</text>
<text x="360.55" y="152.70" textLength="6.60" lengthAdjust="spacingAndGlyphs">0</text>
<text x="399.75" y="152.70" textLength="6.10" lengthAdjust="spacingAndGlyphs">1</text>
<text x="438.35" y="152.70" textLength="6.60" lengthAdjust="spacingAndGlyphs">2</text>
<text x="461.45" y="152.70" textLength="15.60" lengthAdjust="spacingAndGlyphs">0.0</text>
<text x="495.65" y="152.70" textLength="15.90" lengthAdjust="spacingAndGlyphs">2.5</text>
<text x="530.55" y="152.70" textLength="15.10" lengthAdjust="spacingAndGlyphs">5.0</text>
<text x="34.30" y="146.00" textLength="19.60" lengthAdjust="spacingAndGlyphs">0.00</text>
<text x="34.30" y="121.96" textLength="19.60" lengthAdjust="spacingAndGlyphs">0.25</text>
<text x="34.30" y="97.92" textLength="19.60" lengthAdjust="spacingAndGlyphs">0.50</text>
<text x="34.30" y="73.88" textLength="19.60" lengthAdjust="spacingAndGlyphs">0.75</text>
<text x="34.30" y="49.85" textLength="19.60" lengthAdjust="spacingAndGlyphs">1.00</text>
<text x="34.30" y="25.81" textLength="19.60" lengthAdjust="spacingAndGlyphs">1.25</text>
<text x="58.25" y="302.60" textLength="6.20" lengthAdjust="spacingAndGlyphs">0</text>
<text x="97.75" y="302.60" textLength="5.80" lengthAdjust="spacingAndGlyphs">5</text>
<text x="130.45" y="302.60" textLength="11.80" lengthAdjust="spacingAndGlyphs">10</text>
<text x="159.05" y="302.60" textLength="5.90" lengthAdjust="spacingAndGlyphs">0</text>
<text x="195.05" y="302.60" textLength="12.10" lengthAdjust="spacingAndGlyphs">20</text>
<text x="230.85" y="302.60" textLength="12.30" lengthAdjust="spacingAndGlyphs">40</text>
<text x="259.55" y="302.60" textLength="15.90" lengthAdjust="spacingAndGlyphs">0.6</text>
<text x="294.05" y="302.60" textLength="15.40" lengthAdjust="spacingAndGlyphs">0.7</text>
<text x="328.05" y="302.60" textLength="16.00" lengthAdjust="spacingAndGlyphs">0.8</text>
<text x="360.45" y="302.60" textLength="21.30" lengthAdjust="spacingAndGlyphs">0.50</text>
<text x="392.25" y="302.60" textLength="20.90" lengthAdjust="spacingAndGlyphs">0.75</text>
<text x="424.05" y="302.60" textLength="20.90" lengthAdjust="spacingAndGlyphs">1.00</text>
<text x="461.35" y="302.60" textLength="21.50" lengthAdjust="spacingAndGlyphs">0.00</text>
<text x="492.85" y="302.60" textLength="21.20" lengthAdjust="spacingAndGlyphs">0.75</text>
<text x="525.05" y="302.60" textLength="20.90" lengthAdjust="spacingAndGlyphs">1.50</text>
<text x="34.30" y="296.00" textLength="19.60" lengthAdjust="spacingAndGlyphs">0.00</text>
<text x="34.30" y="271.96" textLength="19.60" lengthAdjust="spacingAndGlyphs">0.25</text>
<text x="34.30" y="247.92" textLength="19.60" lengthAdjust="spacingAndGlyphs">0.50</text>
<text x="34.30" y="223.88" textLength="19.60" lengthAdjust="spacingAndGlyphs">0.75</text>
<text x="34.30" y="199.85" textLength="19.60" lengthAdjust="spacingAndGlyphs">1.00</text>
<text x="34.30" y="175.81" textLength="19.60" lengthAdjust="spacingAndGlyphs">1.25</text>
</g>
<text x="75.40" y="14.7" font-family="'Liberation Sans', sans-serif" font-size="12" fill="#00f4f4" stroke="#00f4f4" stroke-width="0.22" textLength="49.00" lengthAdjust="spacingAndGlyphs"><tspan font-style="italic">K</tspan> = 0.55</text>
<text x="175.90" y="14.7" font-family="'Liberation Sans', sans-serif" font-size="12" fill="#ff00ff" stroke="#ff00ff" stroke-width="0.22" textLength="49.00" lengthAdjust="spacingAndGlyphs"><tspan font-style="italic">K</tspan> = 0.59</text>
<text x="276.50" y="14.7" font-family="'Liberation Sans', sans-serif" font-size="12" fill="#000000" stroke="#000000" stroke-width="0.22" textLength="48.40" lengthAdjust="spacingAndGlyphs"><tspan font-style="italic">K</tspan> = 0.61</text>
<text x="377.90" y="14.7" font-family="'Liberation Sans', sans-serif" font-size="12" fill="#ff0000" stroke="#ff0000" stroke-width="0.22" textLength="49.20" lengthAdjust="spacingAndGlyphs"><tspan font-style="italic">K</tspan> = 0.68</text>
<text x="478.30" y="14.7" font-family="'Liberation Sans', sans-serif" font-size="12" fill="#ff9a00" stroke="#ff9a00" stroke-width="0.22" textLength="49.40" lengthAdjust="spacingAndGlyphs"><tspan font-style="italic">K</tspan> = 0.99</text>
<text x="66.80" y="317.1" font-family="'Liberation Serif', serif" font-size="15" fill="#111" stroke="#111" stroke-width="0.25" textLength="67.70" lengthAdjust="spacingAndGlyphs">Time (ns)</text>
<text x="167.70" y="317.1" font-family="'Liberation Serif', serif" font-size="15" fill="#111" stroke="#111" stroke-width="0.25" textLength="67.30" lengthAdjust="spacingAndGlyphs">Time (ns)</text>
<text x="267.70" y="317.1" font-family="'Liberation Serif', serif" font-size="15" fill="#111" stroke="#111" stroke-width="0.25" textLength="67.30" lengthAdjust="spacingAndGlyphs">Time (<tspan font-family="'Liberation Serif', serif" font-style="italic">&#956;</tspan><tspan font-family="'Liberation Sans', sans-serif">s</tspan>)</text>
<text x="368.50" y="317.1" font-family="'Liberation Serif', serif" font-size="15" fill="#111" stroke="#111" stroke-width="0.25" textLength="67.50" lengthAdjust="spacingAndGlyphs">Time (<tspan font-family="'Liberation Serif', serif" font-style="italic">&#956;</tspan><tspan font-family="'Liberation Sans', sans-serif">s</tspan>)</text>
<text x="469.50" y="317.1" font-family="'Liberation Serif', serif" font-size="15" fill="#111" stroke="#111" stroke-width="0.25" textLength="67.40" lengthAdjust="spacingAndGlyphs">Time (<tspan font-family="'Liberation Serif', serif" font-style="italic">&#956;</tspan><tspan font-family="'Liberation Sans', sans-serif">s</tspan>)</text>
<text transform="translate(17.0,238.8) rotate(-90)" x="0" y="0" font-family="'Liberation Serif', serif" font-size="17" fill="#111" stroke="#111" stroke-width="0.2" textLength="171.2" lengthAdjust="spacingAndGlyphs">Intensity (arb. units)</text>
<text x="58.70" y="31.10" font-family="'Liberation Serif', serif" font-size="10.5" fill="#111" stroke="#111" stroke-width="0.25" textLength="12.6" lengthAdjust="spacingAndGlyphs">(a)</text>
<text x="159.70" y="31.10" font-family="'Liberation Serif', serif" font-size="10.5" fill="#111" stroke="#111" stroke-width="0.25" textLength="12.6" lengthAdjust="spacingAndGlyphs">(b)</text>
<text x="260.00" y="31.10" font-family="'Liberation Serif', serif" font-size="10.5" fill="#111" stroke="#111" stroke-width="0.25" textLength="12.6" lengthAdjust="spacingAndGlyphs">(c)</text>
<text x="360.90" y="31.10" font-family="'Liberation Serif', serif" font-size="10.5" fill="#111" stroke="#111" stroke-width="0.25" textLength="12.6" lengthAdjust="spacingAndGlyphs">(d)</text>
<text x="461.80" y="31.10" font-family="'Liberation Serif', serif" font-size="10.5" fill="#111" stroke="#111" stroke-width="0.25" textLength="12.6" lengthAdjust="spacingAndGlyphs">(e)</text>
<text x="58.70" y="181.10" font-family="'Liberation Serif', serif" font-size="10.5" fill="#111" stroke="#111" stroke-width="0.25" textLength="12.6" lengthAdjust="spacingAndGlyphs">(f)</text>
<text x="159.70" y="181.10" font-family="'Liberation Serif', serif" font-size="10.5" fill="#111" stroke="#111" stroke-width="0.25" textLength="12.6" lengthAdjust="spacingAndGlyphs">(g)</text>
<text x="260.00" y="181.10" font-family="'Liberation Serif', serif" font-size="10.5" fill="#111" stroke="#111" stroke-width="0.25" textLength="12.6" lengthAdjust="spacingAndGlyphs">(h)</text>
<text x="360.90" y="181.10" font-family="'Liberation Serif', serif" font-size="10.5" fill="#111" stroke="#111" stroke-width="0.25" textLength="12.6" lengthAdjust="spacingAndGlyphs">(i)</text>
<text x="461.80" y="181.10" font-family="'Liberation Serif', serif" font-size="10.5" fill="#111" stroke="#111" stroke-width="0.25" textLength="12.6" lengthAdjust="spacingAndGlyphs">(j)</text>
<rect x="89.3" y="22.50" width="48" height="29.6" rx="2" ry="2" fill="#fff" fill-opacity="0.8" stroke="#d6d6d6" stroke-width="0.8"/>
<line x1="93.0" y1="29.70" x2="112.8" y2="29.70" stroke="#D95319" stroke-width="1.1" stroke-opacity="0.85"/>
<line x1="93.0" y1="43.40" x2="112.8" y2="43.40" stroke="#0072BD" stroke-width="1.1" stroke-opacity="0.85"/>
<text x="119.7" y="33.60" font-family="'Liberation Serif', serif" font-size="10.6" fill="#111" stroke="#111" stroke-width="0.35" textLength="14.2" lengthAdjust="spacingAndGlyphs">GS</text>
<text x="119.7" y="47.10" font-family="'Liberation Serif', serif" font-size="10.6" fill="#111" stroke="#111" stroke-width="0.35" textLength="13.8" lengthAdjust="spacingAndGlyphs">ES</text>
<rect x="89.3" y="172.20" width="48" height="29.6" rx="2" ry="2" fill="#fff" fill-opacity="0.8" stroke="#d6d6d6" stroke-width="0.8"/>
<line x1="93.0" y1="179.40" x2="112.8" y2="179.40" stroke="#D95319" stroke-width="1.1" stroke-opacity="0.85"/>
<line x1="93.0" y1="193.10" x2="112.8" y2="193.10" stroke="#0072BD" stroke-width="1.1" stroke-opacity="0.85"/>
<text x="119.7" y="183.30" font-family="'Liberation Serif', serif" font-size="10.6" fill="#111" stroke="#111" stroke-width="0.35" textLength="14.2" lengthAdjust="spacingAndGlyphs">GS</text>
<text x="119.7" y="196.80" font-family="'Liberation Serif', serif" font-size="10.6" fill="#111" stroke="#111" stroke-width="0.35" textLength="13.8" lengthAdjust="spacingAndGlyphs">ES</text>
</svg></body></html>
